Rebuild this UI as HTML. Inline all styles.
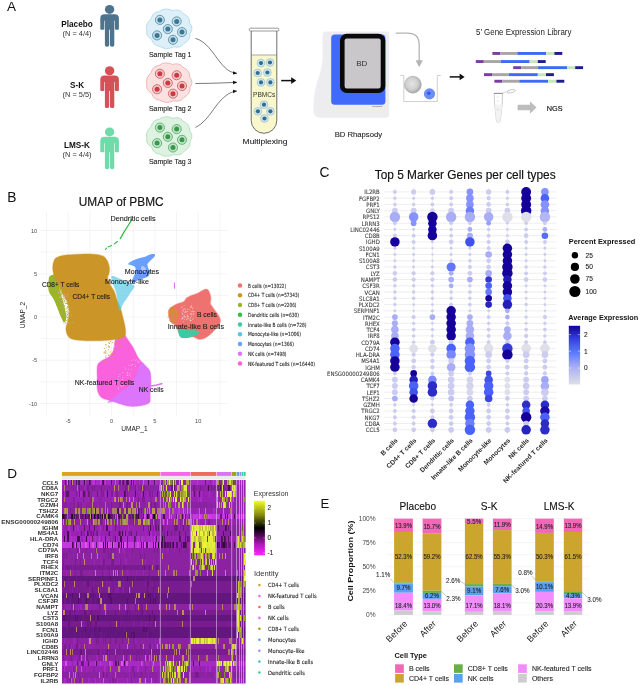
<!DOCTYPE html>
<html><head><meta charset="utf-8"><title>Figure</title><style>html,body{margin:0;padding:0;background:#fff;width:640px;height:685px;overflow:hidden}svg{display:block}</style></head><body>
<svg width="640" height="685" viewBox="0 0 640 685">
<text x="7" y="10.6" font-family="Liberation Sans, Arial, sans-serif" font-size="13.5" fill="#111">A</text>
<ellipse cx="109.6" cy="9.4" rx="4.7" ry="4.5" fill="#4D748C"/><path d="M100.3,18.5 Q100.3,14.3 104.5,14.3 L114.69999999999999,14.3 Q118.89999999999999,14.3 118.89999999999999,18.5 L118.89999999999999,28.700000000000003 Q118.89999999999999,29.700000000000003 117.89999999999999,29.700000000000003 L115.89999999999999,29.700000000000003 Q114.89999999999999,29.700000000000003 114.89999999999999,28.700000000000003 L114.89999999999999,20.8 L114.3,20.8 L114.3,45.099999999999994 Q114.3,46.699999999999996 112.49999999999999,46.699999999999996 L111.8,46.699999999999996 Q110.0,46.699999999999996 110.0,45.099999999999994 L110.0,29.700000000000003 L109.19999999999999,29.700000000000003 L109.19999999999999,45.099999999999994 Q109.19999999999999,46.699999999999996 107.39999999999999,46.699999999999996 L106.7,46.699999999999996 Q104.89999999999999,46.699999999999996 104.89999999999999,45.099999999999994 L104.89999999999999,20.8 L104.3,20.8 L104.3,28.700000000000003 Q104.3,29.700000000000003 103.3,29.700000000000003 L101.3,29.700000000000003 Q100.3,29.700000000000003 100.3,28.700000000000003 Z" fill="#4D748C"/>
<text x="77" y="26.9" font-family="Liberation Sans, Arial, sans-serif" font-size="8.2" font-weight="bold" fill="#111" text-anchor="middle">Placebo</text>
<text x="77.1" y="36.1" font-family="Liberation Sans, Arial, sans-serif" font-size="7.4" fill="#333" text-anchor="middle">(N = 4/4)</text>
<path d="M190.09,33.36 Q190.47,40.41 183.82,43.62 Q180.78,48.68 173.74,46.83 Q166.23,50.56 159.84,46.38 Q152.98,45.72 151.67,39.31 Q145.41,35.93 146.81,30.26 Q145.08,23.78 151.18,18.93 Q152.31,12.43 159.21,11.48 Q165.19,7.11 172.66,10.60 Q179.70,8.48 183.10,13.48 Q189.87,16.34 189.80,23.33 Q193.94,28.26 190.09,33.36Z" fill="#DDEFF8" stroke="#A8D4E8" stroke-width="0.75"/><circle cx="159.9" cy="19.9" r="4.55" fill="#3F7894" fill-opacity="0.14" stroke="#3F7894" stroke-width="0.7"/><circle cx="159.9" cy="19.9" r="2.5" fill="#3A7796"/><circle cx="176.7" cy="21.4" r="4.55" fill="#3F7894" fill-opacity="0.14" stroke="#3F7894" stroke-width="0.7"/><circle cx="176.7" cy="21.4" r="2.5" fill="#3A7796"/><circle cx="167.8" cy="29.1" r="4.55" fill="#3F7894" fill-opacity="0.14" stroke="#3F7894" stroke-width="0.7"/><circle cx="167.8" cy="29.1" r="2.5" fill="#3A7796"/><circle cx="182.0" cy="32.1" r="4.55" fill="#3F7894" fill-opacity="0.14" stroke="#3F7894" stroke-width="0.7"/><circle cx="182.0" cy="32.1" r="2.5" fill="#3A7796"/><circle cx="157.1" cy="35.4" r="4.55" fill="#3F7894" fill-opacity="0.14" stroke="#3F7894" stroke-width="0.7"/><circle cx="157.1" cy="35.4" r="2.5" fill="#3A7796"/><circle cx="173.0" cy="39.8" r="4.55" fill="#3F7894" fill-opacity="0.14" stroke="#3F7894" stroke-width="0.7"/><circle cx="173.0" cy="39.8" r="2.5" fill="#3A7796"/>
<text x="170.2" y="56.7" font-family="Liberation Sans, Arial, sans-serif" font-size="7.9" fill="#222" stroke="#222" stroke-width="0.12" text-anchor="middle" textLength="42.6" lengthAdjust="spacingAndGlyphs">Sample Tag 1</text>
<ellipse cx="109.6" cy="70.7" rx="4.7" ry="4.5" fill="#D45157"/><path d="M100.3,79.80000000000001 Q100.3,75.60000000000001 104.5,75.60000000000001 L114.69999999999999,75.60000000000001 Q118.89999999999999,75.60000000000001 118.89999999999999,79.80000000000001 L118.89999999999999,90.0 Q118.89999999999999,91.0 117.89999999999999,91.0 L115.89999999999999,91.0 Q114.89999999999999,91.0 114.89999999999999,90.0 L114.89999999999999,82.10000000000001 L114.3,82.10000000000001 L114.3,106.4 Q114.3,108.0 112.49999999999999,108.0 L111.8,108.0 Q110.0,108.0 110.0,106.4 L110.0,91.0 L109.19999999999999,91.0 L109.19999999999999,106.4 Q109.19999999999999,108.0 107.39999999999999,108.0 L106.7,108.0 Q104.89999999999999,108.0 104.89999999999999,106.4 L104.89999999999999,82.10000000000001 L104.3,82.10000000000001 L104.3,90.0 Q104.3,91.0 103.3,91.0 L101.3,91.0 Q100.3,91.0 100.3,90.0 Z" fill="#D45157"/>
<text x="77" y="87.5" font-family="Liberation Sans, Arial, sans-serif" font-size="8.2" font-weight="bold" fill="#111" text-anchor="middle">S-K</text>
<text x="77.1" y="96.7" font-family="Liberation Sans, Arial, sans-serif" font-size="7.4" fill="#333" text-anchor="middle">(N = 5/5)</text>
<path d="M190.09,87.21 Q190.47,94.26 183.82,97.47 Q180.78,102.53 173.74,100.68 Q166.23,104.41 159.84,100.23 Q152.98,99.57 151.67,93.16 Q145.41,89.78 146.81,84.11 Q145.08,77.63 151.18,72.78 Q152.31,66.28 159.21,65.33 Q165.19,60.96 172.66,64.45 Q179.70,62.33 183.10,67.33 Q189.87,70.19 189.80,77.18 Q193.94,82.11 190.09,87.21Z" fill="#FBE1E0" stroke="#EAA7A6" stroke-width="0.75"/><circle cx="159.9" cy="73.75" r="4.55" fill="#C9414B" fill-opacity="0.14" stroke="#C9414B" stroke-width="0.7"/><circle cx="159.9" cy="73.75" r="2.5" fill="#C93A43"/><circle cx="176.7" cy="75.25" r="4.55" fill="#C9414B" fill-opacity="0.14" stroke="#C9414B" stroke-width="0.7"/><circle cx="176.7" cy="75.25" r="2.5" fill="#C93A43"/><circle cx="167.8" cy="82.95" r="4.55" fill="#C9414B" fill-opacity="0.14" stroke="#C9414B" stroke-width="0.7"/><circle cx="167.8" cy="82.95" r="2.5" fill="#C93A43"/><circle cx="182.0" cy="85.95" r="4.55" fill="#C9414B" fill-opacity="0.14" stroke="#C9414B" stroke-width="0.7"/><circle cx="182.0" cy="85.95" r="2.5" fill="#C93A43"/><circle cx="157.1" cy="89.25" r="4.55" fill="#C9414B" fill-opacity="0.14" stroke="#C9414B" stroke-width="0.7"/><circle cx="157.1" cy="89.25" r="2.5" fill="#C93A43"/><circle cx="173.0" cy="93.65" r="4.55" fill="#C9414B" fill-opacity="0.14" stroke="#C9414B" stroke-width="0.7"/><circle cx="173.0" cy="93.65" r="2.5" fill="#C93A43"/>
<text x="170.2" y="110.6" font-family="Liberation Sans, Arial, sans-serif" font-size="7.9" fill="#222" stroke="#222" stroke-width="0.12" text-anchor="middle" textLength="42.6" lengthAdjust="spacingAndGlyphs">Sample Tag 2</text>
<ellipse cx="109.6" cy="131.9" rx="4.7" ry="4.5" fill="#6EDBA8"/><path d="M100.3,141.0 Q100.3,136.8 104.5,136.8 L114.69999999999999,136.8 Q118.89999999999999,136.8 118.89999999999999,141.0 L118.89999999999999,151.20000000000002 Q118.89999999999999,152.20000000000002 117.89999999999999,152.20000000000002 L115.89999999999999,152.20000000000002 Q114.89999999999999,152.20000000000002 114.89999999999999,151.20000000000002 L114.89999999999999,143.3 L114.3,143.3 L114.3,167.6 Q114.3,169.2 112.49999999999999,169.2 L111.8,169.2 Q110.0,169.2 110.0,167.6 L110.0,152.20000000000002 L109.19999999999999,152.20000000000002 L109.19999999999999,167.6 Q109.19999999999999,169.2 107.39999999999999,169.2 L106.7,169.2 Q104.89999999999999,169.2 104.89999999999999,167.6 L104.89999999999999,143.3 L104.3,143.3 L104.3,151.20000000000002 Q104.3,152.20000000000002 103.3,152.20000000000002 L101.3,152.20000000000002 Q100.3,152.20000000000002 100.3,151.20000000000002 Z" fill="#6EDBA8"/>
<text x="77" y="147.8" font-family="Liberation Sans, Arial, sans-serif" font-size="8.2" font-weight="bold" fill="#111" text-anchor="middle">LMS-K</text>
<text x="77.1" y="157.0" font-family="Liberation Sans, Arial, sans-serif" font-size="7.4" fill="#333" text-anchor="middle">(N = 4/4)</text>
<path d="M190.09,141.06 Q190.47,148.11 183.82,151.32 Q180.78,156.38 173.74,154.53 Q166.23,158.26 159.84,154.08 Q152.98,153.42 151.67,147.01 Q145.41,143.63 146.81,137.96 Q145.08,131.48 151.18,126.63 Q152.31,120.13 159.21,119.18 Q165.19,114.81 172.66,118.30 Q179.70,116.18 183.10,121.18 Q189.87,124.04 189.80,131.03 Q193.94,135.96 190.09,141.06Z" fill="#DDF2E0" stroke="#A6D9AE" stroke-width="0.75"/><circle cx="159.9" cy="127.6" r="4.55" fill="#3B9A4C" fill-opacity="0.14" stroke="#3B9A4C" stroke-width="0.7"/><circle cx="159.9" cy="127.6" r="2.5" fill="#36984A"/><circle cx="176.7" cy="129.1" r="4.55" fill="#3B9A4C" fill-opacity="0.14" stroke="#3B9A4C" stroke-width="0.7"/><circle cx="176.7" cy="129.1" r="2.5" fill="#36984A"/><circle cx="167.8" cy="136.8" r="4.55" fill="#3B9A4C" fill-opacity="0.14" stroke="#3B9A4C" stroke-width="0.7"/><circle cx="167.8" cy="136.8" r="2.5" fill="#36984A"/><circle cx="182.0" cy="139.8" r="4.55" fill="#3B9A4C" fill-opacity="0.14" stroke="#3B9A4C" stroke-width="0.7"/><circle cx="182.0" cy="139.8" r="2.5" fill="#36984A"/><circle cx="157.1" cy="143.1" r="4.55" fill="#3B9A4C" fill-opacity="0.14" stroke="#3B9A4C" stroke-width="0.7"/><circle cx="157.1" cy="143.1" r="2.5" fill="#36984A"/><circle cx="173.0" cy="147.5" r="4.55" fill="#3B9A4C" fill-opacity="0.14" stroke="#3B9A4C" stroke-width="0.7"/><circle cx="173.0" cy="147.5" r="2.5" fill="#36984A"/>
<text x="170.2" y="164.4" font-family="Liberation Sans, Arial, sans-serif" font-size="7.9" fill="#222" stroke="#222" stroke-width="0.12" text-anchor="middle" textLength="42.6" lengthAdjust="spacingAndGlyphs">Sample Tag 3</text>
<defs><marker id="ah" viewBox="0 0 10 10" refX="9" refY="5" markerWidth="7" markerHeight="7" orient="auto"><path d="M0,1 L10,5 L0,9 z" fill="#111"/></marker></defs>
<path d="M195.4,38.3 C207,42 212,52 220,62 C226,69.5 230,72.5 236.8,73.3" fill="none" stroke="#222" stroke-width="0.6" marker-end="url(#ah)"/>
<path d="M195.4,83.5 C210,83.4 222,83 236.8,82.3" fill="none" stroke="#222" stroke-width="0.6" marker-end="url(#ah)"/>
<path d="M195.4,127.4 C203,124 209,116 216,106 C223,97 229,92 236.8,91" fill="none" stroke="#222" stroke-width="0.6" marker-end="url(#ah)"/>
<path d="M251.2,55 L276.8,55 L276.8,120.5 A12.8,12.8 0 0 1 251.2,120.5 Z" fill="#F8F8CC"/>
<line x1="251.6" y1="55" x2="276.4" y2="55" stroke="#888" stroke-width="0.7"/>
<path d="M251.2,31 L251.2,120.5 A12.8,12.8 0 0 0 276.8,120.5 L276.8,31" fill="none" stroke="#4A4A4A" stroke-width="0.8"/>
<rect x="249.3" y="28.2" width="29.6" height="2.8" rx="1.2" fill="#fff" stroke="#555" stroke-width="0.6"/>
<circle cx="261" cy="63.1" r="3.9" fill="#D5E8F2" stroke="#6FA3C0" stroke-width="0.45"/><circle cx="261" cy="63.1" r="2.1" fill="#2E6E8E"/>
<circle cx="270" cy="62.5" r="3.9" fill="#D5E8F2" stroke="#6FA3C0" stroke-width="0.45"/><circle cx="270" cy="62.5" r="2.1" fill="#2E6E8E"/>
<circle cx="257.7" cy="73" r="3.9" fill="#D5E8F2" stroke="#6FA3C0" stroke-width="0.45"/><circle cx="257.7" cy="73" r="2.1" fill="#2E6E8E"/>
<circle cx="267.4" cy="72.5" r="3.9" fill="#D5E8F2" stroke="#6FA3C0" stroke-width="0.45"/><circle cx="267.4" cy="72.5" r="2.1" fill="#2E6E8E"/>
<circle cx="261" cy="82.4" r="3.9" fill="#D5E8F2" stroke="#6FA3C0" stroke-width="0.45"/><circle cx="261" cy="82.4" r="2.1" fill="#2E6E8E"/>
<circle cx="270.4" cy="82.4" r="3.9" fill="#D5E8F2" stroke="#6FA3C0" stroke-width="0.45"/><circle cx="270.4" cy="82.4" r="2.1" fill="#2E6E8E"/>
<circle cx="264" cy="104.7" r="3.9" fill="#D5E8F2" stroke="#6FA3C0" stroke-width="0.45"/><circle cx="264" cy="104.7" r="2.1" fill="#2E6E8E"/>
<circle cx="257.9" cy="111.3" r="3.9" fill="#D5E8F2" stroke="#6FA3C0" stroke-width="0.45"/><circle cx="257.9" cy="111.3" r="2.1" fill="#2E6E8E"/>
<circle cx="270.4" cy="111.3" r="3.9" fill="#D5E8F2" stroke="#6FA3C0" stroke-width="0.45"/><circle cx="270.4" cy="111.3" r="2.1" fill="#2E6E8E"/>
<circle cx="264.5" cy="118.5" r="3.9" fill="#D5E8F2" stroke="#6FA3C0" stroke-width="0.45"/><circle cx="264.5" cy="118.5" r="2.1" fill="#2E6E8E"/>
<text x="264.2" y="97" font-family="Liberation Sans, Arial, sans-serif" font-size="7.1" fill="#333" text-anchor="middle" textLength="22.3" lengthAdjust="spacingAndGlyphs">PBMCs</text>
<text x="265" y="143.5" font-family="Liberation Sans, Arial, sans-serif" font-size="8.1" fill="#222" stroke="#222" stroke-width="0.1" text-anchor="middle" textLength="44.9" lengthAdjust="spacingAndGlyphs">Multiplexing</text>
<line x1="281.2" y1="80.6" x2="292" y2="80.6" stroke="#111" stroke-width="1.5"/><path d="M291.2,77.3 L296.3,80.6 L291.2,83.9 Z" fill="#111"/>
<path d="M326,31.4 L386,31.4 Q389.2,31.4 389.2,34.6 L389.2,114.5 Q389.2,117.8 386,117.8 L320,117.8 Q313.2,117.8 313.4,110 L313.8,99 Q314.5,90 318.5,78 Q322.4,66 322.6,58 L322.6,35 Q322.6,31.4 326,31.4 Z" fill="#EDEDEF"/>
<rect x="331.2" y="34.5" width="54.2" height="70.2" rx="3.5" fill="#406AFC"/>
<rect x="342.3" y="36.1" width="40.7" height="54.6" rx="4.5" fill="#C9C7C9" stroke="#0A0A0A" stroke-width="4.6"/>
<text x="361.8" y="65.8" font-family="Liberation Sans, Arial, sans-serif" font-size="8" fill="#333" text-anchor="middle">BD</text>
<text x="377.5" y="107.2" font-family="Liberation Sans, Arial, sans-serif" font-size="1.6" fill="#444" text-anchor="middle">BD Rhapsody</text>
<text x="358.4" y="136.8" font-family="Liberation Sans, Arial, sans-serif" font-size="7.8" fill="#222" stroke="#222" stroke-width="0.1" text-anchor="middle" textLength="47.3" lengthAdjust="spacingAndGlyphs">BD Rhapsody</text>
<path d="M395.8,33.2 L407.5,33.2 Q419.2,33.2 419.2,45 L419.2,61" fill="none" stroke="#B4B4B4" stroke-width="1.3"/>
<path d="M415.6,60.2 L422.8,60.2 L419.2,67.2 Z" fill="#B4B4B4"/>
<path d="M400.3,75.5 L403.8,75.5 L403.8,101.5 L437.3,101.5 L437.3,75.5 L440.8,75.5" fill="none" stroke="#C4C4C4" stroke-width="0.8"/>
<defs><radialGradient id="bead" cx="0.45" cy="0.45" r="0.55"><stop offset="0" stop-color="#E4E4E4"/><stop offset="0.6" stop-color="#D0D0D0"/><stop offset="1" stop-color="#A4A4A4"/></radialGradient></defs>
<circle cx="412.8" cy="84.6" r="8.8" fill="url(#bead)"/>
<circle cx="429.5" cy="93.9" r="5.6" fill="#6E8EF6"/><circle cx="428.8" cy="93.2" r="1.7" fill="#2E55EE"/>
<line x1="449.7" y1="76.9" x2="460.5" y2="76.9" stroke="#111" stroke-width="1.5"/><path d="M459.6,73.6 L464.6,76.9 L459.6,80.2 Z" fill="#111"/>
<text x="476" y="35.4" font-family="Liberation Sans, Arial, sans-serif" font-size="8.3" fill="#222" textLength="95.4" lengthAdjust="spacingAndGlyphs">5’ Gene Expression Library</text>
<rect x="492.4" y="52.0" width="8.0" height="2.9" fill="#7B3DA3"/>
<rect x="500.4" y="52.0" width="16.9" height="2.9" fill="#A9A5A5"/>
<rect x="517.3" y="52.0" width="28.9" height="2.9" fill="#3E6BF2"/>
<rect x="546.2" y="52.0" width="8.2" height="2.9" fill="#C7E6BE"/>
<rect x="554.4" y="52.0" width="7.9" height="2.9" fill="#1F1D8E"/>
<rect x="475.8" y="60.1" width="8.0" height="2.9" fill="#7B3DA3"/>
<rect x="483.8" y="60.1" width="16.9" height="2.9" fill="#A9A5A5"/>
<rect x="500.7" y="60.1" width="28.9" height="2.9" fill="#3E6BF2"/>
<rect x="529.6" y="60.1" width="8.2" height="2.9" fill="#C7E6BE"/>
<rect x="537.8" y="60.1" width="7.9" height="2.9" fill="#1F1D8E"/>
<rect x="513.2" y="66.2" width="8.0" height="2.9" fill="#7B3DA3"/>
<rect x="521.2" y="66.2" width="16.9" height="2.9" fill="#A9A5A5"/>
<rect x="538.1" y="66.2" width="28.9" height="2.9" fill="#3E6BF2"/>
<rect x="567.0" y="66.2" width="8.2" height="2.9" fill="#C7E6BE"/>
<rect x="575.2" y="66.2" width="7.9" height="2.9" fill="#1F1D8E"/>
<rect x="484.0" y="73.2" width="8.0" height="2.9" fill="#7B3DA3"/>
<rect x="492.0" y="73.2" width="16.9" height="2.9" fill="#A9A5A5"/>
<rect x="508.9" y="73.2" width="28.9" height="2.9" fill="#3E6BF2"/>
<rect x="537.8" y="73.2" width="8.2" height="2.9" fill="#C7E6BE"/>
<rect x="546.0" y="73.2" width="7.9" height="2.9" fill="#1F1D8E"/>
<rect x="494.4" y="79.8" width="8.0" height="2.9" fill="#7B3DA3"/>
<rect x="502.4" y="79.8" width="16.9" height="2.9" fill="#A9A5A5"/>
<rect x="519.3" y="79.8" width="28.9" height="2.9" fill="#3E6BF2"/>
<rect x="548.2" y="79.8" width="8.2" height="2.9" fill="#C7E6BE"/>
<rect x="556.4" y="79.8" width="7.9" height="2.9" fill="#1F1D8E"/>
<path d="M494.2,93.4 L502.6,93.4 L502.2,104 L500.2,121.5 Q498.4,123.8 496.6,121.5 L494.6,104 Z" fill="#fff" stroke="#9A9A9A" stroke-width="0.5"/>
<path d="M494.6,104.5 L502.2,104.5 L500.2,121.5 Q498.4,123.8 496.6,121.5 Z" fill="#F2F2F2"/>
<line x1="494" y1="93.4" x2="502.8" y2="93.4" stroke="#888" stroke-width="0.9"/>
<line x1="496.5" y1="97" x2="499" y2="97" stroke="#AAA" stroke-width="0.3"/><line x1="496.5" y1="101" x2="499" y2="101" stroke="#AAA" stroke-width="0.3"/><line x1="496.5" y1="109.5" x2="499" y2="109.5" stroke="#AAA" stroke-width="0.3"/>
<path d="M502.6,93.4 Q505,92 507,91.6" fill="none" stroke="#999" stroke-width="0.4"/>
<ellipse cx="511.2" cy="91.2" rx="4.2" ry="1.5" transform="rotate(-12 511.2 91.2)" fill="#fff" stroke="#999" stroke-width="0.5"/>
<path d="M517.6,104.7 L530,104.7 L530,101.2 L536.5,107.5 L530,113.8 L530,110.3 L517.6,110.3 Z" fill="#BDBDBD"/>
<text x="546.7" y="110.6" font-family="Liberation Sans, Arial, sans-serif" font-size="7.3" fill="#111" stroke="#111" stroke-width="0.15">NGS</text>
<text x="7.3" y="202.1" font-family="Liberation Sans, Arial, sans-serif" font-size="13.8" fill="#111">B</text>
<text x="78.8" y="205.8" font-family="Liberation Sans, Arial, sans-serif" font-size="12.5" fill="#111" stroke="#111" stroke-width="0.15" textLength="84.8" lengthAdjust="spacingAndGlyphs">UMAP of PBMC</text>
<path d="M46.5,211.3V415.7M68.2,211.3V415.7M89.8,211.3V415.7M111.5,211.3V415.7M133.2,211.3V415.7M154.8,211.3V415.7M176.5,211.3V415.7M198.2,211.3V415.7M219.9,211.3V415.7M39.7,230.5H227.8M39.7,252.1H227.8M39.7,273.8H227.8M39.7,295.4H227.8M39.7,317.0H227.8M39.7,338.6H227.8M39.7,360.2H227.8M39.7,381.9H227.8M39.7,403.5H227.8" stroke="#EBEBEB" stroke-width="0.55" fill="none"/>
<text x="37.2" y="232.5" font-family="Liberation Sans, Arial, sans-serif" font-size="5.6" fill="#4D4D4D" text-anchor="end">10</text>
<text x="37.2" y="275.8" font-family="Liberation Sans, Arial, sans-serif" font-size="5.6" fill="#4D4D4D" text-anchor="end">5</text>
<text x="37.2" y="319.0" font-family="Liberation Sans, Arial, sans-serif" font-size="5.6" fill="#4D4D4D" text-anchor="end">0</text>
<text x="37.2" y="362.2" font-family="Liberation Sans, Arial, sans-serif" font-size="5.6" fill="#4D4D4D" text-anchor="end">-5</text>
<text x="37.2" y="405.5" font-family="Liberation Sans, Arial, sans-serif" font-size="5.6" fill="#4D4D4D" text-anchor="end">-10</text>
<text x="68.2" y="422.9" font-family="Liberation Sans, Arial, sans-serif" font-size="5.6" fill="#4D4D4D" text-anchor="middle">-5</text>
<text x="111.5" y="422.9" font-family="Liberation Sans, Arial, sans-serif" font-size="5.6" fill="#4D4D4D" text-anchor="middle">0</text>
<text x="154.8" y="422.9" font-family="Liberation Sans, Arial, sans-serif" font-size="5.6" fill="#4D4D4D" text-anchor="middle">5</text>
<text x="198.2" y="422.9" font-family="Liberation Sans, Arial, sans-serif" font-size="5.6" fill="#4D4D4D" text-anchor="middle">10</text>
<text x="134.4" y="430.7" font-family="Liberation Sans, Arial, sans-serif" font-size="6.6" fill="#222" text-anchor="middle">UMAP_1</text>
<text x="0" y="0" font-family="Liberation Sans, Arial, sans-serif" font-size="6.6" fill="#222" text-anchor="middle" transform="translate(24.7,315) rotate(-90)">UMAP_2</text>
<path d="M122.5,332.0 C124.1,332.5 125.4,336.1 127.2,338.8 C129.0,341.4 131.6,344.9 133.4,348.0 C135.2,351.1 136.3,354.6 138.1,357.5 C139.9,360.4 142.4,362.9 144.4,365.3 C146.4,367.7 148.8,368.7 149.8,371.6 C150.8,374.5 150.6,378.6 150.6,382.5 C150.6,386.4 150.1,391.6 149.8,395.0 C149.5,398.4 151.2,401.0 149.0,402.8 C146.8,404.6 140.5,405.6 136.6,406.0 C132.7,406.4 129.5,406.0 125.6,405.2 C121.7,404.4 117.0,402.4 113.1,401.2 C109.2,400.1 104.8,399.8 102.2,398.0 C99.6,396.2 98.3,393.7 97.5,390.3 C96.7,386.9 97.2,382.0 97.2,377.8 C97.2,373.6 96.7,368.2 97.5,365.3 C98.3,362.4 100.5,361.9 102.2,360.6 C104.0,359.3 106.4,358.6 108.0,357.5 C109.6,356.4 110.6,355.6 111.6,354.0 C112.6,352.4 113.7,350.0 114.2,348.0 C114.7,346.0 114.1,343.9 114.7,341.9 C115.3,339.9 116.5,337.6 117.8,336.0 C119.1,334.4 120.9,331.5 122.5,332.0Z" fill="#F962DC" stroke="#F962DC" stroke-opacity="0.35" stroke-width="1.4"/>
<path d="M141.5,362.5 C142.7,362.0 144.1,364.5 145.5,366.0 C146.9,367.5 149.0,368.9 149.8,371.6 C150.7,374.4 150.6,378.6 150.6,382.5 C150.6,386.4 150.1,391.6 149.8,395.0 C149.5,398.4 151.2,401.0 149.0,402.8 C146.8,404.6 140.5,405.6 136.6,406.0 C132.7,406.4 129.5,405.9 125.6,405.2 C121.7,404.4 116.0,401.9 113.1,401.5 C110.2,401.1 108.0,403.1 108.0,402.5 C108.0,401.9 111.0,399.7 113.0,398.0 C115.0,396.3 117.5,394.3 120.0,392.5 C122.5,390.7 125.6,389.2 128.0,387.0 C130.4,384.8 132.8,382.0 134.5,379.0 C136.2,376.0 137.3,371.8 138.5,369.0 C139.7,366.2 140.3,363.0 141.5,362.5Z" fill="#DC74FC" stroke="#DC74FC" stroke-opacity="0.35" stroke-width="1.4"/>
<path d="M150,386 L156,385.2 L162.5,383.4" stroke="#DC74FC" stroke-width="1.6" fill="none"/>
<path d="M50.0,276.0 C51.1,275.1 53.7,274.1 55.0,274.8 C56.3,275.6 57.0,278.1 57.8,280.5 C58.5,282.9 58.7,286.3 59.5,289.5 C60.3,292.7 61.6,296.2 62.5,299.5 C63.4,302.8 64.4,305.9 65.0,309.0 C65.6,312.1 66.4,315.8 66.2,318.0 C66.0,320.2 65.0,322.8 64.0,322.5 C63.0,322.2 61.7,318.6 60.5,316.0 C59.3,313.4 58.2,309.8 57.0,307.0 C55.8,304.2 54.8,301.3 53.5,299.0 C52.2,296.7 50.4,294.9 49.5,293.0 C48.6,291.1 48.4,289.6 48.2,287.5 C48.1,285.4 48.3,282.4 48.6,280.5 C48.9,278.6 48.9,276.9 50.0,276.0Z" fill="#9AB52A" />
<path d="M53.3,263.2 C53.8,261.6 54.0,259.6 55.6,258.3 C57.2,257.0 59.0,256.1 63.0,255.4 C67.0,254.7 74.6,254.4 79.7,254.2 C84.8,254.0 89.6,253.9 93.5,254.2 C97.4,254.5 101.0,255.0 103.3,256.2 C105.6,257.4 106.4,259.1 107.4,261.1 C108.4,263.1 109.3,265.8 109.5,268.0 C109.7,270.2 109.1,272.7 108.8,274.3 C108.5,275.9 107.4,276.0 107.6,277.7 C107.8,279.4 109.1,282.4 110.2,284.7 C111.3,287.0 113.2,289.1 114.3,291.6 C115.4,294.1 116.0,297.1 117.1,299.9 C118.1,302.7 119.7,305.5 120.6,308.3 C121.5,311.1 122.0,313.8 122.7,316.6 C123.4,319.4 124.2,322.4 124.7,324.9 C125.2,327.4 125.6,329.9 125.6,331.8 C125.6,333.7 125.7,334.8 124.7,336.0 C123.8,337.2 122.8,338.1 119.9,338.8 C117.0,339.5 111.8,339.9 107.4,340.2 C103.0,340.5 98.1,340.8 93.5,340.8 C88.9,340.8 83.4,340.5 79.7,340.2 C76.0,339.9 73.5,339.7 71.4,338.8 C69.3,337.9 68.1,336.5 67.2,334.6 C66.3,332.8 65.8,330.2 66.0,327.7 C66.2,325.1 67.7,322.1 68.2,319.3 C68.7,316.5 69.5,314.1 69.2,311.0 C68.9,307.9 67.9,303.8 66.5,300.5 C65.1,297.2 62.5,294.1 61.0,291.0 C59.5,287.9 58.7,284.7 57.5,282.0 C56.3,279.3 54.8,277.3 54.0,275.0 C53.2,272.7 52.8,270.0 52.7,268.0 C52.6,266.0 52.8,264.8 53.3,263.2Z" fill="#CB9627" stroke="#CB9627" stroke-opacity="0.35" stroke-width="1.4"/>
<path d="M111.5,276.0 C112.3,275.0 115.6,277.1 118.0,278.0 C120.4,278.9 123.2,280.2 126.0,281.5 C128.8,282.8 133.7,284.2 134.5,286.0 C135.3,287.8 132.3,289.8 131.0,292.0 C129.7,294.2 127.9,296.8 126.5,299.0 C125.1,301.2 123.5,303.1 122.5,305.0 C121.5,306.9 121.0,309.8 120.3,310.5 C119.6,311.2 119.0,310.6 118.5,309.0 C118.0,307.4 117.9,303.8 117.5,301.0 C117.1,298.2 116.8,294.8 116.0,292.0 C115.2,289.2 113.8,286.7 113.0,284.0 C112.2,281.3 110.7,277.0 111.5,276.0Z" fill="#55C6E6" fill-opacity="0.68"/>
<path d="M128.5,263.5 C128.8,262.8 131.2,261.4 133.0,260.5 C134.8,259.6 137.0,258.9 139.0,258.3 C141.0,257.7 143.2,257.4 145.0,256.8 C146.8,256.2 148.4,254.9 150.0,254.5 C151.6,254.1 153.9,253.9 154.7,254.2 C155.4,254.5 155.2,255.4 154.5,256.5 C153.8,257.6 151.7,259.2 150.5,260.5 C149.3,261.8 147.9,262.8 147.5,264.0 C147.1,265.2 147.8,266.7 148.2,268.0 C148.6,269.3 150.2,270.6 150.2,272.0 C150.2,273.4 149.3,275.4 148.0,276.5 C146.7,277.6 144.2,278.1 142.5,278.8 C140.8,279.5 139.0,279.7 137.5,280.5 C136.0,281.3 134.5,283.3 133.5,283.5 C132.5,283.7 131.5,282.6 131.5,281.5 C131.5,280.4 132.8,278.6 133.5,277.0 C134.2,275.4 135.2,273.7 135.5,272.0 C135.8,270.3 135.8,268.2 135.0,267.0 C134.2,265.8 132.1,265.6 131.0,265.0 C129.9,264.4 128.2,264.2 128.5,263.5Z" fill="#6A9EFF" />
<path d="M128.4,264.3 L132.5,263.2" stroke="#55C6E6" stroke-width="1"/>
<ellipse cx="143.5" cy="269" rx="2.2" ry="3.2" fill="#fff" fill-opacity="0.45" transform="rotate(-30 143.5 269)"/>
<path d="M131.6,219.8 L128.5,225 L124,232 L120.3,238.6" stroke="#33BE45" stroke-width="1.35" fill="none" stroke-linecap="round"/>
<path d="M117.5,241.5 L114.5,243.8 M111.5,245.5 L108.2,247 M106.5,248.2 L105.4,249.3" stroke="#33BE45" stroke-width="1.1" fill="none" stroke-linecap="round"/>
<path d="M206.2,289.1 C207.3,289.2 208.2,289.9 209.0,291.4 C209.8,292.9 210.7,296.0 210.9,298.0 C211.1,300.0 210.1,302.0 210.4,303.6 C210.7,305.2 211.6,305.7 212.8,307.4 C214.0,309.1 216.2,311.9 217.5,313.9 C218.8,315.9 220.0,317.9 220.3,319.6 C220.6,321.3 220.2,322.6 219.4,324.2 C218.6,325.8 217.2,327.2 215.6,328.9 C214.0,330.6 211.9,332.9 210.0,334.5 C208.1,336.1 206.3,337.5 204.4,338.3 C202.5,339.1 200.6,339.4 198.7,339.2 C196.8,338.9 195.1,337.1 193.1,336.8 C191.1,336.5 188.6,337.6 186.6,337.6 C184.6,337.6 182.3,337.7 180.9,336.6 C179.5,335.5 179.0,332.7 178.1,330.8 C177.2,328.9 176.6,326.8 175.3,325.2 C174.1,323.6 171.7,323.1 170.6,321.4 C169.5,319.7 169.0,316.8 168.7,314.9 C168.4,313.0 168.1,311.6 168.7,310.2 C169.3,308.8 170.9,307.5 172.5,306.4 C174.1,305.3 176.2,304.4 178.1,303.6 C180.0,302.8 182.3,302.6 183.7,301.7 C185.1,300.8 185.2,299.1 186.6,298.0 C188.0,296.9 190.3,296.0 192.2,295.2 C194.1,294.4 196.1,294.1 197.8,293.3 C199.5,292.5 201.1,291.2 202.5,290.5 C203.9,289.8 205.1,289.0 206.2,289.1Z" fill="#EE7370" stroke="#EE7370" stroke-opacity="0.35" stroke-width="1.4"/>
<path d="M179.1,328.9 C180.7,328.3 185.3,329.6 188.4,329.9 C191.5,330.2 196.1,330.2 197.8,330.8 C199.6,331.4 199.7,332.6 198.9,333.6 C198.1,334.6 195.2,335.9 193.1,336.6 C191.0,337.3 188.6,337.8 186.6,337.9 C184.6,338.0 182.2,338.2 180.9,337.5 C179.6,336.8 178.9,335.0 178.6,333.6 C178.3,332.2 177.5,329.5 179.1,328.9Z" fill="#3FC9A2" />
<path d="M69.8,310.0h0.8v0.8h-0.8zM60.5,307.0h0.8v0.8h-0.8zM61.9,290.4h0.8v0.8h-0.8zM61.9,308.7h0.8v0.8h-0.8zM64.6,318.9h0.8v0.8h-0.8zM72.5,323.3h0.8v0.8h-0.8zM72.6,322.7h0.8v0.8h-0.8zM60.5,298.4h0.8v0.8h-0.8zM59.9,284.1h0.8v0.8h-0.8zM61.9,286.3h0.8v0.8h-0.8zM70.1,314.0h0.8v0.8h-0.8zM56.8,284.4h0.8v0.8h-0.8zM72.8,321.2h0.8v0.8h-0.8zM63.2,305.8h0.8v0.8h-0.8zM58.1,291.1h0.8v0.8h-0.8zM71.1,311.6h0.8v0.8h-0.8zM66.8,317.1h0.8v0.8h-0.8zM61.6,286.2h0.8v0.8h-0.8zM67.7,303.7h0.8v0.8h-0.8zM62.9,315.5h0.8v0.8h-0.8zM62.1,290.0h0.8v0.8h-0.8zM66.3,313.2h0.8v0.8h-0.8zM60.6,300.2h0.8v0.8h-0.8zM63.1,304.0h0.8v0.8h-0.8zM65.3,298.5h0.8v0.8h-0.8zM66.9,307.2h0.8v0.8h-0.8zM61.7,312.8h0.8v0.8h-0.8zM65.5,301.6h0.8v0.8h-0.8zM67.4,311.4h0.8v0.8h-0.8zM61.8,302.9h0.8v0.8h-0.8zM59.1,289.3h0.8v0.8h-0.8zM65.9,293.5h0.8v0.8h-0.8zM61.8,300.2h0.8v0.8h-0.8zM61.7,288.6h0.8v0.8h-0.8zM59.9,285.4h0.8v0.8h-0.8zM71.8,322.3h0.8v0.8h-0.8zM68.6,316.5h0.8v0.8h-0.8zM66.9,298.0h0.8v0.8h-0.8zM63.0,299.0h0.8v0.8h-0.8zM67.1,295.7h0.8v0.8h-0.8zM60.6,288.9h0.8v0.8h-0.8zM59.3,284.5h0.8v0.8h-0.8zM71.2,321.4h0.8v0.8h-0.8zM61.4,288.7h0.8v0.8h-0.8zM63.3,305.3h0.8v0.8h-0.8zM64.5,305.2h0.8v0.8h-0.8zM67.5,313.8h0.8v0.8h-0.8zM68.3,319.5h0.8v0.8h-0.8zM66.8,320.5h0.8v0.8h-0.8zM64.3,318.1h0.8v0.8h-0.8zM65.5,311.8h0.8v0.8h-0.8zM71.1,315.2h0.8v0.8h-0.8zM62.7,316.5h0.8v0.8h-0.8zM70.8,323.9h0.8v0.8h-0.8zM70.6,322.1h0.8v0.8h-0.8zM66.6,295.7h0.8v0.8h-0.8zM64.7,308.4h0.8v0.8h-0.8zM61.2,308.9h0.8v0.8h-0.8zM59.7,299.2h0.8v0.8h-0.8zM59.7,289.4h0.8v0.8h-0.8zM63.1,294.5h0.8v0.8h-0.8zM66.8,314.0h0.8v0.8h-0.8zM60.6,287.4h0.8v0.8h-0.8zM60.5,289.0h0.8v0.8h-0.8zM67.5,319.1h0.8v0.8h-0.8zM63.3,311.2h0.8v0.8h-0.8zM60.8,289.6h0.8v0.8h-0.8zM62.3,297.9h0.8v0.8h-0.8zM60.1,299.8h0.8v0.8h-0.8zM66.9,303.2h0.8v0.8h-0.8zM63.7,301.1h0.8v0.8h-0.8zM58.4,290.2h0.8v0.8h-0.8zM67.1,299.4h0.8v0.8h-0.8zM60.6,294.2h0.8v0.8h-0.8zM61.4,285.3h0.8v0.8h-0.8zM68.5,302.9h0.8v0.8h-0.8zM63.1,313.2h0.8v0.8h-0.8zM57.8,285.0h0.8v0.8h-0.8zM68.1,300.0h0.8v0.8h-0.8zM62.8,296.5h0.8v0.8h-0.8zM68.7,313.3h0.8v0.8h-0.8zM68.7,323.6h0.8v0.8h-0.8zM68.6,303.6h0.8v0.8h-0.8zM58.6,293.7h0.8v0.8h-0.8zM58.2,286.4h0.8v0.8h-0.8zM59.0,296.2h0.8v0.8h-0.8zM64.1,300.1h0.8v0.8h-0.8zM65.2,303.5h0.8v0.8h-0.8zM59.0,293.0h0.8v0.8h-0.8zM59.8,296.5h0.8v0.8h-0.8zM58.9,293.8h0.8v0.8h-0.8zM62.8,307.1h0.8v0.8h-0.8zM61.7,312.0h0.8v0.8h-0.8zM61.7,295.4h0.8v0.8h-0.8zM67.5,314.4h0.8v0.8h-0.8zM68.5,313.1h0.8v0.8h-0.8zM66.0,316.5h0.8v0.8h-0.8zM57.8,286.6h0.8v0.8h-0.8zM63.9,311.0h0.8v0.8h-0.8zM67.3,314.6h0.8v0.8h-0.8zM57.5,286.0h0.8v0.8h-0.8zM61.8,293.2h0.8v0.8h-0.8zM69.6,317.1h0.8v0.8h-0.8zM63.7,302.4h0.8v0.8h-0.8zM69.4,322.8h0.8v0.8h-0.8zM66.3,316.6h0.8v0.8h-0.8zM68.0,303.3h0.8v0.8h-0.8zM60.3,292.6h0.8v0.8h-0.8zM61.2,293.7h0.8v0.8h-0.8zM64.6,308.7h0.8v0.8h-0.8zM67.2,317.3h0.8v0.8h-0.8zM68.5,308.9h0.8v0.8h-0.8zM59.9,291.4h0.8v0.8h-0.8zM58.3,285.1h0.8v0.8h-0.8zM66.3,303.0h0.8v0.8h-0.8zM66.3,311.2h0.8v0.8h-0.8zM57.5,287.1h0.8v0.8h-0.8zM66.8,296.3h0.8v0.8h-0.8zM63.9,305.8h0.8v0.8h-0.8zM67.1,306.1h0.8v0.8h-0.8zM64.8,319.5h0.8v0.8h-0.8zM65.8,320.2h0.8v0.8h-0.8zM70.0,308.2h0.8v0.8h-0.8zM62.4,308.1h0.8v0.8h-0.8zM72.1,317.4h0.8v0.8h-0.8zM60.7,303.1h0.8v0.8h-0.8zM58.1,290.3h0.8v0.8h-0.8z" fill="#9AB52A"/>
<path d="M62.0,302.8h0.8v0.8h-0.8zM65.9,296.4h0.8v0.8h-0.8zM65.6,315.5h0.8v0.8h-0.8zM61.9,285.9h0.8v0.8h-0.8zM61.4,300.2h0.8v0.8h-0.8zM67.9,323.0h0.8v0.8h-0.8zM60.6,307.2h0.8v0.8h-0.8zM64.0,294.0h0.8v0.8h-0.8zM68.5,322.3h0.8v0.8h-0.8zM58.0,291.7h0.8v0.8h-0.8zM64.6,299.2h0.8v0.8h-0.8zM63.4,305.8h0.8v0.8h-0.8zM60.7,289.7h0.8v0.8h-0.8zM72.8,322.4h0.8v0.8h-0.8zM66.8,294.4h0.8v0.8h-0.8zM62.5,303.7h0.8v0.8h-0.8zM63.9,295.7h0.8v0.8h-0.8zM66.1,315.1h0.8v0.8h-0.8zM67.6,312.3h0.8v0.8h-0.8zM64.9,303.1h0.8v0.8h-0.8zM60.1,297.2h0.8v0.8h-0.8zM61.0,290.0h0.8v0.8h-0.8zM67.3,301.3h0.8v0.8h-0.8zM60.5,295.5h0.8v0.8h-0.8zM59.7,300.4h0.8v0.8h-0.8zM64.9,322.9h0.8v0.8h-0.8zM59.6,296.6h0.8v0.8h-0.8zM58.1,292.6h0.8v0.8h-0.8zM58.9,297.2h0.8v0.8h-0.8zM71.2,314.7h0.8v0.8h-0.8zM63.4,323.1h0.8v0.8h-0.8zM59.1,284.4h0.8v0.8h-0.8zM67.9,311.7h0.8v0.8h-0.8zM65.6,315.9h0.8v0.8h-0.8zM62.7,308.4h0.8v0.8h-0.8zM58.6,293.0h0.8v0.8h-0.8zM63.2,300.7h0.8v0.8h-0.8zM57.3,285.2h0.8v0.8h-0.8zM62.1,313.2h0.8v0.8h-0.8z" fill="#F0A0E0"/>
<path d="M68.0,308.9h0.8v0.8h-0.8zM66.4,295.2h0.8v0.8h-0.8zM68.8,322.5h0.8v0.8h-0.8zM66.0,292.2h0.8v0.8h-0.8zM58.5,286.6h0.8v0.8h-0.8zM62.9,296.6h0.8v0.8h-0.8zM65.1,322.2h0.8v0.8h-0.8zM63.6,298.2h0.8v0.8h-0.8zM61.2,288.3h0.8v0.8h-0.8zM58.9,287.6h0.8v0.8h-0.8zM71.0,313.3h0.8v0.8h-0.8zM73.5,323.5h0.8v0.8h-0.8zM66.0,298.5h0.8v0.8h-0.8zM67.8,311.8h0.8v0.8h-0.8zM67.0,303.4h0.8v0.8h-0.8zM66.8,295.8h0.8v0.8h-0.8zM68.7,316.7h0.8v0.8h-0.8zM64.6,297.9h0.8v0.8h-0.8zM66.2,303.1h0.8v0.8h-0.8zM63.2,313.2h0.8v0.8h-0.8zM68.3,308.9h0.8v0.8h-0.8zM73.3,322.3h0.8v0.8h-0.8zM60.2,288.3h0.8v0.8h-0.8zM66.8,309.8h0.8v0.8h-0.8zM70.2,316.8h0.8v0.8h-0.8zM64.5,317.7h0.8v0.8h-0.8zM59.5,299.0h0.8v0.8h-0.8zM68.5,320.4h0.8v0.8h-0.8zM61.3,293.4h0.8v0.8h-0.8zM61.6,291.2h0.8v0.8h-0.8zM62.2,315.9h0.8v0.8h-0.8zM61.0,293.4h0.8v0.8h-0.8zM66.1,307.7h0.8v0.8h-0.8zM68.0,302.8h0.8v0.8h-0.8zM70.2,321.5h0.8v0.8h-0.8zM63.9,310.7h0.8v0.8h-0.8zM56.8,284.3h0.8v0.8h-0.8zM62.2,300.8h0.8v0.8h-0.8zM68.8,306.2h0.8v0.8h-0.8zM72.2,318.4h0.8v0.8h-0.8zM61.7,305.2h0.8v0.8h-0.8zM68.2,301.8h0.8v0.8h-0.8zM63.7,306.5h0.8v0.8h-0.8zM58.2,290.8h0.8v0.8h-0.8zM64.7,320.0h0.8v0.8h-0.8zM67.8,307.2h0.8v0.8h-0.8zM62.1,312.6h0.8v0.8h-0.8zM69.5,311.5h0.8v0.8h-0.8zM60.8,299.6h0.8v0.8h-0.8zM72.2,320.0h0.8v0.8h-0.8zM60.1,299.5h0.8v0.8h-0.8zM61.1,290.7h0.8v0.8h-0.8zM71.2,317.2h0.8v0.8h-0.8zM66.8,307.8h0.8v0.8h-0.8zM61.7,308.6h0.8v0.8h-0.8z" fill="#CB9627"/>
<path d="M115.7,350.6h0.9v0.9h-0.9zM108.2,349.3h0.9v0.9h-0.9zM105.6,343.9h0.9v0.9h-0.9zM105.5,357.1h0.9v0.9h-0.9zM122.4,337.1h0.9v0.9h-0.9zM117.8,337.5h0.9v0.9h-0.9zM108.3,342.3h0.9v0.9h-0.9zM103.8,348.1h0.9v0.9h-0.9zM115.8,343.2h0.9v0.9h-0.9zM111.8,342.0h0.9v0.9h-0.9zM105.0,352.4h0.9v0.9h-0.9zM105.4,344.6h0.9v0.9h-0.9zM125.3,340.6h0.9v0.9h-0.9zM118.7,347.6h0.9v0.9h-0.9zM108.3,355.0h0.9v0.9h-0.9zM106.7,352.7h0.9v0.9h-0.9zM106.3,346.9h0.9v0.9h-0.9zM109.0,343.0h0.9v0.9h-0.9zM108.9,346.3h0.9v0.9h-0.9zM105.8,361.7h0.9v0.9h-0.9zM109.0,342.7h0.9v0.9h-0.9zM105.5,351.2h0.9v0.9h-0.9zM109.8,351.6h0.9v0.9h-0.9zM113.4,347.8h0.9v0.9h-0.9zM110.0,340.9h0.9v0.9h-0.9zM108.5,360.7h0.9v0.9h-0.9zM114.8,338.7h0.9v0.9h-0.9zM104.1,361.0h0.9v0.9h-0.9zM109.7,354.3h0.9v0.9h-0.9zM110.2,357.4h0.9v0.9h-0.9zM119.7,343.6h0.9v0.9h-0.9zM107.9,354.7h0.9v0.9h-0.9zM120.2,343.3h0.9v0.9h-0.9zM115.5,337.6h0.9v0.9h-0.9zM107.9,345.6h0.9v0.9h-0.9zM119.0,339.4h0.9v0.9h-0.9zM103.5,359.7h0.9v0.9h-0.9zM103.6,352.5h0.9v0.9h-0.9zM105.1,350.2h0.9v0.9h-0.9zM112.9,353.8h0.9v0.9h-0.9zM120.5,345.9h0.9v0.9h-0.9zM105.2,352.6h0.9v0.9h-0.9zM105.3,355.5h0.9v0.9h-0.9zM103.8,351.6h0.9v0.9h-0.9zM116.5,342.0h0.9v0.9h-0.9zM111.4,353.6h0.9v0.9h-0.9zM112.2,353.3h0.9v0.9h-0.9zM108.6,347.2h0.9v0.9h-0.9z" fill="#CB9627"/>
<path d="M128.3,368.8h0.8v0.8h-0.8zM124.6,367.4h0.8v0.8h-0.8zM129.5,374.8h0.8v0.8h-0.8zM120.8,386.5h0.8v0.8h-0.8zM136.4,359.4h0.8v0.8h-0.8zM120.7,384.9h0.8v0.8h-0.8zM135.2,366.1h0.8v0.8h-0.8zM129.6,373.2h0.8v0.8h-0.8zM131.2,364.8h0.8v0.8h-0.8zM132.0,364.1h0.8v0.8h-0.8zM123.0,384.9h0.8v0.8h-0.8zM137.4,361.0h0.8v0.8h-0.8zM122.6,377.3h0.8v0.8h-0.8zM130.2,365.0h0.8v0.8h-0.8zM118.0,388.6h0.8v0.8h-0.8zM134.7,360.2h0.8v0.8h-0.8zM134.4,363.9h0.8v0.8h-0.8zM121.4,384.8h0.8v0.8h-0.8zM138.6,360.9h0.8v0.8h-0.8zM118.2,375.9h0.8v0.8h-0.8zM120.1,382.8h0.8v0.8h-0.8zM129.9,375.8h0.8v0.8h-0.8zM117.8,386.9h0.8v0.8h-0.8zM128.0,364.8h0.8v0.8h-0.8zM127.0,375.1h0.8v0.8h-0.8zM127.8,374.7h0.8v0.8h-0.8zM131.3,360.2h0.8v0.8h-0.8zM127.1,372.1h0.8v0.8h-0.8zM119.5,374.1h0.8v0.8h-0.8zM125.3,368.8h0.8v0.8h-0.8zM117.4,379.0h0.8v0.8h-0.8zM137.9,362.4h0.8v0.8h-0.8zM133.8,358.8h0.8v0.8h-0.8zM131.2,369.0h0.8v0.8h-0.8zM121.9,379.1h0.8v0.8h-0.8zM114.9,382.9h0.8v0.8h-0.8zM126.8,372.9h0.8v0.8h-0.8zM122.5,372.1h0.8v0.8h-0.8zM117.7,379.5h0.8v0.8h-0.8z" fill="#fff" fill-opacity="0.55"/>
<path d="M170.0,315.3h1v1h-1zM171.4,316.4h1v1h-1zM174.1,306.7h1v1h-1zM170.2,309.7h1v1h-1zM176.3,314.1h1v1h-1zM174.2,308.2h1v1h-1zM174.2,321.1h1v1h-1zM173.0,318.8h1v1h-1zM175.5,316.1h1v1h-1zM176.6,314.0h1v1h-1zM175.0,321.3h1v1h-1zM171.6,319.9h1v1h-1zM172.2,322.3h1v1h-1zM168.9,309.4h1v1h-1zM174.1,310.9h1v1h-1zM172.8,312.4h1v1h-1zM171.2,316.0h1v1h-1zM173.6,321.8h1v1h-1zM174.5,308.4h1v1h-1zM177.0,315.7h1v1h-1zM175.0,309.3h1v1h-1zM176.2,315.8h1v1h-1zM171.8,308.2h1v1h-1zM170.6,319.3h1v1h-1zM175.0,311.5h1v1h-1zM170.8,306.9h1v1h-1zM169.6,312.8h1v1h-1zM173.9,308.3h1v1h-1zM176.9,312.3h1v1h-1zM172.3,314.9h1v1h-1zM174.3,316.2h1v1h-1zM173.4,316.7h1v1h-1zM177.4,314.6h1v1h-1zM172.0,318.5h1v1h-1zM170.0,310.9h1v1h-1zM171.9,315.9h1v1h-1zM167.7,316.6h1v1h-1zM174.1,306.6h1v1h-1zM174.1,313.9h1v1h-1zM174.6,311.8h1v1h-1zM174.9,318.8h1v1h-1zM170.1,313.7h1v1h-1zM173.7,311.3h1v1h-1zM171.3,311.1h1v1h-1zM171.4,316.2h1v1h-1zM170.7,312.3h1v1h-1zM173.5,318.7h1v1h-1zM170.8,309.5h1v1h-1zM175.9,309.8h1v1h-1zM169.5,313.3h1v1h-1zM174.8,307.3h1v1h-1zM170.9,311.5h1v1h-1zM176.3,313.4h1v1h-1zM171.0,317.2h1v1h-1zM176.8,313.6h1v1h-1zM169.9,307.7h1v1h-1zM173.1,308.9h1v1h-1zM176.0,320.6h1v1h-1zM169.4,310.5h1v1h-1zM176.0,317.1h1v1h-1zM176.0,311.7h1v1h-1zM168.9,310.8h1v1h-1zM175.8,310.4h1v1h-1zM171.1,313.0h1v1h-1zM171.9,312.9h1v1h-1zM172.1,322.6h1v1h-1zM175.3,320.6h1v1h-1zM174.5,314.8h1v1h-1zM170.5,311.6h1v1h-1zM173.7,310.7h1v1h-1zM177.0,318.0h1v1h-1zM176.9,315.9h1v1h-1zM169.3,310.9h1v1h-1zM174.5,314.9h1v1h-1zM171.8,322.4h1v1h-1zM173.9,311.6h1v1h-1zM170.2,321.0h1v1h-1zM172.5,319.6h1v1h-1zM171.2,309.1h1v1h-1zM173.1,320.2h1v1h-1zM169.3,319.8h1v1h-1zM174.1,321.0h1v1h-1zM170.3,315.0h1v1h-1zM171.9,314.0h1v1h-1zM168.4,314.5h1v1h-1zM170.8,311.2h1v1h-1zM171.2,317.1h1v1h-1zM173.7,312.0h1v1h-1zM169.5,311.4h1v1h-1zM168.8,315.5h1v1h-1zM175.0,312.3h1v1h-1zM171.4,316.4h1v1h-1zM175.7,312.3h1v1h-1zM175.9,316.7h1v1h-1zM172.0,312.2h1v1h-1zM172.7,318.2h1v1h-1zM171.9,318.0h1v1h-1zM172.3,309.9h1v1h-1z" fill="#CB9627"/>
<path d="M188.0,316.1h0.7v0.7h-0.7zM181.9,311.8h0.7v0.7h-0.7zM186.5,319.1h0.7v0.7h-0.7zM193.2,311.0h0.7v0.7h-0.7zM192.7,317.7h0.7v0.7h-0.7zM184.4,312.4h0.7v0.7h-0.7zM182.6,318.0h0.7v0.7h-0.7zM189.6,319.2h0.7v0.7h-0.7zM191.3,315.7h0.7v0.7h-0.7zM190.5,314.0h0.7v0.7h-0.7zM182.3,314.4h0.7v0.7h-0.7zM181.1,307.3h0.7v0.7h-0.7zM191.1,305.7h0.7v0.7h-0.7zM182.2,306.6h0.7v0.7h-0.7zM192.4,307.9h0.7v0.7h-0.7zM181.3,318.5h0.7v0.7h-0.7zM182.6,318.5h0.7v0.7h-0.7zM189.8,318.4h0.7v0.7h-0.7zM193.4,314.3h0.7v0.7h-0.7zM191.4,305.6h0.7v0.7h-0.7zM191.0,313.2h0.7v0.7h-0.7zM190.3,306.7h0.7v0.7h-0.7zM190.7,320.0h0.7v0.7h-0.7zM181.8,310.2h0.7v0.7h-0.7zM188.3,318.2h0.7v0.7h-0.7zM184.1,307.9h0.7v0.7h-0.7zM184.2,314.9h0.7v0.7h-0.7zM190.8,311.3h0.7v0.7h-0.7zM185.8,311.3h0.7v0.7h-0.7zM185.6,311.7h0.7v0.7h-0.7zM182.1,313.0h0.7v0.7h-0.7zM193.6,311.6h0.7v0.7h-0.7zM190.7,307.6h0.7v0.7h-0.7zM190.0,317.1h0.7v0.7h-0.7zM189.8,313.3h0.7v0.7h-0.7zM187.3,315.3h0.7v0.7h-0.7zM192.7,307.4h0.7v0.7h-0.7zM182.2,317.0h0.7v0.7h-0.7zM192.9,313.3h0.7v0.7h-0.7zM186.8,316.5h0.7v0.7h-0.7zM183.4,309.3h0.7v0.7h-0.7zM183.6,314.4h0.7v0.7h-0.7zM185.1,308.7h0.7v0.7h-0.7zM190.0,320.3h0.7v0.7h-0.7zM184.8,316.3h0.7v0.7h-0.7zM186.4,318.7h0.7v0.7h-0.7zM188.6,309.3h0.7v0.7h-0.7zM183.8,305.4h0.7v0.7h-0.7zM187.2,311.1h0.7v0.7h-0.7zM183.2,310.8h0.7v0.7h-0.7zM185.2,317.4h0.7v0.7h-0.7zM182.9,320.9h0.7v0.7h-0.7zM187.2,314.6h0.7v0.7h-0.7zM187.1,318.4h0.7v0.7h-0.7zM191.7,313.9h0.7v0.7h-0.7zM187.3,316.5h0.7v0.7h-0.7zM192.1,311.4h0.7v0.7h-0.7zM190.5,320.4h0.7v0.7h-0.7zM187.1,308.7h0.7v0.7h-0.7zM184.1,316.5h0.7v0.7h-0.7zM189.8,320.3h0.7v0.7h-0.7zM192.1,308.9h0.7v0.7h-0.7zM183.5,309.1h0.7v0.7h-0.7zM183.4,316.3h0.7v0.7h-0.7zM192.2,319.4h0.7v0.7h-0.7zM184.3,318.8h0.7v0.7h-0.7zM185.1,311.8h0.7v0.7h-0.7zM190.5,306.4h0.7v0.7h-0.7zM182.2,318.3h0.7v0.7h-0.7zM184.8,310.7h0.7v0.7h-0.7z" fill="#fff" fill-opacity="0.8"/>
<path d="M174.4,282.6 L174.6,288.8" stroke="#DC74FC" stroke-width="1.1"/>
<text x="110.5" y="220.8" font-family="Liberation Sans, Arial, sans-serif" font-size="6.7" fill="#1A1A1A" stroke="#1A1A1A" stroke-width="0.1" textLength="45" lengthAdjust="spacingAndGlyphs">Dendritic cells</text>
<text x="124.8" y="273.9" font-family="Liberation Sans, Arial, sans-serif" font-size="6.7" fill="#1A1A1A" stroke="#1A1A1A" stroke-width="0.1" textLength="34.3" lengthAdjust="spacingAndGlyphs">Monocytes</text>
<text x="104.9" y="284.2" font-family="Liberation Sans, Arial, sans-serif" font-size="6.7" fill="#1A1A1A" stroke="#1A1A1A" stroke-width="0.1" textLength="44" lengthAdjust="spacingAndGlyphs">Monocyte-like</text>
<text x="41.9" y="287" font-family="Liberation Sans, Arial, sans-serif" font-size="6.7" fill="#1A1A1A" stroke="#1A1A1A" stroke-width="0.1" textLength="37.5" lengthAdjust="spacingAndGlyphs">CD8+ T cells</text>
<text x="72.5" y="299.2" font-family="Liberation Sans, Arial, sans-serif" font-size="6.7" fill="#1A1A1A" stroke="#1A1A1A" stroke-width="0.1" textLength="37.5" lengthAdjust="spacingAndGlyphs">CD4+ T cells</text>
<text x="196.9" y="316.7" font-family="Liberation Sans, Arial, sans-serif" font-size="6.7" fill="#1A1A1A" stroke="#1A1A1A" stroke-width="0.1" textLength="20" lengthAdjust="spacingAndGlyphs">B cells</text>
<text x="167.8" y="328.8" font-family="Liberation Sans, Arial, sans-serif" font-size="6.7" fill="#1A1A1A" stroke="#1A1A1A" stroke-width="0.1" textLength="56.2" lengthAdjust="spacingAndGlyphs">Innate-like B cells</text>
<text x="74.8" y="384.8" font-family="Liberation Sans, Arial, sans-serif" font-size="6.7" fill="#1A1A1A" stroke="#1A1A1A" stroke-width="0.1" textLength="59.4" lengthAdjust="spacingAndGlyphs">NK-featured T cells</text>
<text x="138.8" y="392.1" font-family="Liberation Sans, Arial, sans-serif" font-size="6.7" fill="#1A1A1A" stroke="#1A1A1A" stroke-width="0.1" textLength="24.8" lengthAdjust="spacingAndGlyphs">NK cells</text>
<circle cx="240" cy="285.50" r="2.2" fill="#EE7370"/>
<text x="248" y="287.50" font-family="DejaVu Sans Condensed, Liberation Sans, sans-serif" font-size="5.6" fill="#2A2A2A" stroke="#2A2A2A" stroke-width="0.12" textLength="38.2" lengthAdjust="spacingAndGlyphs">B cells (n=13022)</text>
<circle cx="240" cy="295.25" r="2.2" fill="#CB9627"/>
<text x="248" y="297.25" font-family="DejaVu Sans Condensed, Liberation Sans, sans-serif" font-size="5.6" fill="#2A2A2A" stroke="#2A2A2A" stroke-width="0.12" textLength="51.2" lengthAdjust="spacingAndGlyphs">CD4+ T cells (n=57343)</text>
<circle cx="240" cy="305.00" r="2.2" fill="#9AB52A"/>
<text x="248" y="307.00" font-family="DejaVu Sans Condensed, Liberation Sans, sans-serif" font-size="5.6" fill="#2A2A2A" stroke="#2A2A2A" stroke-width="0.12" textLength="48.5" lengthAdjust="spacingAndGlyphs">CD8+ T cells (n=2206)</text>
<circle cx="240" cy="314.75" r="2.2" fill="#33BE45"/>
<text x="248" y="316.75" font-family="DejaVu Sans Condensed, Liberation Sans, sans-serif" font-size="5.6" fill="#2A2A2A" stroke="#2A2A2A" stroke-width="0.12" textLength="51" lengthAdjust="spacingAndGlyphs">Dendritic cells (n=630)</text>
<circle cx="240" cy="324.50" r="2.2" fill="#3FC9A2"/>
<text x="248" y="326.50" font-family="DejaVu Sans Condensed, Liberation Sans, sans-serif" font-size="5.6" fill="#2A2A2A" stroke="#2A2A2A" stroke-width="0.12" textLength="58.5" lengthAdjust="spacingAndGlyphs">Innate-like B cells (n=728)</text>
<circle cx="240" cy="334.25" r="2.2" fill="#55C6E6"/>
<text x="248" y="336.25" font-family="DejaVu Sans Condensed, Liberation Sans, sans-serif" font-size="5.6" fill="#2A2A2A" stroke="#2A2A2A" stroke-width="0.12" textLength="53" lengthAdjust="spacingAndGlyphs">Monocyte-like (n=1006)</text>
<circle cx="240" cy="344.00" r="2.2" fill="#6A9EFF"/>
<text x="248" y="346.00" font-family="DejaVu Sans Condensed, Liberation Sans, sans-serif" font-size="5.6" fill="#2A2A2A" stroke="#2A2A2A" stroke-width="0.12" textLength="46" lengthAdjust="spacingAndGlyphs">Monocytes (n=1366)</text>
<circle cx="240" cy="353.75" r="2.2" fill="#DC74FC"/>
<text x="248" y="355.75" font-family="DejaVu Sans Condensed, Liberation Sans, sans-serif" font-size="5.6" fill="#2A2A2A" stroke="#2A2A2A" stroke-width="0.12" textLength="38.5" lengthAdjust="spacingAndGlyphs">NK cells (n=7498)</text>
<circle cx="240" cy="363.50" r="2.2" fill="#F962DC"/>
<text x="248" y="365.50" font-family="DejaVu Sans Condensed, Liberation Sans, sans-serif" font-size="5.6" fill="#2A2A2A" stroke="#2A2A2A" stroke-width="0.12" textLength="67" lengthAdjust="spacingAndGlyphs">NK-featured T cells (n=16440)</text>
<text x="319.6" y="177.4" font-family="Liberation Sans, Arial, sans-serif" font-size="13.8" fill="#111">C</text>
<text x="374.7" y="178.8" font-family="Liberation Sans, Arial, sans-serif" font-size="11.9" fill="#111" stroke="#111" stroke-width="0.15" textLength="181" lengthAdjust="spacingAndGlyphs">Top 5 Marker Genes per cell types</text>
<path d="M384,191.90H556.5M384,198.16H556.5M384,204.42H556.5M384,210.68H556.5M384,216.94H556.5M384,223.20H556.5M384,229.46H556.5M384,235.72H556.5M384,241.98H556.5M384,248.24H556.5M384,254.50H556.5M384,260.76H556.5M384,267.02H556.5M384,273.28H556.5M384,279.54H556.5M384,285.80H556.5M384,292.06H556.5M384,298.32H556.5M384,304.58H556.5M384,310.84H556.5M384,317.10H556.5M384,323.36H556.5M384,329.62H556.5M384,335.88H556.5M384,342.14H556.5M384,348.40H556.5M384,354.66H556.5M384,360.92H556.5M384,367.18H556.5M384,373.44H556.5M384,379.70H556.5M384,385.96H556.5M384,392.22H556.5M384,398.48H556.5M384,404.74H556.5M384,411.00H556.5M384,417.26H556.5M384,423.52H556.5M384,429.78H556.5M394.90,187.5V434.5M413.65,187.5V434.5M432.40,187.5V434.5M451.15,187.5V434.5M469.90,187.5V434.5M488.65,187.5V434.5M507.40,187.5V434.5M526.15,187.5V434.5M544.90,187.5V434.5" stroke="#E6E6E6" stroke-width="0.7" fill="none"/>
<text x="379.8" y="194.35" font-family="DejaVu Sans Condensed, Liberation Sans, sans-serif" font-size="6.0" fill="#3C3C3C" stroke="#3C3C3C" stroke-width="0.08" text-anchor="end">IL2RB</text>
<text x="379.8" y="200.61" font-family="DejaVu Sans Condensed, Liberation Sans, sans-serif" font-size="6.0" fill="#3C3C3C" stroke="#3C3C3C" stroke-width="0.08" text-anchor="end">FGFBP2</text>
<text x="379.8" y="206.87" font-family="DejaVu Sans Condensed, Liberation Sans, sans-serif" font-size="6.0" fill="#3C3C3C" stroke="#3C3C3C" stroke-width="0.08" text-anchor="end">PRF1</text>
<text x="379.8" y="213.13" font-family="DejaVu Sans Condensed, Liberation Sans, sans-serif" font-size="6.0" fill="#3C3C3C" stroke="#3C3C3C" stroke-width="0.08" text-anchor="end">GNLY</text>
<text x="379.8" y="219.39" font-family="DejaVu Sans Condensed, Liberation Sans, sans-serif" font-size="6.0" fill="#3C3C3C" stroke="#3C3C3C" stroke-width="0.08" text-anchor="end">RPS12</text>
<text x="379.8" y="225.65" font-family="DejaVu Sans Condensed, Liberation Sans, sans-serif" font-size="6.0" fill="#3C3C3C" stroke="#3C3C3C" stroke-width="0.08" text-anchor="end">LRRN3</text>
<text x="379.8" y="231.91" font-family="DejaVu Sans Condensed, Liberation Sans, sans-serif" font-size="6.0" fill="#3C3C3C" stroke="#3C3C3C" stroke-width="0.08" text-anchor="end">LINC02446</text>
<text x="379.8" y="238.17" font-family="DejaVu Sans Condensed, Liberation Sans, sans-serif" font-size="6.0" fill="#3C3C3C" stroke="#3C3C3C" stroke-width="0.08" text-anchor="end">CD8B</text>
<text x="379.8" y="244.43" font-family="DejaVu Sans Condensed, Liberation Sans, sans-serif" font-size="6.0" fill="#3C3C3C" stroke="#3C3C3C" stroke-width="0.08" text-anchor="end">IGHD</text>
<text x="379.8" y="250.69" font-family="DejaVu Sans Condensed, Liberation Sans, sans-serif" font-size="6.0" fill="#3C3C3C" stroke="#3C3C3C" stroke-width="0.08" text-anchor="end">S100A9</text>
<text x="379.8" y="256.95" font-family="DejaVu Sans Condensed, Liberation Sans, sans-serif" font-size="6.0" fill="#3C3C3C" stroke="#3C3C3C" stroke-width="0.08" text-anchor="end">FCN1</text>
<text x="379.8" y="263.21" font-family="DejaVu Sans Condensed, Liberation Sans, sans-serif" font-size="6.0" fill="#3C3C3C" stroke="#3C3C3C" stroke-width="0.08" text-anchor="end">S100A8</text>
<text x="379.8" y="269.47" font-family="DejaVu Sans Condensed, Liberation Sans, sans-serif" font-size="6.0" fill="#3C3C3C" stroke="#3C3C3C" stroke-width="0.08" text-anchor="end">CST3</text>
<text x="379.8" y="275.73" font-family="DejaVu Sans Condensed, Liberation Sans, sans-serif" font-size="6.0" fill="#3C3C3C" stroke="#3C3C3C" stroke-width="0.08" text-anchor="end">LYZ</text>
<text x="379.8" y="281.99" font-family="DejaVu Sans Condensed, Liberation Sans, sans-serif" font-size="6.0" fill="#3C3C3C" stroke="#3C3C3C" stroke-width="0.08" text-anchor="end">NAMPT</text>
<text x="379.8" y="288.25" font-family="DejaVu Sans Condensed, Liberation Sans, sans-serif" font-size="6.0" fill="#3C3C3C" stroke="#3C3C3C" stroke-width="0.08" text-anchor="end">CSF3R</text>
<text x="379.8" y="294.51" font-family="DejaVu Sans Condensed, Liberation Sans, sans-serif" font-size="6.0" fill="#3C3C3C" stroke="#3C3C3C" stroke-width="0.08" text-anchor="end">VCAN</text>
<text x="379.8" y="300.77" font-family="DejaVu Sans Condensed, Liberation Sans, sans-serif" font-size="6.0" fill="#3C3C3C" stroke="#3C3C3C" stroke-width="0.08" text-anchor="end">SLC8A1</text>
<text x="379.8" y="307.03" font-family="DejaVu Sans Condensed, Liberation Sans, sans-serif" font-size="6.0" fill="#3C3C3C" stroke="#3C3C3C" stroke-width="0.08" text-anchor="end">PLXDC2</text>
<text x="379.8" y="313.29" font-family="DejaVu Sans Condensed, Liberation Sans, sans-serif" font-size="6.0" fill="#3C3C3C" stroke="#3C3C3C" stroke-width="0.08" text-anchor="end">SERPINF1</text>
<text x="379.8" y="319.55" font-family="DejaVu Sans Condensed, Liberation Sans, sans-serif" font-size="6.0" fill="#3C3C3C" stroke="#3C3C3C" stroke-width="0.08" text-anchor="end">ITM2C</text>
<text x="379.8" y="325.81" font-family="DejaVu Sans Condensed, Liberation Sans, sans-serif" font-size="6.0" fill="#3C3C3C" stroke="#3C3C3C" stroke-width="0.08" text-anchor="end">RHEX</text>
<text x="379.8" y="332.07" font-family="DejaVu Sans Condensed, Liberation Sans, sans-serif" font-size="6.0" fill="#3C3C3C" stroke="#3C3C3C" stroke-width="0.08" text-anchor="end">TCF4</text>
<text x="379.8" y="338.33" font-family="DejaVu Sans Condensed, Liberation Sans, sans-serif" font-size="6.0" fill="#3C3C3C" stroke="#3C3C3C" stroke-width="0.08" text-anchor="end">IRF8</text>
<text x="379.8" y="344.59" font-family="DejaVu Sans Condensed, Liberation Sans, sans-serif" font-size="6.0" fill="#3C3C3C" stroke="#3C3C3C" stroke-width="0.08" text-anchor="end">CD79A</text>
<text x="379.8" y="350.85" font-family="DejaVu Sans Condensed, Liberation Sans, sans-serif" font-size="6.0" fill="#3C3C3C" stroke="#3C3C3C" stroke-width="0.08" text-anchor="end">CD74</text>
<text x="379.8" y="357.11" font-family="DejaVu Sans Condensed, Liberation Sans, sans-serif" font-size="6.0" fill="#3C3C3C" stroke="#3C3C3C" stroke-width="0.08" text-anchor="end">HLA-DRA</text>
<text x="379.8" y="363.37" font-family="DejaVu Sans Condensed, Liberation Sans, sans-serif" font-size="6.0" fill="#3C3C3C" stroke="#3C3C3C" stroke-width="0.08" text-anchor="end">MS4A1</text>
<text x="379.8" y="369.63" font-family="DejaVu Sans Condensed, Liberation Sans, sans-serif" font-size="6.0" fill="#3C3C3C" stroke="#3C3C3C" stroke-width="0.08" text-anchor="end">IGHM</text>
<text x="379.8" y="375.89" font-family="DejaVu Sans Condensed, Liberation Sans, sans-serif" font-size="6.0" fill="#3C3C3C" stroke="#3C3C3C" stroke-width="0.08" text-anchor="end">ENSG00000249806</text>
<text x="379.8" y="382.15" font-family="DejaVu Sans Condensed, Liberation Sans, sans-serif" font-size="6.0" fill="#3C3C3C" stroke="#3C3C3C" stroke-width="0.08" text-anchor="end">CAMK4</text>
<text x="379.8" y="388.41" font-family="DejaVu Sans Condensed, Liberation Sans, sans-serif" font-size="6.0" fill="#3C3C3C" stroke="#3C3C3C" stroke-width="0.08" text-anchor="end">TCF7</text>
<text x="379.8" y="394.67" font-family="DejaVu Sans Condensed, Liberation Sans, sans-serif" font-size="6.0" fill="#3C3C3C" stroke="#3C3C3C" stroke-width="0.08" text-anchor="end">LEF1</text>
<text x="379.8" y="400.93" font-family="DejaVu Sans Condensed, Liberation Sans, sans-serif" font-size="6.0" fill="#3C3C3C" stroke="#3C3C3C" stroke-width="0.08" text-anchor="end">TSHZ2</text>
<text x="379.8" y="407.19" font-family="DejaVu Sans Condensed, Liberation Sans, sans-serif" font-size="6.0" fill="#3C3C3C" stroke="#3C3C3C" stroke-width="0.08" text-anchor="end">GZMH</text>
<text x="379.8" y="413.45" font-family="DejaVu Sans Condensed, Liberation Sans, sans-serif" font-size="6.0" fill="#3C3C3C" stroke="#3C3C3C" stroke-width="0.08" text-anchor="end">TRGC2</text>
<text x="379.8" y="419.71" font-family="DejaVu Sans Condensed, Liberation Sans, sans-serif" font-size="6.0" fill="#3C3C3C" stroke="#3C3C3C" stroke-width="0.08" text-anchor="end">NKG7</text>
<text x="379.8" y="425.97" font-family="DejaVu Sans Condensed, Liberation Sans, sans-serif" font-size="6.0" fill="#3C3C3C" stroke="#3C3C3C" stroke-width="0.08" text-anchor="end">CD8A</text>
<text x="379.8" y="432.23" font-family="DejaVu Sans Condensed, Liberation Sans, sans-serif" font-size="6.0" fill="#3C3C3C" stroke="#3C3C3C" stroke-width="0.08" text-anchor="end">CCL5</text>
<circle cx="394.90" cy="191.90" r="1.90" fill="#CBCCEF"/>
<circle cx="413.65" cy="191.90" r="2.56" fill="#CBCCEF"/>
<circle cx="432.40" cy="191.90" r="2.85" fill="#CBCCEF"/>
<circle cx="451.15" cy="191.90" r="1.90" fill="#CBCCEF"/>
<circle cx="469.90" cy="191.90" r="3.32" fill="#8592FF"/>
<circle cx="488.65" cy="191.90" r="2.66" fill="#CBCCEF"/>
<circle cx="507.40" cy="191.90" r="1.90" fill="#CBCCEF"/>
<circle cx="526.15" cy="191.90" r="4.94" fill="#15009C"/>
<circle cx="544.90" cy="191.90" r="3.80" fill="#8592FF"/>
<circle cx="394.90" cy="198.16" r="1.61" fill="#CBCCEF"/>
<circle cx="413.65" cy="198.16" r="1.52" fill="#CBCCEF"/>
<circle cx="432.40" cy="198.16" r="1.71" fill="#CBCCEF"/>
<circle cx="451.15" cy="198.16" r="1.90" fill="#CBCCEF"/>
<circle cx="469.90" cy="198.16" r="3.80" fill="#8592FF"/>
<circle cx="488.65" cy="198.16" r="2.09" fill="#CBCCEF"/>
<circle cx="507.40" cy="198.16" r="1.52" fill="#CBCCEF"/>
<circle cx="526.15" cy="198.16" r="4.94" fill="#15009C"/>
<circle cx="544.90" cy="198.16" r="4.27" fill="#4A62FA"/>
<circle cx="394.90" cy="204.42" r="1.71" fill="#CBCCEF"/>
<circle cx="413.65" cy="204.42" r="1.71" fill="#CBCCEF"/>
<circle cx="432.40" cy="204.42" r="1.90" fill="#CBCCEF"/>
<circle cx="451.15" cy="204.42" r="1.90" fill="#CBCCEF"/>
<circle cx="469.90" cy="204.42" r="3.80" fill="#8592FF"/>
<circle cx="488.65" cy="204.42" r="2.38" fill="#CBCCEF"/>
<circle cx="507.40" cy="204.42" r="1.71" fill="#CBCCEF"/>
<circle cx="526.15" cy="204.42" r="4.94" fill="#15009C"/>
<circle cx="544.90" cy="204.42" r="4.27" fill="#8592FF"/>
<circle cx="394.90" cy="210.68" r="2.85" fill="#CBCCEF"/>
<circle cx="413.65" cy="210.68" r="2.85" fill="#CBCCEF"/>
<circle cx="432.40" cy="210.68" r="2.38" fill="#CFD0EE"/>
<circle cx="451.15" cy="210.68" r="2.85" fill="#CBCCEF"/>
<circle cx="469.90" cy="210.68" r="4.27" fill="#6D7FFD"/>
<circle cx="488.65" cy="210.68" r="2.85" fill="#CBCCEF"/>
<circle cx="507.40" cy="210.68" r="2.85" fill="#CBCCEF"/>
<circle cx="526.15" cy="210.68" r="5.22" fill="#15009C"/>
<circle cx="544.90" cy="210.68" r="4.27" fill="#8592FF"/>
<circle cx="394.90" cy="216.94" r="5.22" fill="#A8ADF5"/>
<circle cx="413.65" cy="216.94" r="4.75" fill="#8592FF"/>
<circle cx="432.40" cy="216.94" r="5.22" fill="#15009C"/>
<circle cx="451.15" cy="216.94" r="5.22" fill="#A8ADF5"/>
<circle cx="469.90" cy="216.94" r="5.22" fill="#A8ADF5"/>
<circle cx="488.65" cy="216.94" r="4.75" fill="#A8ADF5"/>
<circle cx="507.40" cy="216.94" r="5.22" fill="#DEDFE8"/>
<circle cx="526.15" cy="216.94" r="5.22" fill="#DEDFE8"/>
<circle cx="544.90" cy="216.94" r="5.22" fill="#B2B6F3"/>
<circle cx="394.90" cy="223.20" r="1.90" fill="#CBCCEF"/>
<circle cx="413.65" cy="223.20" r="2.85" fill="#8592FF"/>
<circle cx="432.40" cy="223.20" r="4.27" fill="#15009C"/>
<circle cx="451.15" cy="223.20" r="1.90" fill="#CBCCEF"/>
<circle cx="469.90" cy="223.20" r="1.71" fill="#CBCCEF"/>
<circle cx="488.65" cy="223.20" r="2.38" fill="#939DFB"/>
<circle cx="507.40" cy="223.20" r="1.42" fill="#CBCCEF"/>
<circle cx="526.15" cy="223.20" r="1.71" fill="#CBCCEF"/>
<circle cx="544.90" cy="223.20" r="1.90" fill="#CBCCEF"/>
<circle cx="394.90" cy="229.46" r="1.42" fill="#CBCCEF"/>
<circle cx="413.65" cy="229.46" r="1.42" fill="#CBCCEF"/>
<circle cx="432.40" cy="229.46" r="4.27" fill="#15009C"/>
<circle cx="451.15" cy="229.46" r="1.71" fill="#CBCCEF"/>
<circle cx="469.90" cy="229.46" r="2.38" fill="#A8ADF5"/>
<circle cx="488.65" cy="229.46" r="1.71" fill="#CBCCEF"/>
<circle cx="507.40" cy="229.46" r="1.42" fill="#CBCCEF"/>
<circle cx="526.15" cy="229.46" r="1.90" fill="#CBCCEF"/>
<circle cx="544.90" cy="229.46" r="2.38" fill="#A8ADF5"/>
<circle cx="394.90" cy="235.72" r="1.90" fill="#CBCCEF"/>
<circle cx="413.65" cy="235.72" r="1.90" fill="#CBCCEF"/>
<circle cx="432.40" cy="235.72" r="4.75" fill="#15009C"/>
<circle cx="451.15" cy="235.72" r="1.90" fill="#CBCCEF"/>
<circle cx="469.90" cy="235.72" r="3.04" fill="#A8ADF5"/>
<circle cx="488.65" cy="235.72" r="1.90" fill="#CBCCEF"/>
<circle cx="507.40" cy="235.72" r="1.42" fill="#CBCCEF"/>
<circle cx="526.15" cy="235.72" r="2.38" fill="#CBCCEF"/>
<circle cx="544.90" cy="235.72" r="3.32" fill="#566CFB"/>
<circle cx="394.90" cy="241.98" r="4.75" fill="#15009C"/>
<circle cx="413.65" cy="241.98" r="1.90" fill="#CBCCEF"/>
<circle cx="432.40" cy="241.98" r="1.42" fill="#CBCCEF"/>
<circle cx="451.15" cy="241.98" r="2.38" fill="#CBCCEF"/>
<circle cx="469.90" cy="241.98" r="4.75" fill="#4152EA"/>
<circle cx="488.65" cy="241.98" r="2.09" fill="#CBCCEF"/>
<circle cx="507.40" cy="241.98" r="2.38" fill="#CBCCEF"/>
<circle cx="526.15" cy="241.98" r="1.90" fill="#CBCCEF"/>
<circle cx="544.90" cy="241.98" r="1.90" fill="#CBCCEF"/>
<circle cx="394.90" cy="248.24" r="1.42" fill="#CBCCEF"/>
<circle cx="413.65" cy="248.24" r="1.42" fill="#CBCCEF"/>
<circle cx="432.40" cy="248.24" r="1.14" fill="#CBCCEF"/>
<circle cx="451.15" cy="248.24" r="1.42" fill="#CBCCEF"/>
<circle cx="469.90" cy="248.24" r="1.42" fill="#CBCCEF"/>
<circle cx="488.65" cy="248.24" r="1.90" fill="#CBCCEF"/>
<circle cx="507.40" cy="248.24" r="4.75" fill="#15009C"/>
<circle cx="526.15" cy="248.24" r="1.42" fill="#CBCCEF"/>
<circle cx="544.90" cy="248.24" r="1.42" fill="#CBCCEF"/>
<circle cx="394.90" cy="254.50" r="1.42" fill="#CBCCEF"/>
<circle cx="413.65" cy="254.50" r="1.42" fill="#CBCCEF"/>
<circle cx="432.40" cy="254.50" r="1.14" fill="#CBCCEF"/>
<circle cx="451.15" cy="254.50" r="1.42" fill="#CBCCEF"/>
<circle cx="469.90" cy="254.50" r="1.42" fill="#CBCCEF"/>
<circle cx="488.65" cy="254.50" r="3.32" fill="#A8ADF5"/>
<circle cx="507.40" cy="254.50" r="4.75" fill="#15009C"/>
<circle cx="526.15" cy="254.50" r="1.42" fill="#CBCCEF"/>
<circle cx="544.90" cy="254.50" r="1.42" fill="#CBCCEF"/>
<circle cx="394.90" cy="260.76" r="1.42" fill="#CBCCEF"/>
<circle cx="413.65" cy="260.76" r="1.42" fill="#CBCCEF"/>
<circle cx="432.40" cy="260.76" r="1.14" fill="#CBCCEF"/>
<circle cx="451.15" cy="260.76" r="1.42" fill="#CBCCEF"/>
<circle cx="469.90" cy="260.76" r="1.71" fill="#CBCCEF"/>
<circle cx="488.65" cy="260.76" r="2.38" fill="#CBCCEF"/>
<circle cx="507.40" cy="260.76" r="4.75" fill="#15009C"/>
<circle cx="526.15" cy="260.76" r="1.42" fill="#CBCCEF"/>
<circle cx="544.90" cy="260.76" r="1.42" fill="#CBCCEF"/>
<circle cx="394.90" cy="267.02" r="1.71" fill="#CBCCEF"/>
<circle cx="413.65" cy="267.02" r="1.42" fill="#CBCCEF"/>
<circle cx="432.40" cy="267.02" r="1.42" fill="#CBCCEF"/>
<circle cx="451.15" cy="267.02" r="4.56" fill="#6275FC"/>
<circle cx="469.90" cy="267.02" r="2.09" fill="#CBCCEF"/>
<circle cx="488.65" cy="267.02" r="2.38" fill="#CBCCEF"/>
<circle cx="507.40" cy="267.02" r="5.22" fill="#15009C"/>
<circle cx="526.15" cy="267.02" r="1.71" fill="#CBCCEF"/>
<circle cx="544.90" cy="267.02" r="1.71" fill="#CBCCEF"/>
<circle cx="394.90" cy="273.28" r="2.18" fill="#CBCCEF"/>
<circle cx="413.65" cy="273.28" r="2.09" fill="#CBCCEF"/>
<circle cx="432.40" cy="273.28" r="2.09" fill="#CBCCEF"/>
<circle cx="451.15" cy="273.28" r="2.38" fill="#A8ADF5"/>
<circle cx="469.90" cy="273.28" r="2.38" fill="#CBCCEF"/>
<circle cx="488.65" cy="273.28" r="3.32" fill="#A8ADF5"/>
<circle cx="507.40" cy="273.28" r="5.22" fill="#15009C"/>
<circle cx="526.15" cy="273.28" r="1.90" fill="#CBCCEF"/>
<circle cx="544.90" cy="273.28" r="1.90" fill="#CBCCEF"/>
<circle cx="394.90" cy="279.54" r="2.38" fill="#CBCCEF"/>
<circle cx="413.65" cy="279.54" r="2.09" fill="#CBCCEF"/>
<circle cx="432.40" cy="279.54" r="2.09" fill="#CBCCEF"/>
<circle cx="451.15" cy="279.54" r="2.85" fill="#A8ADF5"/>
<circle cx="469.90" cy="279.54" r="2.85" fill="#A8ADF5"/>
<circle cx="488.65" cy="279.54" r="3.32" fill="#3237D0"/>
<circle cx="507.40" cy="279.54" r="4.27" fill="#231AB5"/>
<circle cx="526.15" cy="279.54" r="2.38" fill="#CBCCEF"/>
<circle cx="544.90" cy="279.54" r="2.38" fill="#CBCCEF"/>
<circle cx="394.90" cy="285.80" r="1.71" fill="#CBCCEF"/>
<circle cx="413.65" cy="285.80" r="1.71" fill="#CBCCEF"/>
<circle cx="432.40" cy="285.80" r="1.71" fill="#CBCCEF"/>
<circle cx="451.15" cy="285.80" r="2.38" fill="#A8ADF5"/>
<circle cx="469.90" cy="285.80" r="1.71" fill="#CBCCEF"/>
<circle cx="488.65" cy="285.80" r="3.32" fill="#4A62FA"/>
<circle cx="507.40" cy="285.80" r="4.75" fill="#15009C"/>
<circle cx="526.15" cy="285.80" r="1.42" fill="#CBCCEF"/>
<circle cx="544.90" cy="285.80" r="1.42" fill="#CBCCEF"/>
<circle cx="394.90" cy="292.06" r="1.71" fill="#CBCCEF"/>
<circle cx="413.65" cy="292.06" r="1.71" fill="#CBCCEF"/>
<circle cx="432.40" cy="292.06" r="1.71" fill="#CBCCEF"/>
<circle cx="451.15" cy="292.06" r="1.71" fill="#CBCCEF"/>
<circle cx="469.90" cy="292.06" r="1.90" fill="#CBCCEF"/>
<circle cx="488.65" cy="292.06" r="3.32" fill="#687AFC"/>
<circle cx="507.40" cy="292.06" r="4.75" fill="#15009C"/>
<circle cx="526.15" cy="292.06" r="1.42" fill="#CBCCEF"/>
<circle cx="544.90" cy="292.06" r="1.42" fill="#CBCCEF"/>
<circle cx="394.90" cy="298.32" r="1.71" fill="#CBCCEF"/>
<circle cx="413.65" cy="298.32" r="1.71" fill="#CBCCEF"/>
<circle cx="432.40" cy="298.32" r="1.71" fill="#CBCCEF"/>
<circle cx="451.15" cy="298.32" r="1.71" fill="#CBCCEF"/>
<circle cx="469.90" cy="298.32" r="1.71" fill="#CBCCEF"/>
<circle cx="488.65" cy="298.32" r="3.32" fill="#15009C"/>
<circle cx="507.40" cy="298.32" r="4.27" fill="#4152EA"/>
<circle cx="526.15" cy="298.32" r="1.42" fill="#CBCCEF"/>
<circle cx="544.90" cy="298.32" r="1.42" fill="#CBCCEF"/>
<circle cx="394.90" cy="304.58" r="1.71" fill="#CBCCEF"/>
<circle cx="413.65" cy="304.58" r="1.42" fill="#CBCCEF"/>
<circle cx="432.40" cy="304.58" r="1.42" fill="#CBCCEF"/>
<circle cx="451.15" cy="304.58" r="1.90" fill="#CBCCEF"/>
<circle cx="469.90" cy="304.58" r="1.90" fill="#CBCCEF"/>
<circle cx="488.65" cy="304.58" r="3.32" fill="#2723BE"/>
<circle cx="507.40" cy="304.58" r="4.75" fill="#251FB9"/>
<circle cx="526.15" cy="304.58" r="1.71" fill="#CBCCEF"/>
<circle cx="544.90" cy="304.58" r="1.42" fill="#CBCCEF"/>
<circle cx="394.90" cy="310.84" r="1.42" fill="#CBCCEF"/>
<circle cx="413.65" cy="310.84" r="1.14" fill="#CBCCEF"/>
<circle cx="432.40" cy="310.84" r="1.71" fill="#CBCCEF"/>
<circle cx="451.15" cy="310.84" r="4.75" fill="#15009C"/>
<circle cx="469.90" cy="310.84" r="1.42" fill="#CBCCEF"/>
<circle cx="488.65" cy="310.84" r="1.42" fill="#CBCCEF"/>
<circle cx="507.40" cy="310.84" r="2.38" fill="#A8ADF5"/>
<circle cx="526.15" cy="310.84" r="1.14" fill="#CBCCEF"/>
<circle cx="544.90" cy="310.84" r="1.14" fill="#CBCCEF"/>
<circle cx="394.90" cy="317.10" r="2.85" fill="#A8ADF5"/>
<circle cx="413.65" cy="317.10" r="2.09" fill="#CBCCEF"/>
<circle cx="432.40" cy="317.10" r="2.85" fill="#A8ADF5"/>
<circle cx="451.15" cy="317.10" r="4.75" fill="#15009C"/>
<circle cx="469.90" cy="317.10" r="2.85" fill="#A8ADF5"/>
<circle cx="488.65" cy="317.10" r="1.90" fill="#CBCCEF"/>
<circle cx="507.40" cy="317.10" r="2.38" fill="#A8ADF5"/>
<circle cx="526.15" cy="317.10" r="1.71" fill="#CBCCEF"/>
<circle cx="544.90" cy="317.10" r="2.09" fill="#CBCCEF"/>
<circle cx="394.90" cy="323.36" r="3.04" fill="#A8ADF5"/>
<circle cx="413.65" cy="323.36" r="1.71" fill="#CBCCEF"/>
<circle cx="432.40" cy="323.36" r="1.42" fill="#CBCCEF"/>
<circle cx="451.15" cy="323.36" r="4.75" fill="#15009C"/>
<circle cx="469.90" cy="323.36" r="3.32" fill="#A8ADF5"/>
<circle cx="488.65" cy="323.36" r="1.71" fill="#CBCCEF"/>
<circle cx="507.40" cy="323.36" r="2.09" fill="#CBCCEF"/>
<circle cx="526.15" cy="323.36" r="1.42" fill="#CBCCEF"/>
<circle cx="544.90" cy="323.36" r="1.71" fill="#CBCCEF"/>
<circle cx="394.90" cy="329.62" r="3.80" fill="#A8ADF5"/>
<circle cx="413.65" cy="329.62" r="1.90" fill="#CBCCEF"/>
<circle cx="432.40" cy="329.62" r="1.71" fill="#CBCCEF"/>
<circle cx="451.15" cy="329.62" r="4.75" fill="#15009C"/>
<circle cx="469.90" cy="329.62" r="4.27" fill="#A8ADF5"/>
<circle cx="488.65" cy="329.62" r="1.90" fill="#CBCCEF"/>
<circle cx="507.40" cy="329.62" r="3.32" fill="#A8ADF5"/>
<circle cx="526.15" cy="329.62" r="1.90" fill="#CBCCEF"/>
<circle cx="544.90" cy="329.62" r="1.90" fill="#CBCCEF"/>
<circle cx="394.90" cy="335.88" r="3.80" fill="#A8ADF5"/>
<circle cx="413.65" cy="335.88" r="1.71" fill="#CBCCEF"/>
<circle cx="432.40" cy="335.88" r="1.42" fill="#CBCCEF"/>
<circle cx="451.15" cy="335.88" r="4.75" fill="#15009C"/>
<circle cx="469.90" cy="335.88" r="4.27" fill="#A8ADF5"/>
<circle cx="488.65" cy="335.88" r="1.90" fill="#CBCCEF"/>
<circle cx="507.40" cy="335.88" r="4.27" fill="#A8ADF5"/>
<circle cx="526.15" cy="335.88" r="2.09" fill="#CBCCEF"/>
<circle cx="544.90" cy="335.88" r="1.71" fill="#CBCCEF"/>
<circle cx="394.90" cy="342.14" r="4.75" fill="#15009C"/>
<circle cx="413.65" cy="342.14" r="1.71" fill="#CBCCEF"/>
<circle cx="432.40" cy="342.14" r="2.38" fill="#CBCCEF"/>
<circle cx="451.15" cy="342.14" r="2.38" fill="#CBCCEF"/>
<circle cx="469.90" cy="342.14" r="4.75" fill="#4A62FA"/>
<circle cx="488.65" cy="342.14" r="1.90" fill="#CBCCEF"/>
<circle cx="507.40" cy="342.14" r="2.38" fill="#CBCCEF"/>
<circle cx="526.15" cy="342.14" r="1.90" fill="#CBCCEF"/>
<circle cx="544.90" cy="342.14" r="1.90" fill="#CBCCEF"/>
<circle cx="394.90" cy="348.40" r="4.75" fill="#4A62FA"/>
<circle cx="413.65" cy="348.40" r="4.27" fill="#DEDFE8"/>
<circle cx="432.40" cy="348.40" r="4.27" fill="#DEDFE8"/>
<circle cx="451.15" cy="348.40" r="4.75" fill="#4A62FA"/>
<circle cx="469.90" cy="348.40" r="5.22" fill="#8592FF"/>
<circle cx="488.65" cy="348.40" r="4.75" fill="#DEDFE8"/>
<circle cx="507.40" cy="348.40" r="5.22" fill="#353CD6"/>
<circle cx="526.15" cy="348.40" r="4.75" fill="#DEDFE8"/>
<circle cx="544.90" cy="348.40" r="4.75" fill="#DEDFE8"/>
<circle cx="394.90" cy="354.66" r="4.75" fill="#4A62FA"/>
<circle cx="413.65" cy="354.66" r="2.09" fill="#CBCCEF"/>
<circle cx="432.40" cy="354.66" r="2.09" fill="#CBCCEF"/>
<circle cx="451.15" cy="354.66" r="4.75" fill="#7988FE"/>
<circle cx="469.90" cy="354.66" r="5.22" fill="#8592FF"/>
<circle cx="488.65" cy="354.66" r="3.32" fill="#CBCCEF"/>
<circle cx="507.40" cy="354.66" r="5.22" fill="#15009C"/>
<circle cx="526.15" cy="354.66" r="3.32" fill="#CBCCEF"/>
<circle cx="544.90" cy="354.66" r="3.32" fill="#CBCCEF"/>
<circle cx="394.90" cy="360.92" r="4.75" fill="#15009C"/>
<circle cx="413.65" cy="360.92" r="2.38" fill="#CBCCEF"/>
<circle cx="432.40" cy="360.92" r="2.09" fill="#CBCCEF"/>
<circle cx="451.15" cy="360.92" r="2.85" fill="#CBCCEF"/>
<circle cx="469.90" cy="360.92" r="5.22" fill="#4A62FA"/>
<circle cx="488.65" cy="360.92" r="2.38" fill="#CBCCEF"/>
<circle cx="507.40" cy="360.92" r="1.90" fill="#CBCCEF"/>
<circle cx="526.15" cy="360.92" r="2.38" fill="#CBCCEF"/>
<circle cx="544.90" cy="360.92" r="2.38" fill="#CBCCEF"/>
<circle cx="394.90" cy="367.18" r="4.75" fill="#15009C"/>
<circle cx="413.65" cy="367.18" r="2.09" fill="#CBCCEF"/>
<circle cx="432.40" cy="367.18" r="2.09" fill="#CBCCEF"/>
<circle cx="451.15" cy="367.18" r="4.27" fill="#A8ADF5"/>
<circle cx="469.90" cy="367.18" r="5.22" fill="#4A62FA"/>
<circle cx="488.65" cy="367.18" r="2.38" fill="#CBCCEF"/>
<circle cx="507.40" cy="367.18" r="2.38" fill="#CBCCEF"/>
<circle cx="526.15" cy="367.18" r="2.38" fill="#CBCCEF"/>
<circle cx="544.90" cy="367.18" r="2.38" fill="#CBCCEF"/>
<circle cx="394.90" cy="373.44" r="1.90" fill="#CBCCEF"/>
<circle cx="413.65" cy="373.44" r="3.32" fill="#15009C"/>
<circle cx="432.40" cy="373.44" r="1.90" fill="#CBCCEF"/>
<circle cx="451.15" cy="373.44" r="2.85" fill="#CBCCEF"/>
<circle cx="469.90" cy="373.44" r="1.90" fill="#CBCCEF"/>
<circle cx="488.65" cy="373.44" r="2.85" fill="#3B47E0"/>
<circle cx="507.40" cy="373.44" r="1.90" fill="#CBCCEF"/>
<circle cx="526.15" cy="373.44" r="2.09" fill="#CBCCEF"/>
<circle cx="544.90" cy="373.44" r="2.09" fill="#CBCCEF"/>
<circle cx="394.90" cy="379.70" r="2.85" fill="#CBCCEF"/>
<circle cx="413.65" cy="379.70" r="4.27" fill="#251FB9"/>
<circle cx="432.40" cy="379.70" r="4.27" fill="#7988FE"/>
<circle cx="451.15" cy="379.70" r="3.32" fill="#CBCCEF"/>
<circle cx="469.90" cy="379.70" r="3.32" fill="#D3D4EC"/>
<circle cx="488.65" cy="379.70" r="4.27" fill="#4152EA"/>
<circle cx="507.40" cy="379.70" r="2.85" fill="#DEDFE8"/>
<circle cx="526.15" cy="379.70" r="2.85" fill="#CBCCEF"/>
<circle cx="544.90" cy="379.70" r="3.80" fill="#9EA5F8"/>
<circle cx="394.90" cy="385.96" r="2.85" fill="#CBCCEF"/>
<circle cx="413.65" cy="385.96" r="4.75" fill="#4A62FA"/>
<circle cx="432.40" cy="385.96" r="4.75" fill="#2C2CC6"/>
<circle cx="451.15" cy="385.96" r="3.32" fill="#CBCCEF"/>
<circle cx="469.90" cy="385.96" r="3.61" fill="#D3D4EC"/>
<circle cx="488.65" cy="385.96" r="4.75" fill="#4A62FA"/>
<circle cx="507.40" cy="385.96" r="2.85" fill="#DEDFE8"/>
<circle cx="526.15" cy="385.96" r="3.32" fill="#CBCCEF"/>
<circle cx="544.90" cy="385.96" r="4.27" fill="#A8ADF5"/>
<circle cx="394.90" cy="392.22" r="2.85" fill="#CBCCEF"/>
<circle cx="413.65" cy="392.22" r="4.27" fill="#4152EA"/>
<circle cx="432.40" cy="392.22" r="4.75" fill="#2C2CC6"/>
<circle cx="451.15" cy="392.22" r="3.32" fill="#CBCCEF"/>
<circle cx="469.90" cy="392.22" r="3.32" fill="#D6D7EB"/>
<circle cx="488.65" cy="392.22" r="4.75" fill="#4A62FA"/>
<circle cx="507.40" cy="392.22" r="2.85" fill="#DEDFE8"/>
<circle cx="526.15" cy="392.22" r="2.85" fill="#CBCCEF"/>
<circle cx="544.90" cy="392.22" r="3.80" fill="#CBCCEF"/>
<circle cx="394.90" cy="398.48" r="2.85" fill="#A8ADF5"/>
<circle cx="413.65" cy="398.48" r="4.27" fill="#15009C"/>
<circle cx="432.40" cy="398.48" r="2.09" fill="#CBCCEF"/>
<circle cx="451.15" cy="398.48" r="2.85" fill="#C0C3F1"/>
<circle cx="469.90" cy="398.48" r="2.85" fill="#CBCCEF"/>
<circle cx="488.65" cy="398.48" r="3.80" fill="#3B47E0"/>
<circle cx="507.40" cy="398.48" r="2.38" fill="#CBCCEF"/>
<circle cx="526.15" cy="398.48" r="2.85" fill="#CBCCEF"/>
<circle cx="544.90" cy="398.48" r="2.85" fill="#CBCCEF"/>
<circle cx="394.90" cy="404.74" r="1.71" fill="#CBCCEF"/>
<circle cx="413.65" cy="404.74" r="1.42" fill="#CBCCEF"/>
<circle cx="432.40" cy="404.74" r="1.42" fill="#CBCCEF"/>
<circle cx="451.15" cy="404.74" r="1.90" fill="#CBCCEF"/>
<circle cx="469.90" cy="404.74" r="4.27" fill="#4A62FA"/>
<circle cx="488.65" cy="404.74" r="1.90" fill="#CBCCEF"/>
<circle cx="507.40" cy="404.74" r="1.71" fill="#CBCCEF"/>
<circle cx="526.15" cy="404.74" r="4.27" fill="#2C2CC6"/>
<circle cx="544.90" cy="404.74" r="4.27" fill="#2C2CC6"/>
<circle cx="394.90" cy="411.00" r="1.90" fill="#CBCCEF"/>
<circle cx="413.65" cy="411.00" r="2.09" fill="#CBCCEF"/>
<circle cx="432.40" cy="411.00" r="2.38" fill="#CBCCEF"/>
<circle cx="451.15" cy="411.00" r="2.38" fill="#CBCCEF"/>
<circle cx="469.90" cy="411.00" r="4.75" fill="#4A62FA"/>
<circle cx="488.65" cy="411.00" r="2.38" fill="#CBCCEF"/>
<circle cx="507.40" cy="411.00" r="2.38" fill="#CBCCEF"/>
<circle cx="526.15" cy="411.00" r="3.80" fill="#4152EA"/>
<circle cx="544.90" cy="411.00" r="4.75" fill="#1C0DA9"/>
<circle cx="394.90" cy="417.26" r="1.90" fill="#CBCCEF"/>
<circle cx="413.65" cy="417.26" r="2.09" fill="#CBCCEF"/>
<circle cx="432.40" cy="417.26" r="2.09" fill="#CBCCEF"/>
<circle cx="451.15" cy="417.26" r="2.38" fill="#CBCCEF"/>
<circle cx="469.90" cy="417.26" r="5.22" fill="#4A62FA"/>
<circle cx="488.65" cy="417.26" r="2.38" fill="#CBCCEF"/>
<circle cx="507.40" cy="417.26" r="2.38" fill="#CBCCEF"/>
<circle cx="526.15" cy="417.26" r="5.22" fill="#15009C"/>
<circle cx="544.90" cy="417.26" r="4.75" fill="#4A62FA"/>
<circle cx="394.90" cy="423.52" r="1.90" fill="#CBCCEF"/>
<circle cx="413.65" cy="423.52" r="1.90" fill="#CBCCEF"/>
<circle cx="432.40" cy="423.52" r="4.75" fill="#2C2CC6"/>
<circle cx="451.15" cy="423.52" r="2.38" fill="#CBCCEF"/>
<circle cx="469.90" cy="423.52" r="4.75" fill="#6D7FFD"/>
<circle cx="488.65" cy="423.52" r="2.38" fill="#CBCCEF"/>
<circle cx="507.40" cy="423.52" r="1.90" fill="#CBCCEF"/>
<circle cx="526.15" cy="423.52" r="2.85" fill="#CBCCEF"/>
<circle cx="544.90" cy="423.52" r="4.27" fill="#2C2CC6"/>
<circle cx="394.90" cy="429.78" r="2.38" fill="#CBCCEF"/>
<circle cx="413.65" cy="429.78" r="2.38" fill="#CBCCEF"/>
<circle cx="432.40" cy="429.78" r="2.38" fill="#CBCCEF"/>
<circle cx="451.15" cy="429.78" r="2.85" fill="#CBCCEF"/>
<circle cx="469.90" cy="429.78" r="5.22" fill="#4A62FA"/>
<circle cx="488.65" cy="429.78" r="2.85" fill="#CBCCEF"/>
<circle cx="507.40" cy="429.78" r="2.85" fill="#CBCCEF"/>
<circle cx="526.15" cy="429.78" r="4.75" fill="#2723BE"/>
<circle cx="544.90" cy="429.78" r="4.75" fill="#2C2CC6"/>
<text x="0" y="0" font-family="Liberation Sans, Arial, sans-serif" font-size="6.6" font-weight="bold" fill="#2A2A2A" text-anchor="end" transform="translate(398.20,440.9) rotate(-45)">B cells</text>
<text x="0" y="0" font-family="Liberation Sans, Arial, sans-serif" font-size="6.6" font-weight="bold" fill="#2A2A2A" text-anchor="end" transform="translate(416.95,440.9) rotate(-45)">CD4+ T cells</text>
<text x="0" y="0" font-family="Liberation Sans, Arial, sans-serif" font-size="6.6" font-weight="bold" fill="#2A2A2A" text-anchor="end" transform="translate(435.70,440.9) rotate(-45)">CD8+ T cells</text>
<text x="0" y="0" font-family="Liberation Sans, Arial, sans-serif" font-size="6.6" font-weight="bold" fill="#2A2A2A" text-anchor="end" transform="translate(454.45,440.9) rotate(-45)">Dendritic cells</text>
<text x="0" y="0" font-family="Liberation Sans, Arial, sans-serif" font-size="6.6" font-weight="bold" fill="#2A2A2A" text-anchor="end" transform="translate(473.20,440.9) rotate(-45)">Innate-like B cells</text>
<text x="0" y="0" font-family="Liberation Sans, Arial, sans-serif" font-size="6.6" font-weight="bold" fill="#2A2A2A" text-anchor="end" transform="translate(491.95,440.9) rotate(-45)">Monocyte-like</text>
<text x="0" y="0" font-family="Liberation Sans, Arial, sans-serif" font-size="6.6" font-weight="bold" fill="#2A2A2A" text-anchor="end" transform="translate(510.70,440.9) rotate(-45)">Monocytes</text>
<text x="0" y="0" font-family="Liberation Sans, Arial, sans-serif" font-size="6.6" font-weight="bold" fill="#2A2A2A" text-anchor="end" transform="translate(529.45,440.9) rotate(-45)">NK cells</text>
<text x="0" y="0" font-family="Liberation Sans, Arial, sans-serif" font-size="6.6" font-weight="bold" fill="#2A2A2A" text-anchor="end" transform="translate(548.20,440.9) rotate(-45)">NK-featured T cells</text>
<text x="568.8" y="243.6" font-family="Liberation Sans, Arial, sans-serif" font-size="7" font-weight="bold" fill="#111" textLength="66.5" lengthAdjust="spacingAndGlyphs">Percent Expressed</text>
<circle cx="574.9" cy="255.3" r="3.2" fill="#000"/>
<text x="585.6" y="257.6" font-family="Liberation Sans, Arial, sans-serif" font-size="6.6" fill="#222" stroke="#222" stroke-width="0.1">25</text>
<circle cx="574.9" cy="266.9" r="4.1" fill="#000"/>
<text x="585.6" y="269.2" font-family="Liberation Sans, Arial, sans-serif" font-size="6.6" fill="#222" stroke="#222" stroke-width="0.1">50</text>
<circle cx="574.9" cy="279" r="4.8" fill="#000"/>
<text x="585.6" y="281.3" font-family="Liberation Sans, Arial, sans-serif" font-size="6.6" fill="#222" stroke="#222" stroke-width="0.1">75</text>
<circle cx="574.9" cy="291.5" r="5.6" fill="#000"/>
<text x="585.6" y="293.8" font-family="Liberation Sans, Arial, sans-serif" font-size="6.6" fill="#222" stroke="#222" stroke-width="0.1">100</text>
<text x="568.3" y="320.1" font-family="Liberation Sans, Arial, sans-serif" font-size="7" font-weight="bold" fill="#111" textLength="70" lengthAdjust="spacingAndGlyphs">Average Expression</text>
<defs><linearGradient id="avgc" x1="0" y1="1" x2="0" y2="0"><stop offset="0" stop-color="#E0E0E8"/><stop offset="0.3" stop-color="#A8AEF2"/><stop offset="0.55" stop-color="#5A78FF"/><stop offset="0.78" stop-color="#3540DA"/><stop offset="1" stop-color="#15009C"/></linearGradient></defs>
<rect x="568.8" y="325.8" width="11.3" height="58.7" fill="url(#avgc)"/>
<path d="M568.8,334.6h2.2M577.9,334.6h2.2" stroke="#fff" stroke-width="0.5"/>
<text x="584" y="336.9" font-family="Liberation Sans, Arial, sans-serif" font-size="6.6" fill="#222" stroke="#222" stroke-width="0.1">2</text>
<path d="M568.8,351.2h2.2M577.9,351.2h2.2" stroke="#fff" stroke-width="0.5"/>
<text x="584" y="353.5" font-family="Liberation Sans, Arial, sans-serif" font-size="6.6" fill="#222" stroke="#222" stroke-width="0.1">1</text>
<path d="M568.8,368.1h2.2M577.9,368.1h2.2" stroke="#fff" stroke-width="0.5"/>
<text x="584" y="370.4" font-family="Liberation Sans, Arial, sans-serif" font-size="6.6" fill="#222" stroke="#222" stroke-width="0.1">0</text>
<text x="7.3" y="477.8" font-family="Liberation Sans, Arial, sans-serif" font-size="13.6" fill="#111">D</text>
<rect x="62" y="476" width="183.6" height="3.6" fill="#EBEBEB"/>
<rect x="62.0" y="472" width="98.20" height="3.9" fill="#E0A024"/>
<rect x="160.6" y="472" width="29.60" height="3.9" fill="#F966EA"/>
<rect x="190.6" y="472" width="25.70" height="3.9" fill="#EC6A62"/>
<rect x="216.8" y="472" width="14.70" height="3.9" fill="#DE72F4"/>
<rect x="231.9" y="472" width="4.40" height="3.9" fill="#9CA21E"/>
<rect x="236.7" y="472" width="2.60" height="3.9" fill="#5C9DFA"/>
<rect x="239.7" y="472" width="1.60" height="3.9" fill="#A98CF8"/>
<rect x="241.7" y="472" width="1.60" height="3.9" fill="#3FC8C4"/>
<rect x="243.6" y="472" width="2.00" height="3.9" fill="#3CD184"/>
<defs><filter id="hb" x="-0.01" y="-0.01" width="1.02" height="1.02"><feGaussianBlur stdDeviation="0.35 0.15"/></filter><clipPath id="hc"><rect x="62" y="479.6" width="183.6" height="203.8"/></clipPath></defs>
<g clip-path="url(#hc)"><g shape-rendering="crispEdges" filter="url(#hb)">
<rect x="62.0" y="479.60" width="98.6" height="6.06" fill="#A82CC4"/>
<rect x="160.6" y="479.60" width="30.0" height="6.06" fill="#8A20A2"/>
<rect x="190.6" y="479.60" width="26.2" height="6.06" fill="#A82CC4"/>
<rect x="216.8" y="479.60" width="15.1" height="6.06" fill="#8A20A2"/>
<rect x="231.9" y="479.60" width="4.8" height="6.06" fill="#9824B2"/>
<rect x="236.7" y="479.60" width="3.0" height="6.06" fill="#A82CC4"/>
<rect x="239.7" y="479.60" width="2.0" height="6.06" fill="#A82CC4"/>
<rect x="241.7" y="479.60" width="1.9" height="6.06" fill="#A82CC4"/>
<rect x="243.6" y="479.60" width="2.0" height="6.06" fill="#9824B2"/>
<rect x="62.0" y="485.26" width="98.6" height="6.06" fill="#8A20A2"/>
<rect x="160.6" y="485.26" width="30.0" height="6.06" fill="#9824B2"/>
<rect x="190.6" y="485.26" width="26.2" height="6.06" fill="#8A20A2"/>
<rect x="216.8" y="485.26" width="15.1" height="6.06" fill="#8A20A2"/>
<rect x="231.9" y="485.26" width="4.8" height="6.06" fill="#8A20A2"/>
<rect x="236.7" y="485.26" width="3.0" height="6.06" fill="#9824B2"/>
<rect x="239.7" y="485.26" width="2.0" height="6.06" fill="#9824B2"/>
<rect x="241.7" y="485.26" width="1.9" height="6.06" fill="#9824B2"/>
<rect x="243.6" y="485.26" width="2.0" height="6.06" fill="#9824B2"/>
<rect x="62.0" y="490.92" width="98.6" height="6.06" fill="#9824B2"/>
<rect x="160.6" y="490.92" width="30.0" height="6.06" fill="#9824B2"/>
<rect x="190.6" y="490.92" width="26.2" height="6.06" fill="#9824B2"/>
<rect x="216.8" y="490.92" width="15.1" height="6.06" fill="#9824B2"/>
<rect x="231.9" y="490.92" width="4.8" height="6.06" fill="#9824B2"/>
<rect x="236.7" y="490.92" width="3.0" height="6.06" fill="#9824B2"/>
<rect x="239.7" y="490.92" width="2.0" height="6.06" fill="#9824B2"/>
<rect x="241.7" y="490.92" width="1.9" height="6.06" fill="#9824B2"/>
<rect x="243.6" y="490.92" width="2.0" height="6.06" fill="#9824B2"/>
<rect x="62.0" y="496.58" width="98.6" height="6.06" fill="#9824B2"/>
<rect x="160.6" y="496.58" width="30.0" height="6.06" fill="#9824B2"/>
<rect x="190.6" y="496.58" width="26.2" height="6.06" fill="#9824B2"/>
<rect x="216.8" y="496.58" width="15.1" height="6.06" fill="#9824B2"/>
<rect x="231.9" y="496.58" width="4.8" height="6.06" fill="#9824B2"/>
<rect x="236.7" y="496.58" width="3.0" height="6.06" fill="#9824B2"/>
<rect x="239.7" y="496.58" width="2.0" height="6.06" fill="#9824B2"/>
<rect x="241.7" y="496.58" width="1.9" height="6.06" fill="#9824B2"/>
<rect x="243.6" y="496.58" width="2.0" height="6.06" fill="#9824B2"/>
<rect x="62.0" y="502.24" width="98.6" height="6.06" fill="#8A20A2"/>
<rect x="160.6" y="502.24" width="30.0" height="6.06" fill="#9824B2"/>
<rect x="190.6" y="502.24" width="26.2" height="6.06" fill="#8A20A2"/>
<rect x="216.8" y="502.24" width="15.1" height="6.06" fill="#9824B2"/>
<rect x="231.9" y="502.24" width="4.8" height="6.06" fill="#9824B2"/>
<rect x="236.7" y="502.24" width="3.0" height="6.06" fill="#9824B2"/>
<rect x="239.7" y="502.24" width="2.0" height="6.06" fill="#9824B2"/>
<rect x="241.7" y="502.24" width="1.9" height="6.06" fill="#9824B2"/>
<rect x="243.6" y="502.24" width="2.0" height="6.06" fill="#9824B2"/>
<rect x="62.0" y="507.90" width="98.6" height="6.06" fill="#8A20A2"/>
<rect x="160.6" y="507.90" width="30.0" height="6.06" fill="#A82CC4"/>
<rect x="190.6" y="507.90" width="26.2" height="6.06" fill="#9824B2"/>
<rect x="216.8" y="507.90" width="15.1" height="6.06" fill="#9824B2"/>
<rect x="231.9" y="507.90" width="4.8" height="6.06" fill="#9824B2"/>
<rect x="236.7" y="507.90" width="3.0" height="6.06" fill="#9824B2"/>
<rect x="239.7" y="507.90" width="2.0" height="6.06" fill="#9824B2"/>
<rect x="241.7" y="507.90" width="1.9" height="6.06" fill="#9824B2"/>
<rect x="243.6" y="507.90" width="2.0" height="6.06" fill="#9824B2"/>
<rect x="62.0" y="513.56" width="98.6" height="6.06" fill="#8A20A2"/>
<rect x="160.6" y="513.56" width="30.0" height="6.06" fill="#A82CC4"/>
<rect x="190.6" y="513.56" width="26.2" height="6.06" fill="#C838E0"/>
<rect x="216.8" y="513.56" width="15.1" height="6.06" fill="#C838E0"/>
<rect x="231.9" y="513.56" width="4.8" height="6.06" fill="#A82CC4"/>
<rect x="236.7" y="513.56" width="3.0" height="6.06" fill="#C838E0"/>
<rect x="239.7" y="513.56" width="2.0" height="6.06" fill="#A82CC4"/>
<rect x="241.7" y="513.56" width="1.9" height="6.06" fill="#C838E0"/>
<rect x="243.6" y="513.56" width="2.0" height="6.06" fill="#A82CC4"/>
<rect x="62.0" y="519.22" width="98.6" height="6.06" fill="#8A20A2"/>
<rect x="160.6" y="519.22" width="30.0" height="6.06" fill="#9824B2"/>
<rect x="190.6" y="519.22" width="26.2" height="6.06" fill="#9824B2"/>
<rect x="216.8" y="519.22" width="15.1" height="6.06" fill="#9824B2"/>
<rect x="231.9" y="519.22" width="4.8" height="6.06" fill="#9824B2"/>
<rect x="236.7" y="519.22" width="3.0" height="6.06" fill="#9824B2"/>
<rect x="239.7" y="519.22" width="2.0" height="6.06" fill="#9824B2"/>
<rect x="241.7" y="519.22" width="1.9" height="6.06" fill="#9824B2"/>
<rect x="243.6" y="519.22" width="2.0" height="6.06" fill="#9824B2"/>
<rect x="62.0" y="524.88" width="98.6" height="6.06" fill="#9824B2"/>
<rect x="160.6" y="524.88" width="30.0" height="6.06" fill="#8A20A2"/>
<rect x="190.6" y="524.88" width="26.2" height="6.06" fill="#8A20A2"/>
<rect x="216.8" y="524.88" width="15.1" height="6.06" fill="#8A20A2"/>
<rect x="231.9" y="524.88" width="4.8" height="6.06" fill="#8A20A2"/>
<rect x="236.7" y="524.88" width="3.0" height="6.06" fill="#8A20A2"/>
<rect x="239.7" y="524.88" width="2.0" height="6.06" fill="#8A20A2"/>
<rect x="241.7" y="524.88" width="1.9" height="6.06" fill="#8A20A2"/>
<rect x="243.6" y="524.88" width="2.0" height="6.06" fill="#8A20A2"/>
<rect x="62.0" y="530.54" width="98.6" height="6.06" fill="#9824B2"/>
<rect x="160.6" y="530.54" width="30.0" height="6.06" fill="#8A20A2"/>
<rect x="190.6" y="530.54" width="26.2" height="6.06" fill="#8A20A2"/>
<rect x="216.8" y="530.54" width="15.1" height="6.06" fill="#8A20A2"/>
<rect x="231.9" y="530.54" width="4.8" height="6.06" fill="#8A20A2"/>
<rect x="236.7" y="530.54" width="3.0" height="6.06" fill="#8A20A2"/>
<rect x="239.7" y="530.54" width="2.0" height="6.06" fill="#8A20A2"/>
<rect x="241.7" y="530.54" width="1.9" height="6.06" fill="#8A20A2"/>
<rect x="243.6" y="530.54" width="2.0" height="6.06" fill="#8A20A2"/>
<rect x="62.0" y="536.20" width="98.6" height="6.06" fill="#A82CC4"/>
<rect x="160.6" y="536.20" width="30.0" height="6.06" fill="#9824B2"/>
<rect x="190.6" y="536.20" width="26.2" height="6.06" fill="#8A20A2"/>
<rect x="216.8" y="536.20" width="15.1" height="6.06" fill="#9824B2"/>
<rect x="231.9" y="536.20" width="4.8" height="6.06" fill="#9824B2"/>
<rect x="236.7" y="536.20" width="3.0" height="6.06" fill="#9824B2"/>
<rect x="239.7" y="536.20" width="2.0" height="6.06" fill="#9824B2"/>
<rect x="241.7" y="536.20" width="1.9" height="6.06" fill="#9824B2"/>
<rect x="243.6" y="536.20" width="2.0" height="6.06" fill="#9824B2"/>
<rect x="62.0" y="541.86" width="98.6" height="6.06" fill="#C838E0"/>
<rect x="160.6" y="541.86" width="30.0" height="6.06" fill="#9824B2"/>
<rect x="190.6" y="541.86" width="26.2" height="6.06" fill="#8A20A2"/>
<rect x="216.8" y="541.86" width="15.1" height="6.06" fill="#9824B2"/>
<rect x="231.9" y="541.86" width="4.8" height="6.06" fill="#9824B2"/>
<rect x="236.7" y="541.86" width="3.0" height="6.06" fill="#9824B2"/>
<rect x="239.7" y="541.86" width="2.0" height="6.06" fill="#9824B2"/>
<rect x="241.7" y="541.86" width="1.9" height="6.06" fill="#9824B2"/>
<rect x="243.6" y="541.86" width="2.0" height="6.06" fill="#9824B2"/>
<rect x="62.0" y="547.52" width="98.6" height="6.06" fill="#8A20A2"/>
<rect x="160.6" y="547.52" width="30.0" height="6.06" fill="#8A20A2"/>
<rect x="190.6" y="547.52" width="26.2" height="6.06" fill="#8A20A2"/>
<rect x="216.8" y="547.52" width="15.1" height="6.06" fill="#8A20A2"/>
<rect x="231.9" y="547.52" width="4.8" height="6.06" fill="#8A20A2"/>
<rect x="236.7" y="547.52" width="3.0" height="6.06" fill="#8A20A2"/>
<rect x="239.7" y="547.52" width="2.0" height="6.06" fill="#8A20A2"/>
<rect x="241.7" y="547.52" width="1.9" height="6.06" fill="#8A20A2"/>
<rect x="243.6" y="547.52" width="2.0" height="6.06" fill="#8A20A2"/>
<rect x="62.0" y="553.18" width="98.6" height="6.06" fill="#8A20A2"/>
<rect x="160.6" y="553.18" width="30.0" height="6.06" fill="#8A20A2"/>
<rect x="190.6" y="553.18" width="26.2" height="6.06" fill="#8A20A2"/>
<rect x="216.8" y="553.18" width="15.1" height="6.06" fill="#8A20A2"/>
<rect x="231.9" y="553.18" width="4.8" height="6.06" fill="#8A20A2"/>
<rect x="236.7" y="553.18" width="3.0" height="6.06" fill="#8A20A2"/>
<rect x="239.7" y="553.18" width="2.0" height="6.06" fill="#8A20A2"/>
<rect x="241.7" y="553.18" width="1.9" height="6.06" fill="#8A20A2"/>
<rect x="243.6" y="553.18" width="2.0" height="6.06" fill="#8A20A2"/>
<rect x="62.0" y="558.84" width="98.6" height="6.06" fill="#8A20A2"/>
<rect x="160.6" y="558.84" width="30.0" height="6.06" fill="#8A20A2"/>
<rect x="190.6" y="558.84" width="26.2" height="6.06" fill="#8A20A2"/>
<rect x="216.8" y="558.84" width="15.1" height="6.06" fill="#8A20A2"/>
<rect x="231.9" y="558.84" width="4.8" height="6.06" fill="#8A20A2"/>
<rect x="236.7" y="558.84" width="3.0" height="6.06" fill="#8A20A2"/>
<rect x="239.7" y="558.84" width="2.0" height="6.06" fill="#8A20A2"/>
<rect x="241.7" y="558.84" width="1.9" height="6.06" fill="#8A20A2"/>
<rect x="243.6" y="558.84" width="2.0" height="6.06" fill="#8A20A2"/>
<rect x="62.0" y="564.50" width="98.6" height="6.06" fill="#781A90"/>
<rect x="160.6" y="564.50" width="30.0" height="6.06" fill="#8A20A2"/>
<rect x="190.6" y="564.50" width="26.2" height="6.06" fill="#8A20A2"/>
<rect x="216.8" y="564.50" width="15.1" height="6.06" fill="#8A20A2"/>
<rect x="231.9" y="564.50" width="4.8" height="6.06" fill="#8A20A2"/>
<rect x="236.7" y="564.50" width="3.0" height="6.06" fill="#8A20A2"/>
<rect x="239.7" y="564.50" width="2.0" height="6.06" fill="#8A20A2"/>
<rect x="241.7" y="564.50" width="1.9" height="6.06" fill="#8A20A2"/>
<rect x="243.6" y="564.50" width="2.0" height="6.06" fill="#8A20A2"/>
<rect x="62.0" y="570.16" width="98.6" height="6.06" fill="#8A20A2"/>
<rect x="160.6" y="570.16" width="30.0" height="6.06" fill="#8A20A2"/>
<rect x="190.6" y="570.16" width="26.2" height="6.06" fill="#8A20A2"/>
<rect x="216.8" y="570.16" width="15.1" height="6.06" fill="#8A20A2"/>
<rect x="231.9" y="570.16" width="4.8" height="6.06" fill="#8A20A2"/>
<rect x="236.7" y="570.16" width="3.0" height="6.06" fill="#8A20A2"/>
<rect x="239.7" y="570.16" width="2.0" height="6.06" fill="#8A20A2"/>
<rect x="241.7" y="570.16" width="1.9" height="6.06" fill="#8A20A2"/>
<rect x="243.6" y="570.16" width="2.0" height="6.06" fill="#8A20A2"/>
<rect x="62.0" y="575.82" width="98.6" height="6.06" fill="#64147E"/>
<rect x="160.6" y="575.82" width="30.0" height="6.06" fill="#64147E"/>
<rect x="190.6" y="575.82" width="26.2" height="6.06" fill="#64147E"/>
<rect x="216.8" y="575.82" width="15.1" height="6.06" fill="#64147E"/>
<rect x="231.9" y="575.82" width="4.8" height="6.06" fill="#64147E"/>
<rect x="236.7" y="575.82" width="3.0" height="6.06" fill="#64147E"/>
<rect x="239.7" y="575.82" width="2.0" height="6.06" fill="#64147E"/>
<rect x="241.7" y="575.82" width="1.9" height="6.06" fill="#64147E"/>
<rect x="243.6" y="575.82" width="2.0" height="6.06" fill="#64147E"/>
<rect x="62.0" y="581.48" width="98.6" height="6.06" fill="#781A90"/>
<rect x="160.6" y="581.48" width="30.0" height="6.06" fill="#781A90"/>
<rect x="190.6" y="581.48" width="26.2" height="6.06" fill="#781A90"/>
<rect x="216.8" y="581.48" width="15.1" height="6.06" fill="#781A90"/>
<rect x="231.9" y="581.48" width="4.8" height="6.06" fill="#781A90"/>
<rect x="236.7" y="581.48" width="3.0" height="6.06" fill="#781A90"/>
<rect x="239.7" y="581.48" width="2.0" height="6.06" fill="#781A90"/>
<rect x="241.7" y="581.48" width="1.9" height="6.06" fill="#781A90"/>
<rect x="243.6" y="581.48" width="2.0" height="6.06" fill="#781A90"/>
<rect x="62.0" y="587.14" width="98.6" height="6.06" fill="#781A90"/>
<rect x="160.6" y="587.14" width="30.0" height="6.06" fill="#781A90"/>
<rect x="190.6" y="587.14" width="26.2" height="6.06" fill="#781A90"/>
<rect x="216.8" y="587.14" width="15.1" height="6.06" fill="#781A90"/>
<rect x="231.9" y="587.14" width="4.8" height="6.06" fill="#781A90"/>
<rect x="236.7" y="587.14" width="3.0" height="6.06" fill="#781A90"/>
<rect x="239.7" y="587.14" width="2.0" height="6.06" fill="#781A90"/>
<rect x="241.7" y="587.14" width="1.9" height="6.06" fill="#781A90"/>
<rect x="243.6" y="587.14" width="2.0" height="6.06" fill="#781A90"/>
<rect x="62.0" y="592.80" width="98.6" height="6.06" fill="#64147E"/>
<rect x="160.6" y="592.80" width="30.0" height="6.06" fill="#64147E"/>
<rect x="190.6" y="592.80" width="26.2" height="6.06" fill="#64147E"/>
<rect x="216.8" y="592.80" width="15.1" height="6.06" fill="#64147E"/>
<rect x="231.9" y="592.80" width="4.8" height="6.06" fill="#64147E"/>
<rect x="236.7" y="592.80" width="3.0" height="6.06" fill="#64147E"/>
<rect x="239.7" y="592.80" width="2.0" height="6.06" fill="#64147E"/>
<rect x="241.7" y="592.80" width="1.9" height="6.06" fill="#64147E"/>
<rect x="243.6" y="592.80" width="2.0" height="6.06" fill="#64147E"/>
<rect x="62.0" y="598.46" width="98.6" height="6.06" fill="#64147E"/>
<rect x="160.6" y="598.46" width="30.0" height="6.06" fill="#64147E"/>
<rect x="190.6" y="598.46" width="26.2" height="6.06" fill="#64147E"/>
<rect x="216.8" y="598.46" width="15.1" height="6.06" fill="#64147E"/>
<rect x="231.9" y="598.46" width="4.8" height="6.06" fill="#64147E"/>
<rect x="236.7" y="598.46" width="3.0" height="6.06" fill="#64147E"/>
<rect x="239.7" y="598.46" width="2.0" height="6.06" fill="#64147E"/>
<rect x="241.7" y="598.46" width="1.9" height="6.06" fill="#64147E"/>
<rect x="243.6" y="598.46" width="2.0" height="6.06" fill="#64147E"/>
<rect x="62.0" y="604.12" width="98.6" height="6.06" fill="#8A20A2"/>
<rect x="160.6" y="604.12" width="30.0" height="6.06" fill="#8A20A2"/>
<rect x="190.6" y="604.12" width="26.2" height="6.06" fill="#8A20A2"/>
<rect x="216.8" y="604.12" width="15.1" height="6.06" fill="#8A20A2"/>
<rect x="231.9" y="604.12" width="4.8" height="6.06" fill="#8A20A2"/>
<rect x="236.7" y="604.12" width="3.0" height="6.06" fill="#8A20A2"/>
<rect x="239.7" y="604.12" width="2.0" height="6.06" fill="#8A20A2"/>
<rect x="241.7" y="604.12" width="1.9" height="6.06" fill="#8A20A2"/>
<rect x="243.6" y="604.12" width="2.0" height="6.06" fill="#8A20A2"/>
<rect x="62.0" y="609.78" width="98.6" height="6.06" fill="#781A90"/>
<rect x="160.6" y="609.78" width="30.0" height="6.06" fill="#781A90"/>
<rect x="190.6" y="609.78" width="26.2" height="6.06" fill="#781A90"/>
<rect x="216.8" y="609.78" width="15.1" height="6.06" fill="#781A90"/>
<rect x="231.9" y="609.78" width="4.8" height="6.06" fill="#781A90"/>
<rect x="236.7" y="609.78" width="3.0" height="6.06" fill="#781A90"/>
<rect x="239.7" y="609.78" width="2.0" height="6.06" fill="#781A90"/>
<rect x="241.7" y="609.78" width="1.9" height="6.06" fill="#781A90"/>
<rect x="243.6" y="609.78" width="2.0" height="6.06" fill="#781A90"/>
<rect x="62.0" y="615.44" width="98.6" height="6.06" fill="#64147E"/>
<rect x="160.6" y="615.44" width="30.0" height="6.06" fill="#64147E"/>
<rect x="190.6" y="615.44" width="26.2" height="6.06" fill="#64147E"/>
<rect x="216.8" y="615.44" width="15.1" height="6.06" fill="#64147E"/>
<rect x="231.9" y="615.44" width="4.8" height="6.06" fill="#64147E"/>
<rect x="236.7" y="615.44" width="3.0" height="6.06" fill="#64147E"/>
<rect x="239.7" y="615.44" width="2.0" height="6.06" fill="#64147E"/>
<rect x="241.7" y="615.44" width="1.9" height="6.06" fill="#64147E"/>
<rect x="243.6" y="615.44" width="2.0" height="6.06" fill="#64147E"/>
<rect x="62.0" y="621.10" width="98.6" height="6.06" fill="#781A90"/>
<rect x="160.6" y="621.10" width="30.0" height="6.06" fill="#781A90"/>
<rect x="190.6" y="621.10" width="26.2" height="6.06" fill="#781A90"/>
<rect x="216.8" y="621.10" width="15.1" height="6.06" fill="#781A90"/>
<rect x="231.9" y="621.10" width="4.8" height="6.06" fill="#781A90"/>
<rect x="236.7" y="621.10" width="3.0" height="6.06" fill="#781A90"/>
<rect x="239.7" y="621.10" width="2.0" height="6.06" fill="#781A90"/>
<rect x="241.7" y="621.10" width="1.9" height="6.06" fill="#781A90"/>
<rect x="243.6" y="621.10" width="2.0" height="6.06" fill="#781A90"/>
<rect x="62.0" y="626.76" width="98.6" height="6.06" fill="#64147E"/>
<rect x="160.6" y="626.76" width="30.0" height="6.06" fill="#64147E"/>
<rect x="190.6" y="626.76" width="26.2" height="6.06" fill="#64147E"/>
<rect x="216.8" y="626.76" width="15.1" height="6.06" fill="#64147E"/>
<rect x="231.9" y="626.76" width="4.8" height="6.06" fill="#64147E"/>
<rect x="236.7" y="626.76" width="3.0" height="6.06" fill="#64147E"/>
<rect x="239.7" y="626.76" width="2.0" height="6.06" fill="#64147E"/>
<rect x="241.7" y="626.76" width="1.9" height="6.06" fill="#64147E"/>
<rect x="243.6" y="626.76" width="2.0" height="6.06" fill="#64147E"/>
<rect x="62.0" y="632.42" width="98.6" height="6.06" fill="#64147E"/>
<rect x="160.6" y="632.42" width="30.0" height="6.06" fill="#64147E"/>
<rect x="190.6" y="632.42" width="26.2" height="6.06" fill="#64147E"/>
<rect x="216.8" y="632.42" width="15.1" height="6.06" fill="#64147E"/>
<rect x="231.9" y="632.42" width="4.8" height="6.06" fill="#64147E"/>
<rect x="236.7" y="632.42" width="3.0" height="6.06" fill="#64147E"/>
<rect x="239.7" y="632.42" width="2.0" height="6.06" fill="#64147E"/>
<rect x="241.7" y="632.42" width="1.9" height="6.06" fill="#64147E"/>
<rect x="243.6" y="632.42" width="2.0" height="6.06" fill="#64147E"/>
<rect x="62.0" y="638.08" width="98.6" height="6.06" fill="#8A20A2"/>
<rect x="160.6" y="638.08" width="30.0" height="6.06" fill="#8A20A2"/>
<rect x="190.6" y="638.08" width="26.2" height="6.06" fill="#8A20A2"/>
<rect x="216.8" y="638.08" width="15.1" height="6.06" fill="#8A20A2"/>
<rect x="231.9" y="638.08" width="4.8" height="6.06" fill="#8A20A2"/>
<rect x="236.7" y="638.08" width="3.0" height="6.06" fill="#8A20A2"/>
<rect x="239.7" y="638.08" width="2.0" height="6.06" fill="#8A20A2"/>
<rect x="241.7" y="638.08" width="1.9" height="6.06" fill="#8A20A2"/>
<rect x="243.6" y="638.08" width="2.0" height="6.06" fill="#8A20A2"/>
<rect x="62.0" y="643.74" width="98.6" height="6.06" fill="#8A20A2"/>
<rect x="160.6" y="643.74" width="30.0" height="6.06" fill="#8A20A2"/>
<rect x="190.6" y="643.74" width="26.2" height="6.06" fill="#8A20A2"/>
<rect x="216.8" y="643.74" width="15.1" height="6.06" fill="#8A20A2"/>
<rect x="231.9" y="643.74" width="4.8" height="6.06" fill="#8A20A2"/>
<rect x="236.7" y="643.74" width="3.0" height="6.06" fill="#8A20A2"/>
<rect x="239.7" y="643.74" width="2.0" height="6.06" fill="#8A20A2"/>
<rect x="241.7" y="643.74" width="1.9" height="6.06" fill="#8A20A2"/>
<rect x="243.6" y="643.74" width="2.0" height="6.06" fill="#8A20A2"/>
<rect x="62.0" y="649.40" width="98.6" height="6.06" fill="#781A90"/>
<rect x="160.6" y="649.40" width="30.0" height="6.06" fill="#781A90"/>
<rect x="190.6" y="649.40" width="26.2" height="6.06" fill="#781A90"/>
<rect x="216.8" y="649.40" width="15.1" height="6.06" fill="#781A90"/>
<rect x="231.9" y="649.40" width="4.8" height="6.06" fill="#781A90"/>
<rect x="236.7" y="649.40" width="3.0" height="6.06" fill="#781A90"/>
<rect x="239.7" y="649.40" width="2.0" height="6.06" fill="#781A90"/>
<rect x="241.7" y="649.40" width="1.9" height="6.06" fill="#781A90"/>
<rect x="243.6" y="649.40" width="2.0" height="6.06" fill="#781A90"/>
<rect x="62.0" y="655.06" width="98.6" height="6.06" fill="#8A20A2"/>
<rect x="160.6" y="655.06" width="30.0" height="6.06" fill="#8A20A2"/>
<rect x="190.6" y="655.06" width="26.2" height="6.06" fill="#8A20A2"/>
<rect x="216.8" y="655.06" width="15.1" height="6.06" fill="#8A20A2"/>
<rect x="231.9" y="655.06" width="4.8" height="6.06" fill="#8A20A2"/>
<rect x="236.7" y="655.06" width="3.0" height="6.06" fill="#8A20A2"/>
<rect x="239.7" y="655.06" width="2.0" height="6.06" fill="#8A20A2"/>
<rect x="241.7" y="655.06" width="1.9" height="6.06" fill="#8A20A2"/>
<rect x="243.6" y="655.06" width="2.0" height="6.06" fill="#8A20A2"/>
<rect x="62.0" y="660.72" width="98.6" height="6.06" fill="#A82CC4"/>
<rect x="160.6" y="660.72" width="30.0" height="6.06" fill="#9824B2"/>
<rect x="190.6" y="660.72" width="26.2" height="6.06" fill="#A82CC4"/>
<rect x="216.8" y="660.72" width="15.1" height="6.06" fill="#9824B2"/>
<rect x="231.9" y="660.72" width="4.8" height="6.06" fill="#9824B2"/>
<rect x="236.7" y="660.72" width="3.0" height="6.06" fill="#A82CC4"/>
<rect x="239.7" y="660.72" width="2.0" height="6.06" fill="#A82CC4"/>
<rect x="241.7" y="660.72" width="1.9" height="6.06" fill="#A82CC4"/>
<rect x="243.6" y="660.72" width="2.0" height="6.06" fill="#A82CC4"/>
<rect x="62.0" y="666.38" width="98.6" height="6.06" fill="#9824B2"/>
<rect x="160.6" y="666.38" width="30.0" height="6.06" fill="#9824B2"/>
<rect x="190.6" y="666.38" width="26.2" height="6.06" fill="#9824B2"/>
<rect x="216.8" y="666.38" width="15.1" height="6.06" fill="#9824B2"/>
<rect x="231.9" y="666.38" width="4.8" height="6.06" fill="#9824B2"/>
<rect x="236.7" y="666.38" width="3.0" height="6.06" fill="#9824B2"/>
<rect x="239.7" y="666.38" width="2.0" height="6.06" fill="#9824B2"/>
<rect x="241.7" y="666.38" width="1.9" height="6.06" fill="#9824B2"/>
<rect x="243.6" y="666.38" width="2.0" height="6.06" fill="#9824B2"/>
<rect x="62.0" y="672.04" width="98.6" height="6.06" fill="#8A20A2"/>
<rect x="160.6" y="672.04" width="30.0" height="6.06" fill="#8A20A2"/>
<rect x="190.6" y="672.04" width="26.2" height="6.06" fill="#8A20A2"/>
<rect x="216.8" y="672.04" width="15.1" height="6.06" fill="#8A20A2"/>
<rect x="231.9" y="672.04" width="4.8" height="6.06" fill="#8A20A2"/>
<rect x="236.7" y="672.04" width="3.0" height="6.06" fill="#8A20A2"/>
<rect x="239.7" y="672.04" width="2.0" height="6.06" fill="#8A20A2"/>
<rect x="241.7" y="672.04" width="1.9" height="6.06" fill="#8A20A2"/>
<rect x="243.6" y="672.04" width="2.0" height="6.06" fill="#8A20A2"/>
<rect x="62.0" y="677.70" width="98.6" height="6.06" fill="#9824B2"/>
<rect x="160.6" y="677.70" width="30.0" height="6.06" fill="#9824B2"/>
<rect x="190.6" y="677.70" width="26.2" height="6.06" fill="#9824B2"/>
<rect x="216.8" y="677.70" width="15.1" height="6.06" fill="#9824B2"/>
<rect x="231.9" y="677.70" width="4.8" height="6.06" fill="#9824B2"/>
<rect x="236.7" y="677.70" width="3.0" height="6.06" fill="#9824B2"/>
<rect x="239.7" y="677.70" width="2.0" height="6.06" fill="#9824B2"/>
<rect x="241.7" y="677.70" width="1.9" height="6.06" fill="#9824B2"/>
<rect x="243.6" y="677.70" width="2.0" height="6.06" fill="#9824B2"/>
<path d="M64.6,479.60h0.6v5.66h-0.6zM72.9,479.60h1.0v5.66h-1.0zM86.4,479.60h1.5v5.66h-1.5zM95.1,479.60h1.0v5.66h-1.0zM124.1,479.60h0.8v5.66h-0.8zM136.5,479.60h1.2v5.66h-1.2zM137.7,479.60h1.2v5.66h-1.2zM155.5,479.60h0.8v5.66h-0.8zM210.1,479.60h1.0v5.66h-1.0zM97.6,536.20h0.6v5.66h-0.6zM101.3,536.20h1.0v5.66h-1.0zM110.1,536.20h0.8v5.66h-0.8zM112.3,536.20h1.0v5.66h-1.0zM113.3,536.20h1.5v5.66h-1.5zM117.2,536.20h1.0v5.66h-1.0zM140.0,536.20h1.0v5.66h-1.0zM72.2,660.72h1.0v5.66h-1.0zM77.7,660.72h1.2v5.66h-1.2zM108.4,660.72h0.8v5.66h-0.8zM113.4,660.72h0.6v5.66h-0.6zM144.4,660.72h0.8v5.66h-0.8zM149.8,660.72h0.8v5.66h-0.8z" fill="#9025A8"/>
<path d="M65.2,479.60h1.2v5.66h-1.2zM68.0,479.60h1.2v5.66h-1.2zM71.3,479.60h1.0v5.66h-1.0zM75.7,479.60h1.5v5.66h-1.5zM78.4,479.60h1.2v5.66h-1.2zM101.7,479.60h1.0v5.66h-1.0zM111.3,479.60h0.8v5.66h-0.8zM123.1,479.60h1.0v5.66h-1.0zM125.9,479.60h0.6v5.66h-0.6zM127.7,479.60h1.2v5.66h-1.2zM153.7,479.60h1.0v5.66h-1.0zM174.4,485.26h1.0v5.66h-1.0zM65.6,490.92h1.0v5.66h-1.0zM67.4,490.92h1.5v5.66h-1.5zM83.1,490.92h1.0v5.66h-1.0zM84.1,490.92h1.0v5.66h-1.0zM125.2,490.92h0.8v5.66h-0.8zM156.5,490.92h1.0v5.66h-1.0zM159.5,490.92h0.7v5.66h-0.7zM194.4,490.92h0.6v5.66h-0.6zM199.3,490.92h0.8v5.66h-0.8zM116.5,507.90h1.0v5.66h-1.0zM137.8,507.90h0.8v5.66h-0.8zM151.6,507.90h0.6v5.66h-0.6zM65.0,513.56h1.2v5.66h-1.2zM75.8,513.56h1.2v5.66h-1.2zM82.0,513.56h1.2v5.66h-1.2zM87.5,513.56h1.0v5.66h-1.0zM88.5,513.56h1.0v5.66h-1.0zM94.9,513.56h0.8v5.66h-0.8zM109.5,513.56h1.2v5.66h-1.2zM110.7,513.56h1.0v5.66h-1.0zM125.0,513.56h1.2v5.66h-1.2zM129.7,513.56h1.2v5.66h-1.2zM131.9,513.56h1.5v5.66h-1.5zM133.4,513.56h1.0v5.66h-1.0zM137.0,513.56h0.6v5.66h-0.6zM215.8,513.56h0.5v5.66h-0.5zM225.2,513.56h1.0v5.66h-1.0zM227.4,513.56h1.0v5.66h-1.0zM236.2,513.56h0.1v5.66h-0.1zM64.5,524.88h0.8v5.66h-0.8zM73.0,524.88h1.0v5.66h-1.0zM83.7,524.88h1.0v5.66h-1.0zM88.7,524.88h1.5v5.66h-1.5zM93.8,524.88h1.0v5.66h-1.0zM158.3,524.88h0.8v5.66h-0.8zM161.8,524.88h1.0v5.66h-1.0zM218.4,524.88h1.0v5.66h-1.0zM225.9,524.88h1.5v5.66h-1.5zM98.7,530.54h0.6v5.66h-0.6zM109.0,530.54h0.6v5.66h-0.6zM124.9,530.54h1.0v5.66h-1.0zM179.0,530.54h1.2v5.66h-1.2zM105.1,536.20h1.0v5.66h-1.0zM134.2,536.20h0.6v5.66h-0.6zM156.2,536.20h1.0v5.66h-1.0zM157.8,536.20h0.6v5.66h-0.6zM163.8,536.20h0.8v5.66h-0.8zM165.6,536.20h0.6v5.66h-0.6zM179.4,536.20h1.5v5.66h-1.5zM184.5,536.20h1.5v5.66h-1.5zM187.4,536.20h1.0v5.66h-1.0zM222.0,536.20h1.0v5.66h-1.0zM225.0,536.20h0.6v5.66h-0.6zM228.1,536.20h1.0v5.66h-1.0zM79.8,541.86h1.0v5.66h-1.0zM89.1,541.86h0.8v5.66h-0.8zM96.3,541.86h0.6v5.66h-0.6zM140.8,541.86h1.5v5.66h-1.5zM142.9,541.86h1.5v5.66h-1.5zM145.8,541.86h1.2v5.66h-1.2zM147.0,541.86h1.0v5.66h-1.0zM167.4,541.86h1.5v5.66h-1.5zM172.0,541.86h1.0v5.66h-1.0zM176.3,541.86h1.2v5.66h-1.2zM180.7,541.86h1.2v5.66h-1.2zM185.8,541.86h1.2v5.66h-1.2zM218.0,541.86h0.6v5.66h-0.6zM218.6,541.86h0.8v5.66h-0.8zM219.4,541.86h0.6v5.66h-0.6zM221.0,541.86h0.8v5.66h-0.8zM224.8,541.86h1.0v5.66h-1.0zM225.8,541.86h1.0v5.66h-1.0zM235.8,541.86h0.5v5.66h-0.5zM87.8,660.72h1.0v5.66h-1.0zM115.0,660.72h1.5v5.66h-1.5zM117.7,660.72h1.5v5.66h-1.5zM199.1,660.72h0.8v5.66h-0.8z" fill="#5A1466"/>
<path d="M66.4,479.60h1.0v5.66h-1.0zM73.9,479.60h1.2v5.66h-1.2zM82.6,479.60h1.0v5.66h-1.0zM87.9,479.60h0.6v5.66h-0.6zM106.1,479.60h1.2v5.66h-1.2zM112.9,479.60h0.6v5.66h-0.6zM113.5,479.60h1.0v5.66h-1.0zM115.5,479.60h1.2v5.66h-1.2zM135.7,479.60h0.8v5.66h-0.8zM140.4,479.60h1.2v5.66h-1.2zM209.3,479.60h0.8v5.66h-0.8zM170.9,507.90h1.2v5.66h-1.2zM185.6,507.90h1.0v5.66h-1.0zM81.3,536.20h1.2v5.66h-1.2zM85.2,536.20h0.8v5.66h-0.8zM127.5,536.20h0.6v5.66h-0.6zM145.0,536.20h0.6v5.66h-0.6zM87.2,660.72h0.6v5.66h-0.6zM114.0,660.72h1.0v5.66h-1.0zM122.6,660.72h0.8v5.66h-0.8zM139.7,660.72h1.0v5.66h-1.0z" fill="#9A28B4"/>
<path d="M67.4,479.60h0.6v5.66h-0.6zM72.3,479.60h0.6v5.66h-0.6zM114.2,485.26h0.6v5.66h-0.6zM131.5,485.26h0.8v5.66h-0.8zM73.6,496.58h0.6v5.66h-0.6zM114.1,496.58h1.2v5.66h-1.2zM115.3,496.58h0.8v5.66h-0.8zM117.5,496.58h1.5v5.66h-1.5zM119.8,496.58h1.5v5.66h-1.5zM128.6,496.58h1.0v5.66h-1.0zM123.2,502.24h0.6v5.66h-0.6zM131.3,502.24h1.5v5.66h-1.5zM138.7,502.24h1.2v5.66h-1.2zM148.2,502.24h1.5v5.66h-1.5zM65.0,507.90h1.0v5.66h-1.0zM67.0,507.90h1.0v5.66h-1.0zM70.5,507.90h0.6v5.66h-0.6zM89.4,507.90h0.6v5.66h-0.6zM98.6,507.90h0.8v5.66h-0.8zM123.9,507.90h0.6v5.66h-0.6zM126.6,507.90h0.8v5.66h-0.8zM129.4,507.90h1.5v5.66h-1.5zM153.2,507.90h1.5v5.66h-1.5zM163.2,507.90h1.5v5.66h-1.5zM168.9,507.90h1.0v5.66h-1.0zM186.6,507.90h1.0v5.66h-1.0zM235.7,507.90h0.6v5.66h-0.6zM168.8,513.56h0.8v5.66h-0.8zM203.6,513.56h1.2v5.66h-1.2zM62.6,519.22h1.0v5.66h-1.0zM73.9,519.22h1.2v5.66h-1.2zM87.2,519.22h1.0v5.66h-1.0zM122.9,519.22h0.8v5.66h-0.8zM125.2,519.22h1.0v5.66h-1.0zM132.5,519.22h0.6v5.66h-0.6zM140.2,519.22h1.2v5.66h-1.2zM167.1,519.22h0.8v5.66h-0.8zM174.2,519.22h1.0v5.66h-1.0zM183.1,519.22h1.2v5.66h-1.2zM188.4,519.22h1.5v5.66h-1.5zM189.9,519.22h0.3v5.66h-0.3zM190.6,519.22h1.2v5.66h-1.2zM221.5,519.22h1.0v5.66h-1.0zM227.6,519.22h1.2v5.66h-1.2zM82.5,553.18h1.0v5.66h-1.0zM162.1,553.18h0.6v5.66h-0.6zM225.4,553.18h0.8v5.66h-0.8zM84.0,558.84h1.2v5.66h-1.2zM151.7,564.50h0.6v5.66h-0.6zM200.7,564.50h1.0v5.66h-1.0zM94.6,570.16h1.0v5.66h-1.0zM113.4,570.16h0.6v5.66h-0.6zM157.6,570.16h1.2v5.66h-1.2zM160.6,570.16h0.6v5.66h-0.6zM225.2,570.16h1.0v5.66h-1.0zM73.8,581.48h1.5v5.66h-1.5zM102.3,581.48h0.6v5.66h-0.6zM97.5,587.14h1.5v5.66h-1.5zM158.2,587.14h0.6v5.66h-0.6zM168.1,587.14h1.0v5.66h-1.0zM79.3,592.80h1.0v5.66h-1.0zM98.7,592.80h1.2v5.66h-1.2zM138.2,592.80h1.5v5.66h-1.5zM143.9,592.80h0.6v5.66h-0.6zM100.1,598.46h1.5v5.66h-1.5zM72.6,604.12h1.2v5.66h-1.2zM104.3,604.12h1.0v5.66h-1.0zM105.3,604.12h1.0v5.66h-1.0zM118.7,604.12h1.0v5.66h-1.0zM125.3,604.12h1.0v5.66h-1.0zM137.9,604.12h1.0v5.66h-1.0zM158.6,604.12h1.2v5.66h-1.2zM165.6,604.12h1.0v5.66h-1.0zM235.5,604.12h0.8v5.66h-0.8zM63.5,609.78h1.2v5.66h-1.2zM182.2,609.78h1.5v5.66h-1.5zM204.7,609.78h1.2v5.66h-1.2zM81.2,621.10h1.0v5.66h-1.0zM116.2,621.10h1.0v5.66h-1.0zM154.7,621.10h1.5v5.66h-1.5zM89.1,638.08h1.5v5.66h-1.5zM108.0,643.74h1.0v5.66h-1.0zM127.2,643.74h1.0v5.66h-1.0zM142.6,643.74h1.0v5.66h-1.0zM161.6,643.74h1.2v5.66h-1.2zM177.6,643.74h1.0v5.66h-1.0zM187.5,643.74h0.6v5.66h-0.6zM69.6,649.40h1.0v5.66h-1.0zM84.8,649.40h0.8v5.66h-0.8zM150.9,649.40h1.2v5.66h-1.2zM176.1,649.40h1.2v5.66h-1.2zM231.2,649.40h0.3v5.66h-0.3zM79.5,655.06h0.6v5.66h-0.6zM105.2,655.06h0.6v5.66h-0.6zM105.8,655.06h1.0v5.66h-1.0zM121.7,655.06h0.6v5.66h-0.6zM145.0,655.06h1.2v5.66h-1.2zM153.8,655.06h1.0v5.66h-1.0zM165.5,655.06h1.0v5.66h-1.0zM182.1,655.06h1.5v5.66h-1.5zM187.9,655.06h1.5v5.66h-1.5zM69.3,672.04h0.6v5.66h-0.6zM75.1,672.04h1.0v5.66h-1.0zM99.0,672.04h0.6v5.66h-0.6zM139.4,677.70h1.2v5.66h-1.2zM144.8,677.70h1.0v5.66h-1.0zM151.0,677.70h0.6v5.66h-0.6z" fill="#C48E5A"/>
<path d="M84.4,479.60h0.8v5.66h-0.8zM88.5,479.60h1.0v5.66h-1.0zM102.7,479.60h1.0v5.66h-1.0zM105.5,479.60h0.6v5.66h-0.6zM126.5,479.60h1.2v5.66h-1.2zM131.1,479.60h1.0v5.66h-1.0zM147.8,479.60h0.8v5.66h-0.8zM208.3,485.26h1.0v5.66h-1.0zM220.3,485.26h0.6v5.66h-0.6zM228.4,485.26h1.2v5.66h-1.2zM231.1,485.26h0.4v5.66h-0.4zM75.7,490.92h0.6v5.66h-0.6zM107.2,490.92h0.8v5.66h-0.8zM122.8,490.92h0.6v5.66h-0.6zM124.2,490.92h1.0v5.66h-1.0zM134.8,490.92h0.8v5.66h-0.8zM135.6,490.92h0.8v5.66h-0.8zM142.7,490.92h1.0v5.66h-1.0zM94.8,507.90h1.0v5.66h-1.0zM117.5,507.90h1.0v5.66h-1.0zM63.5,513.56h1.5v5.66h-1.5zM73.6,513.56h1.2v5.66h-1.2zM96.9,513.56h1.0v5.66h-1.0zM99.9,513.56h0.6v5.66h-0.6zM104.3,513.56h0.6v5.66h-0.6zM104.9,513.56h1.0v5.66h-1.0zM115.5,513.56h0.8v5.66h-0.8zM118.1,513.56h0.8v5.66h-0.8zM118.9,513.56h1.2v5.66h-1.2zM136.2,513.56h0.8v5.66h-0.8zM148.1,513.56h0.8v5.66h-0.8zM163.4,513.56h1.5v5.66h-1.5zM181.7,513.56h1.5v5.66h-1.5zM184.8,513.56h0.6v5.66h-0.6zM233.5,513.56h1.5v5.66h-1.5zM106.3,524.88h1.5v5.66h-1.5zM150.3,524.88h1.0v5.66h-1.0zM168.6,524.88h0.8v5.66h-0.8zM225.1,524.88h0.8v5.66h-0.8zM67.4,530.54h1.5v5.66h-1.5zM70.7,530.54h0.6v5.66h-0.6zM86.8,530.54h0.8v5.66h-0.8zM119.2,530.54h0.8v5.66h-0.8zM122.1,530.54h1.0v5.66h-1.0zM148.9,530.54h1.5v5.66h-1.5zM166.6,530.54h1.2v5.66h-1.2zM223.0,530.54h1.0v5.66h-1.0zM230.0,530.54h1.0v5.66h-1.0zM63.5,536.20h1.5v5.66h-1.5zM67.3,536.20h1.5v5.66h-1.5zM77.0,536.20h1.0v5.66h-1.0zM78.0,536.20h1.5v5.66h-1.5zM86.0,536.20h1.2v5.66h-1.2zM114.8,536.20h1.2v5.66h-1.2zM120.2,536.20h1.0v5.66h-1.0zM121.2,536.20h1.2v5.66h-1.2zM221.4,536.20h0.6v5.66h-0.6zM224.0,536.20h1.0v5.66h-1.0zM72.2,541.86h1.2v5.66h-1.2zM75.6,541.86h1.2v5.66h-1.2zM106.5,541.86h0.6v5.66h-0.6zM112.1,541.86h0.6v5.66h-0.6zM117.5,541.86h1.0v5.66h-1.0zM122.5,541.86h1.5v5.66h-1.5zM148.6,541.86h0.8v5.66h-0.8zM152.9,541.86h0.8v5.66h-0.8zM162.4,541.86h0.6v5.66h-0.6zM163.8,541.86h1.2v5.66h-1.2zM165.0,541.86h0.6v5.66h-0.6zM165.6,541.86h0.8v5.66h-0.8zM170.4,541.86h1.0v5.66h-1.0zM184.3,541.86h1.5v5.66h-1.5zM222.4,541.86h0.8v5.66h-0.8zM233.7,541.86h1.5v5.66h-1.5zM95.9,660.72h1.5v5.66h-1.5zM124.0,660.72h1.0v5.66h-1.0zM192.9,660.72h1.2v5.66h-1.2z" fill="#4C1058"/>
<path d="M85.2,479.60h1.2v5.66h-1.2zM92.3,479.60h1.0v5.66h-1.0zM128.9,479.60h1.2v5.66h-1.2zM132.1,479.60h1.0v5.66h-1.0zM150.2,479.60h1.0v5.66h-1.0zM154.7,479.60h0.8v5.66h-0.8zM190.6,479.60h0.6v5.66h-0.6zM214.9,479.60h1.0v5.66h-1.0zM184.8,507.90h0.8v5.66h-0.8zM71.3,536.20h1.0v5.66h-1.0zM87.8,536.20h1.5v5.66h-1.5zM90.1,536.20h1.5v5.66h-1.5zM95.3,536.20h0.8v5.66h-0.8zM126.1,536.20h0.6v5.66h-0.6zM129.6,536.20h1.0v5.66h-1.0zM137.3,536.20h1.2v5.66h-1.2zM138.5,536.20h1.5v5.66h-1.5zM141.0,536.20h1.5v5.66h-1.5zM151.2,536.20h1.2v5.66h-1.2zM84.4,660.72h0.8v5.66h-0.8zM111.6,660.72h1.0v5.66h-1.0zM123.4,660.72h0.6v5.66h-0.6zM152.4,660.72h1.0v5.66h-1.0z" fill="#B52FD3"/>
<path d="M89.5,479.60h1.0v5.66h-1.0zM119.4,479.60h1.5v5.66h-1.5zM122.1,479.60h1.0v5.66h-1.0zM133.1,479.60h0.6v5.66h-0.6zM205.0,479.60h1.0v5.66h-1.0zM171.1,485.26h1.5v5.66h-1.5zM189.7,485.26h0.5v5.66h-0.5zM217.8,485.26h1.5v5.66h-1.5zM222.9,485.26h1.2v5.66h-1.2zM78.9,490.92h1.0v5.66h-1.0zM88.3,490.92h1.2v5.66h-1.2zM97.0,490.92h0.8v5.66h-0.8zM126.0,507.90h0.6v5.66h-0.6zM66.2,513.56h1.0v5.66h-1.0zM77.0,513.56h0.8v5.66h-0.8zM77.8,513.56h1.2v5.66h-1.2zM80.2,513.56h1.2v5.66h-1.2zM81.4,513.56h0.6v5.66h-0.6zM83.2,513.56h0.6v5.66h-0.6zM86.0,513.56h1.5v5.66h-1.5zM111.7,513.56h1.0v5.66h-1.0zM114.1,513.56h0.6v5.66h-0.6zM120.1,513.56h1.5v5.66h-1.5zM123.8,513.56h1.2v5.66h-1.2zM128.7,513.56h1.0v5.66h-1.0zM143.4,513.56h0.8v5.66h-0.8zM159.9,513.56h0.3v5.66h-0.3zM176.1,513.56h1.2v5.66h-1.2zM185.4,513.56h0.8v5.66h-0.8zM188.6,513.56h1.0v5.66h-1.0zM220.2,513.56h1.5v5.66h-1.5zM114.5,524.88h1.5v5.66h-1.5zM143.1,524.88h0.8v5.66h-0.8zM155.0,524.88h1.5v5.66h-1.5zM175.4,524.88h1.2v5.66h-1.2zM182.9,524.88h0.6v5.66h-0.6zM228.0,524.88h1.0v5.66h-1.0zM80.9,530.54h1.0v5.66h-1.0zM88.2,530.54h1.0v5.66h-1.0zM91.0,530.54h0.6v5.66h-0.6zM93.2,530.54h1.0v5.66h-1.0zM96.7,530.54h1.0v5.66h-1.0zM117.8,530.54h0.6v5.66h-0.6zM120.0,530.54h0.6v5.66h-0.6zM131.1,530.54h1.0v5.66h-1.0zM135.7,530.54h1.0v5.66h-1.0zM184.9,530.54h1.5v5.66h-1.5zM91.6,536.20h1.5v5.66h-1.5zM126.7,536.20h0.8v5.66h-0.8zM134.8,536.20h1.0v5.66h-1.0zM188.4,536.20h1.5v5.66h-1.5zM73.4,541.86h1.0v5.66h-1.0zM118.5,541.86h1.2v5.66h-1.2zM126.5,541.86h1.0v5.66h-1.0zM133.5,541.86h1.5v5.66h-1.5zM161.6,541.86h0.8v5.66h-0.8zM166.4,541.86h1.0v5.66h-1.0zM168.9,541.86h1.5v5.66h-1.5zM228.2,541.86h1.5v5.66h-1.5zM229.7,541.86h1.0v5.66h-1.0zM77.1,660.72h0.6v5.66h-0.6zM81.1,660.72h1.5v5.66h-1.5zM83.4,660.72h1.0v5.66h-1.0zM215.8,660.72h0.5v5.66h-0.5z" fill="#681C78"/>
<path d="M93.3,479.60h1.2v5.66h-1.2zM100.2,479.60h1.5v5.66h-1.5zM104.5,479.60h1.0v5.66h-1.0zM120.9,479.60h1.2v5.66h-1.2zM196.6,479.60h1.5v5.66h-1.5zM212.9,479.60h0.8v5.66h-0.8zM178.4,507.90h1.2v5.66h-1.2zM98.8,536.20h1.0v5.66h-1.0zM154.2,536.20h1.2v5.66h-1.2zM157.2,536.20h0.6v5.66h-0.6zM95.3,660.72h0.6v5.66h-0.6zM99.6,660.72h1.0v5.66h-1.0zM110.4,660.72h1.2v5.66h-1.2zM142.2,660.72h1.2v5.66h-1.2z" fill="#BF32DF"/>
<path d="M114.5,479.60h1.0v5.66h-1.0zM142.6,479.60h1.2v5.66h-1.2zM64.1,485.26h0.6v5.66h-0.6zM76.7,485.26h0.8v5.66h-0.8zM117.9,485.26h1.5v5.66h-1.5zM128.3,485.26h1.0v5.66h-1.0zM159.4,485.26h0.8v5.66h-0.8zM63.8,496.58h1.0v5.66h-1.0zM75.8,496.58h0.6v5.66h-0.6zM92.2,496.58h1.5v5.66h-1.5zM98.6,496.58h0.8v5.66h-0.8zM121.3,496.58h1.5v5.66h-1.5zM125.9,496.58h0.6v5.66h-0.6zM155.8,496.58h1.5v5.66h-1.5zM104.7,502.24h0.8v5.66h-0.8zM127.5,502.24h0.8v5.66h-0.8zM135.6,502.24h1.0v5.66h-1.0zM83.2,507.90h0.8v5.66h-0.8zM87.0,507.90h0.6v5.66h-0.6zM92.4,507.90h0.8v5.66h-0.8zM93.2,507.90h1.0v5.66h-1.0zM101.4,507.90h1.5v5.66h-1.5zM104.7,507.90h0.8v5.66h-0.8zM111.5,507.90h1.0v5.66h-1.0zM113.5,507.90h1.0v5.66h-1.0zM114.5,507.90h1.0v5.66h-1.0zM115.5,507.90h1.0v5.66h-1.0zM128.8,507.90h0.6v5.66h-0.6zM138.6,507.90h0.8v5.66h-0.8zM147.1,507.90h1.2v5.66h-1.2zM157.3,507.90h1.2v5.66h-1.2zM158.5,507.90h1.2v5.66h-1.2zM172.1,507.90h1.5v5.66h-1.5zM198.7,507.90h1.2v5.66h-1.2zM230.4,507.90h1.0v5.66h-1.0zM179.7,513.56h1.2v5.66h-1.2zM205.8,513.56h1.0v5.66h-1.0zM94.3,519.22h1.0v5.66h-1.0zM95.3,519.22h1.5v5.66h-1.5zM108.2,519.22h1.0v5.66h-1.0zM110.4,519.22h1.0v5.66h-1.0zM120.3,519.22h1.0v5.66h-1.0zM122.3,519.22h0.6v5.66h-0.6zM134.1,519.22h0.6v5.66h-0.6zM145.9,519.22h1.0v5.66h-1.0zM152.5,519.22h1.5v5.66h-1.5zM176.4,519.22h1.2v5.66h-1.2zM199.7,519.22h0.6v5.66h-0.6zM205.3,519.22h1.0v5.66h-1.0zM225.2,519.22h1.0v5.66h-1.0zM96.2,547.52h1.2v5.66h-1.2zM119.0,547.52h0.8v5.66h-0.8zM152.3,564.50h1.0v5.66h-1.0zM70.1,570.16h0.6v5.66h-0.6zM115.0,570.16h1.2v5.66h-1.2zM121.6,570.16h1.2v5.66h-1.2zM173.3,570.16h1.2v5.66h-1.2zM63.5,581.48h1.2v5.66h-1.2zM119.8,581.48h1.2v5.66h-1.2zM131.9,581.48h1.0v5.66h-1.0zM190.6,581.48h1.0v5.66h-1.0zM90.6,587.14h0.6v5.66h-0.6zM108.0,587.14h1.5v5.66h-1.5zM87.3,592.80h1.2v5.66h-1.2zM166.6,592.80h1.2v5.66h-1.2zM134.8,598.46h1.2v5.66h-1.2zM84.8,604.12h1.5v5.66h-1.5zM188.9,604.12h0.8v5.66h-0.8zM234.3,604.12h1.2v5.66h-1.2zM104.7,609.78h0.8v5.66h-0.8zM111.7,615.44h0.6v5.66h-0.6zM126.2,632.42h1.2v5.66h-1.2zM127.7,638.08h1.0v5.66h-1.0zM159.3,638.08h0.9v5.66h-0.9zM229.2,638.08h1.5v5.66h-1.5zM83.8,643.74h1.2v5.66h-1.2zM166.8,643.74h1.5v5.66h-1.5zM180.0,643.74h1.0v5.66h-1.0zM190.1,643.74h0.1v5.66h-0.1zM71.8,649.40h0.8v5.66h-0.8zM115.3,649.40h0.8v5.66h-0.8zM171.8,649.40h0.6v5.66h-0.6zM173.6,649.40h1.5v5.66h-1.5zM188.4,649.40h0.8v5.66h-0.8zM227.5,649.40h0.6v5.66h-0.6zM228.1,649.40h1.5v5.66h-1.5zM80.7,655.06h1.5v5.66h-1.5zM84.9,655.06h1.2v5.66h-1.2zM102.6,655.06h1.0v5.66h-1.0zM111.5,655.06h0.8v5.66h-0.8zM148.8,655.06h1.2v5.66h-1.2zM156.2,655.06h0.8v5.66h-0.8zM178.5,655.06h0.8v5.66h-0.8zM206.0,655.06h1.5v5.66h-1.5zM217.8,655.06h1.5v5.66h-1.5zM80.9,666.38h1.0v5.66h-1.0zM110.0,666.38h0.8v5.66h-0.8zM73.1,672.04h1.2v5.66h-1.2zM114.7,672.04h1.5v5.66h-1.5zM70.9,677.70h1.0v5.66h-1.0zM74.1,677.70h1.0v5.66h-1.0zM81.5,677.70h1.5v5.66h-1.5z" fill="#A87C5C"/>
<path d="M162.6,479.60h1.0v5.66h-1.0zM163.6,479.60h1.0v5.66h-1.0zM169.6,479.60h0.6v5.66h-0.6zM170.2,479.60h1.5v5.66h-1.5zM227.5,479.60h1.2v5.66h-1.2zM181.2,485.26h1.5v5.66h-1.5zM168.4,490.92h1.5v5.66h-1.5zM176.8,490.92h0.8v5.66h-0.8zM180.9,490.92h1.0v5.66h-1.0zM169.9,496.58h1.0v5.66h-1.0zM227.4,496.58h0.6v5.66h-0.6zM232.5,496.58h1.5v5.66h-1.5zM243.6,496.58h1.0v5.66h-1.0zM163.2,502.24h0.6v5.66h-0.6zM169.4,502.24h1.5v5.66h-1.5zM171.7,502.24h0.6v5.66h-0.6zM240.7,536.20h0.6v5.66h-0.6zM243.6,536.20h1.5v5.66h-1.5zM241.7,541.86h0.8v5.66h-0.8zM191.8,553.18h1.0v5.66h-1.0zM215.3,553.18h0.8v5.66h-0.8zM192.8,558.84h0.8v5.66h-0.8zM194.8,558.84h1.0v5.66h-1.0zM195.3,564.50h1.0v5.66h-1.0zM200.1,564.50h0.6v5.66h-0.6zM206.7,564.50h0.6v5.66h-0.6zM207.9,564.50h1.0v5.66h-1.0zM216.2,564.50h0.1v5.66h-0.1zM200.0,570.16h0.8v5.66h-0.8zM239.7,581.48h1.5v5.66h-1.5zM241.2,609.78h0.1v5.66h-0.1zM241.1,626.76h0.2v5.66h-0.2zM232.5,649.40h1.5v5.66h-1.5zM235.8,649.40h0.5v5.66h-0.5zM171.8,660.72h1.2v5.66h-1.2zM176.0,660.72h0.8v5.66h-0.8zM187.8,660.72h0.8v5.66h-0.8zM165.5,666.38h1.5v5.66h-1.5zM171.4,666.38h1.5v5.66h-1.5zM174.4,666.38h1.2v5.66h-1.2zM180.2,666.38h1.0v5.66h-1.0zM177.2,672.04h1.0v5.66h-1.0zM179.7,672.04h0.8v5.66h-0.8zM224.0,672.04h1.0v5.66h-1.0zM230.7,672.04h0.8v5.66h-0.8zM164.8,677.70h0.8v5.66h-0.8zM169.8,677.70h1.0v5.66h-1.0zM174.4,677.70h1.0v5.66h-1.0zM175.4,677.70h1.5v5.66h-1.5zM228.4,677.70h1.0v5.66h-1.0z" fill="#8A8A2E"/>
<path d="M164.6,479.60h0.6v5.66h-0.6zM168.8,479.60h0.8v5.66h-0.8zM173.3,479.60h0.8v5.66h-0.8zM181.4,479.60h1.2v5.66h-1.2zM223.2,479.60h0.8v5.66h-0.8zM165.8,485.26h1.5v5.66h-1.5zM183.5,485.26h1.5v5.66h-1.5zM185.0,485.26h1.5v5.66h-1.5zM222.1,485.26h0.8v5.66h-0.8zM227.6,485.26h0.8v5.66h-0.8zM169.9,490.92h1.2v5.66h-1.2zM168.9,496.58h1.0v5.66h-1.0zM172.7,496.58h1.2v5.66h-1.2zM174.7,496.58h1.2v5.66h-1.2zM175.9,496.58h0.8v5.66h-0.8zM180.0,496.58h0.6v5.66h-0.6zM187.9,496.58h1.0v5.66h-1.0zM189.9,496.58h0.3v5.66h-0.3zM230.2,496.58h1.0v5.66h-1.0zM181.9,502.24h1.0v5.66h-1.0zM188.7,502.24h0.6v5.66h-0.6zM223.8,502.24h1.0v5.66h-1.0zM243.1,524.88h0.2v5.66h-0.2zM241.7,536.20h0.6v5.66h-0.6zM213.3,553.18h0.8v5.66h-0.8zM202.4,558.84h1.0v5.66h-1.0zM192.8,564.50h1.5v5.66h-1.5zM214.2,564.50h1.0v5.66h-1.0zM241.2,581.48h0.1v5.66h-0.1zM240.9,615.44h0.4v5.66h-0.4zM242.3,638.08h0.8v5.66h-0.8zM160.6,660.72h0.6v5.66h-0.6zM166.7,660.72h1.2v5.66h-1.2zM168.5,660.72h0.8v5.66h-0.8zM169.3,660.72h1.5v5.66h-1.5zM173.0,660.72h0.8v5.66h-0.8zM178.9,660.72h1.2v5.66h-1.2zM184.7,660.72h0.6v5.66h-0.6zM232.7,660.72h1.5v5.66h-1.5zM160.6,666.38h0.6v5.66h-0.6zM170.4,666.38h1.0v5.66h-1.0zM177.2,666.38h0.6v5.66h-0.6zM178.4,666.38h1.2v5.66h-1.2zM179.6,666.38h0.6v5.66h-0.6zM181.2,666.38h0.6v5.66h-0.6zM183.8,666.38h1.0v5.66h-1.0zM221.6,666.38h0.8v5.66h-0.8zM175.4,672.04h0.8v5.66h-0.8zM182.5,672.04h1.0v5.66h-1.0zM170.8,677.70h0.6v5.66h-0.6zM173.2,677.70h1.2v5.66h-1.2zM222.9,677.70h1.2v5.66h-1.2z" fill="#E2EA38"/>
<path d="M165.2,479.60h0.8v5.66h-0.8zM167.0,479.60h0.8v5.66h-0.8zM175.1,479.60h1.2v5.66h-1.2zM178.9,479.60h1.5v5.66h-1.5zM186.8,479.60h1.2v5.66h-1.2zM188.0,479.60h0.6v5.66h-0.6zM226.5,479.60h1.0v5.66h-1.0zM176.9,485.26h1.0v5.66h-1.0zM182.7,485.26h0.8v5.66h-0.8zM161.8,490.92h1.0v5.66h-1.0zM167.4,490.92h1.0v5.66h-1.0zM172.6,490.92h0.8v5.66h-0.8zM177.6,490.92h0.8v5.66h-0.8zM179.9,490.92h1.0v5.66h-1.0zM184.1,490.92h1.5v5.66h-1.5zM234.9,490.92h0.8v5.66h-0.8zM162.9,496.58h1.5v5.66h-1.5zM168.4,502.24h1.0v5.66h-1.0zM178.4,502.24h1.2v5.66h-1.2zM218.8,502.24h1.2v5.66h-1.2zM70.2,519.22h1.2v5.66h-1.2zM92.8,519.22h1.5v5.66h-1.5zM143.4,519.22h1.5v5.66h-1.5zM147.9,519.22h0.8v5.66h-0.8zM243.6,541.86h1.2v5.66h-1.2zM195.2,553.18h1.2v5.66h-1.2zM200.0,553.18h1.0v5.66h-1.0zM195.8,558.84h0.8v5.66h-0.8zM204.8,558.84h1.0v5.66h-1.0zM210.9,558.84h1.0v5.66h-1.0zM204.2,564.50h1.0v5.66h-1.0zM209.9,564.50h1.2v5.66h-1.2zM207.1,570.16h0.6v5.66h-0.6zM243.6,581.48h1.0v5.66h-1.0zM239.7,587.14h0.6v5.66h-0.6zM240.3,587.14h1.0v5.66h-1.0zM239.7,604.12h1.2v5.66h-1.2zM239.7,626.76h0.8v5.66h-0.8zM169.1,643.74h1.0v5.66h-1.0zM235.0,649.40h0.8v5.66h-0.8zM231.9,655.06h0.6v5.66h-0.6zM164.5,660.72h1.0v5.66h-1.0zM184.1,660.72h0.6v5.66h-0.6zM164.9,666.38h0.6v5.66h-0.6zM168.6,666.38h1.2v5.66h-1.2zM186.3,666.38h1.0v5.66h-1.0zM225.2,666.38h0.8v5.66h-0.8zM228.4,666.38h0.8v5.66h-0.8zM165.2,672.04h0.6v5.66h-0.6zM216.8,672.04h1.2v5.66h-1.2zM218.0,672.04h1.0v5.66h-1.0zM167.6,677.70h1.0v5.66h-1.0zM226.1,677.70h1.5v5.66h-1.5z" fill="#B4AE3E"/>
<path d="M167.8,479.60h1.0v5.66h-1.0zM218.4,479.60h1.0v5.66h-1.0zM222.0,479.60h0.6v5.66h-0.6zM231.9,479.60h1.5v5.66h-1.5zM178.7,485.26h1.0v5.66h-1.0zM163.8,490.92h0.8v5.66h-0.8zM181.9,490.92h1.0v5.66h-1.0zM170.9,496.58h0.8v5.66h-0.8zM181.4,496.58h1.5v5.66h-1.5zM225.9,496.58h1.5v5.66h-1.5zM165.3,502.24h0.6v5.66h-0.6zM175.1,502.24h1.2v5.66h-1.2zM66.0,507.90h1.0v5.66h-1.0zM82.2,507.90h1.0v5.66h-1.0zM84.0,507.90h1.0v5.66h-1.0zM107.0,507.90h1.2v5.66h-1.2zM133.3,507.90h0.6v5.66h-0.6zM161.2,507.90h1.0v5.66h-1.0zM180.6,507.90h0.6v5.66h-0.6zM79.0,513.56h1.2v5.66h-1.2zM102.8,513.56h1.5v5.66h-1.5zM105.9,513.56h1.0v5.66h-1.0zM65.9,519.22h0.8v5.66h-0.8zM67.7,519.22h1.5v5.66h-1.5zM104.5,519.22h1.5v5.66h-1.5zM107.6,519.22h0.6v5.66h-0.6zM111.4,519.22h0.8v5.66h-0.8zM146.9,519.22h1.0v5.66h-1.0zM149.3,519.22h1.0v5.66h-1.0zM241.7,530.54h1.5v5.66h-1.5zM201.0,541.86h0.6v5.66h-0.6zM216.0,541.86h0.3v5.66h-0.3zM242.5,541.86h0.8v5.66h-0.8zM194.2,553.18h1.0v5.66h-1.0zM197.4,553.18h1.2v5.66h-1.2zM199.2,553.18h0.8v5.66h-0.8zM202.8,553.18h1.0v5.66h-1.0zM208.0,553.18h1.5v5.66h-1.5zM209.5,553.18h0.8v5.66h-0.8zM197.8,558.84h0.6v5.66h-0.6zM198.6,564.50h1.5v5.66h-1.5zM195.2,570.16h1.2v5.66h-1.2zM196.4,570.16h1.5v5.66h-1.5zM215.5,570.16h0.8v5.66h-0.8zM237.3,570.16h0.6v5.66h-0.6zM244.2,615.44h1.0v5.66h-1.0zM239.7,632.42h1.2v5.66h-1.2zM172.3,643.74h1.5v5.66h-1.5zM179.2,643.74h0.8v5.66h-0.8zM167.9,660.72h0.6v5.66h-0.6zM170.8,660.72h1.0v5.66h-1.0zM189.6,660.72h0.6v5.66h-0.6zM167.0,666.38h1.0v5.66h-1.0zM189.9,666.38h0.3v5.66h-0.3zM216.8,666.38h0.8v5.66h-0.8zM167.0,672.04h1.0v5.66h-1.0zM188.7,672.04h1.2v5.66h-1.2zM190.0,677.70h0.2v5.66h-0.2zM216.8,677.70h1.5v5.66h-1.5zM225.1,677.70h1.0v5.66h-1.0zM227.6,677.70h0.8v5.66h-0.8z" fill="#9A982E"/>
<path d="M171.7,479.60h0.8v5.66h-0.8zM174.1,479.60h1.0v5.66h-1.0zM182.6,479.60h1.2v5.66h-1.2zM184.8,479.60h1.2v5.66h-1.2zM188.6,479.60h1.2v5.66h-1.2zM234.0,479.60h0.8v5.66h-0.8zM161.6,485.26h1.0v5.66h-1.0zM164.8,485.26h1.0v5.66h-1.0zM160.6,490.92h1.2v5.66h-1.2zM165.4,490.92h0.6v5.66h-0.6zM166.0,490.92h0.8v5.66h-0.8zM178.4,490.92h1.5v5.66h-1.5zM187.8,490.92h1.0v5.66h-1.0zM160.6,496.58h0.8v5.66h-0.8zM164.4,496.58h1.0v5.66h-1.0zM220.7,496.58h0.8v5.66h-0.8zM170.9,502.24h0.8v5.66h-0.8zM173.1,502.24h1.0v5.66h-1.0zM187.9,502.24h0.8v5.66h-0.8zM189.3,502.24h0.9v5.66h-0.9zM220.0,502.24h0.8v5.66h-0.8zM225.8,502.24h0.6v5.66h-0.6zM226.4,502.24h1.5v5.66h-1.5zM242.3,524.88h0.8v5.66h-0.8zM206.5,553.18h1.5v5.66h-1.5zM207.8,558.84h1.0v5.66h-1.0zM242.7,570.16h0.6v5.66h-0.6zM240.7,598.46h0.6v5.66h-0.6zM232.5,655.06h1.5v5.66h-1.5zM166.1,660.72h0.6v5.66h-0.6zM182.9,660.72h1.2v5.66h-1.2zM161.2,666.38h1.5v5.66h-1.5zM162.7,666.38h0.6v5.66h-0.6zM217.6,666.38h1.5v5.66h-1.5zM223.6,666.38h1.0v5.66h-1.0zM162.8,672.04h1.2v5.66h-1.2zM165.8,672.04h1.2v5.66h-1.2zM171.2,672.04h1.2v5.66h-1.2zM220.0,672.04h0.8v5.66h-0.8zM225.0,672.04h1.0v5.66h-1.0zM160.6,677.70h1.2v5.66h-1.2zM165.6,677.70h1.0v5.66h-1.0zM166.6,677.70h1.0v5.66h-1.0zM178.1,677.70h1.0v5.66h-1.0zM180.7,677.70h0.6v5.66h-0.6zM184.0,677.70h0.8v5.66h-0.8z" fill="#6A5A34"/>
<path d="M186.0,479.60h0.8v5.66h-0.8zM216.8,479.60h0.6v5.66h-0.6zM217.4,479.60h1.0v5.66h-1.0zM162.6,485.26h1.2v5.66h-1.2zM177.9,485.26h0.8v5.66h-0.8zM182.9,490.92h1.2v5.66h-1.2zM166.4,496.58h1.5v5.66h-1.5zM183.7,496.58h1.0v5.66h-1.0zM184.7,496.58h1.0v5.66h-1.0zM217.4,496.58h1.0v5.66h-1.0zM223.3,496.58h1.0v5.66h-1.0zM224.3,496.58h0.6v5.66h-0.6zM182.9,502.24h1.0v5.66h-1.0zM186.9,502.24h1.0v5.66h-1.0zM220.8,502.24h1.0v5.66h-1.0zM192.8,553.18h0.6v5.66h-0.6zM205.0,553.18h1.5v5.66h-1.5zM199.6,558.84h1.2v5.66h-1.2zM200.8,558.84h0.6v5.66h-0.6zM203.4,558.84h0.6v5.66h-0.6zM212.7,558.84h1.0v5.66h-1.0zM192.2,564.50h0.6v5.66h-0.6zM239.7,592.80h1.0v5.66h-1.0zM231.9,649.40h0.6v5.66h-0.6zM181.9,660.72h1.0v5.66h-1.0zM185.3,660.72h1.0v5.66h-1.0zM234.2,660.72h1.0v5.66h-1.0zM235.2,660.72h1.1v5.66h-1.1zM168.0,666.38h0.6v5.66h-0.6zM219.1,666.38h1.0v5.66h-1.0zM226.0,666.38h1.2v5.66h-1.2zM231.0,666.38h0.5v5.66h-0.5zM164.0,672.04h1.2v5.66h-1.2zM170.0,672.04h1.2v5.66h-1.2zM229.7,672.04h1.0v5.66h-1.0zM163.3,677.70h1.5v5.66h-1.5zM179.1,677.70h0.8v5.66h-0.8zM179.9,677.70h0.8v5.66h-0.8zM184.8,677.70h1.2v5.66h-1.2zM186.0,677.70h1.0v5.66h-1.0zM188.5,677.70h1.5v5.66h-1.5zM219.9,677.70h1.5v5.66h-1.5z" fill="#C0985A"/>
<path d="M228.7,479.60h1.0v5.66h-1.0zM229.7,479.60h1.5v5.66h-1.5zM160.6,485.26h1.0v5.66h-1.0zM172.6,485.26h1.2v5.66h-1.2zM164.6,490.92h0.8v5.66h-0.8zM174.2,490.92h0.8v5.66h-0.8zM176.0,490.92h0.8v5.66h-0.8zM185.6,490.92h1.0v5.66h-1.0zM233.4,490.92h1.5v5.66h-1.5zM182.9,496.58h0.8v5.66h-0.8zM222.1,496.58h1.2v5.66h-1.2zM216.8,502.24h1.2v5.66h-1.2zM223.0,502.24h0.8v5.66h-0.8zM224.8,502.24h1.0v5.66h-1.0zM228.5,502.24h1.5v5.66h-1.5zM242.3,536.20h1.0v5.66h-1.0zM239.7,541.86h1.2v5.66h-1.2zM244.8,541.86h0.8v5.66h-0.8zM198.6,553.18h0.6v5.66h-0.6zM201.0,553.18h0.8v5.66h-0.8zM201.8,553.18h1.0v5.66h-1.0zM212.1,553.18h1.2v5.66h-1.2zM214.1,553.18h1.2v5.66h-1.2zM190.6,558.84h1.0v5.66h-1.0zM205.8,558.84h0.8v5.66h-0.8zM208.8,558.84h1.5v5.66h-1.5zM215.1,558.84h1.2v5.66h-1.2zM201.7,564.50h1.0v5.66h-1.0zM202.7,564.50h1.5v5.66h-1.5zM211.1,564.50h1.5v5.66h-1.5zM211.9,570.16h1.0v5.66h-1.0zM240.9,604.12h0.4v5.66h-0.4zM243.6,609.78h0.8v5.66h-0.8zM239.7,615.44h1.2v5.66h-1.2zM243.6,615.44h0.6v5.66h-0.6zM240.5,626.76h0.6v5.66h-0.6zM165.5,660.72h0.6v5.66h-0.6zM186.3,660.72h1.5v5.66h-1.5zM163.3,666.38h0.8v5.66h-0.8zM169.8,666.38h0.6v5.66h-0.6zM181.8,666.38h0.8v5.66h-0.8zM188.5,666.38h0.8v5.66h-0.8zM227.2,666.38h0.6v5.66h-0.6zM162.2,672.04h0.6v5.66h-0.6zM168.0,672.04h1.0v5.66h-1.0zM172.4,672.04h1.0v5.66h-1.0zM174.2,672.04h1.2v5.66h-1.2zM178.2,672.04h1.5v5.66h-1.5zM228.7,672.04h1.0v5.66h-1.0zM171.4,677.70h1.0v5.66h-1.0zM176.9,677.70h1.2v5.66h-1.2zM221.4,677.70h1.5v5.66h-1.5zM230.2,677.70h0.6v5.66h-0.6z" fill="#D4DC30"/>
<path d="M62.0,485.26h1.5v5.66h-1.5zM86.0,485.26h0.6v5.66h-0.6zM119.4,485.26h1.5v5.66h-1.5zM132.3,485.26h1.0v5.66h-1.0zM156.8,485.26h1.0v5.66h-1.0zM157.8,485.26h0.6v5.66h-0.6zM192.4,485.26h1.0v5.66h-1.0zM197.1,485.26h1.2v5.66h-1.2zM68.0,502.24h1.0v5.66h-1.0zM97.0,502.24h1.5v5.66h-1.5zM106.5,502.24h1.0v5.66h-1.0zM109.7,502.24h0.8v5.66h-0.8zM208.9,502.24h0.6v5.66h-0.6zM103.5,507.90h1.2v5.66h-1.2zM150.1,507.90h1.5v5.66h-1.5zM159.7,507.90h0.5v5.66h-0.5zM77.8,519.22h1.2v5.66h-1.2zM113.4,519.22h0.8v5.66h-0.8zM129.5,519.22h0.8v5.66h-0.8zM171.2,524.88h1.0v5.66h-1.0zM173.0,530.54h0.8v5.66h-0.8zM176.8,530.54h1.0v5.66h-1.0zM183.4,530.54h1.5v5.66h-1.5zM101.9,547.52h1.5v5.66h-1.5zM118.0,547.52h1.0v5.66h-1.0zM120.8,547.52h1.5v5.66h-1.5zM122.3,547.52h1.0v5.66h-1.0zM128.4,547.52h1.0v5.66h-1.0zM140.0,547.52h1.0v5.66h-1.0zM142.0,547.52h1.0v5.66h-1.0zM73.4,553.18h1.0v5.66h-1.0zM85.1,553.18h0.8v5.66h-0.8zM95.6,553.18h1.2v5.66h-1.2zM100.3,553.18h0.6v5.66h-0.6zM68.2,558.84h0.6v5.66h-0.6zM115.4,558.84h0.6v5.66h-0.6zM116.0,558.84h0.8v5.66h-0.8zM116.8,558.84h1.0v5.66h-1.0zM127.5,558.84h0.6v5.66h-0.6zM67.0,570.16h0.6v5.66h-0.6zM71.7,570.16h1.0v5.66h-1.0zM89.0,570.16h1.0v5.66h-1.0zM103.9,570.16h1.2v5.66h-1.2zM128.1,570.16h0.8v5.66h-0.8zM135.8,570.16h1.5v5.66h-1.5zM160.0,570.16h0.2v5.66h-0.2zM69.8,604.12h1.2v5.66h-1.2zM89.7,604.12h1.0v5.66h-1.0zM94.1,604.12h0.6v5.66h-0.6zM106.3,604.12h1.2v5.66h-1.2zM120.9,604.12h1.0v5.66h-1.0zM123.1,604.12h1.2v5.66h-1.2zM131.8,604.12h1.0v5.66h-1.0zM75.3,638.08h1.5v5.66h-1.5zM135.0,638.08h1.5v5.66h-1.5zM88.4,643.74h1.5v5.66h-1.5zM116.1,643.74h1.0v5.66h-1.0zM118.1,643.74h1.0v5.66h-1.0zM122.9,643.74h0.6v5.66h-0.6zM138.2,643.74h1.0v5.66h-1.0zM150.8,643.74h1.0v5.66h-1.0zM156.5,643.74h0.6v5.66h-0.6zM64.0,655.06h0.6v5.66h-0.6zM65.8,655.06h1.5v5.66h-1.5zM69.5,655.06h0.8v5.66h-0.8zM104.4,655.06h0.8v5.66h-0.8zM150.0,655.06h0.8v5.66h-0.8zM81.1,672.04h1.0v5.66h-1.0zM83.1,672.04h1.0v5.66h-1.0zM215.5,672.04h0.8v5.66h-0.8z" fill="#9522AE"/>
<path d="M79.0,485.26h1.0v5.66h-1.0zM86.6,485.26h1.2v5.66h-1.2zM92.0,485.26h0.6v5.66h-0.6zM124.5,485.26h1.0v5.66h-1.0zM135.1,485.26h1.0v5.66h-1.0zM140.6,485.26h1.2v5.66h-1.2zM193.4,485.26h1.2v5.66h-1.2zM210.5,485.26h1.0v5.66h-1.0zM211.5,485.26h0.8v5.66h-0.8zM213.8,485.26h1.0v5.66h-1.0zM77.5,502.24h1.2v5.66h-1.2zM110.5,502.24h1.0v5.66h-1.0zM119.1,502.24h1.5v5.66h-1.5zM126.3,502.24h1.2v5.66h-1.2zM150.9,502.24h0.6v5.66h-0.6zM154.1,502.24h1.5v5.66h-1.5zM215.5,502.24h0.6v5.66h-0.6zM141.0,507.90h1.0v5.66h-1.0zM155.7,507.90h1.0v5.66h-1.0zM89.0,519.22h0.8v5.66h-0.8zM100.3,519.22h1.2v5.66h-1.2zM106.0,519.22h0.8v5.66h-0.8zM133.1,519.22h1.0v5.66h-1.0zM154.6,519.22h1.0v5.66h-1.0zM161.6,530.54h0.6v5.66h-0.6zM171.4,530.54h0.6v5.66h-0.6zM76.6,547.52h1.0v5.66h-1.0zM84.5,547.52h0.6v5.66h-0.6zM103.4,547.52h1.5v5.66h-1.5zM154.4,547.52h1.0v5.66h-1.0zM156.6,547.52h0.6v5.66h-0.6zM157.2,547.52h1.2v5.66h-1.2zM178.5,547.52h1.0v5.66h-1.0zM189.6,547.52h0.6v5.66h-0.6zM65.7,553.18h1.5v5.66h-1.5zM109.9,553.18h1.5v5.66h-1.5zM140.3,553.18h0.6v5.66h-0.6zM63.2,558.84h0.6v5.66h-0.6zM71.6,558.84h0.6v5.66h-0.6zM75.2,558.84h0.8v5.66h-0.8zM102.9,558.84h1.0v5.66h-1.0zM111.4,558.84h1.0v5.66h-1.0zM112.4,558.84h1.5v5.66h-1.5zM62.0,570.16h0.6v5.66h-0.6zM80.2,570.16h1.5v5.66h-1.5zM101.6,570.16h1.5v5.66h-1.5zM109.3,570.16h1.0v5.66h-1.0zM114.0,570.16h1.0v5.66h-1.0zM118.4,570.16h1.0v5.66h-1.0zM149.1,570.16h0.6v5.66h-0.6zM73.8,604.12h1.0v5.66h-1.0zM81.6,604.12h0.8v5.66h-0.8zM96.5,604.12h0.8v5.66h-0.8zM134.8,604.12h1.5v5.66h-1.5zM141.4,604.12h1.2v5.66h-1.2zM159.8,604.12h0.4v5.66h-0.4zM76.8,638.08h0.8v5.66h-0.8zM95.7,638.08h0.8v5.66h-0.8zM97.7,638.08h1.5v5.66h-1.5zM105.2,638.08h1.0v5.66h-1.0zM110.2,638.08h0.8v5.66h-0.8zM116.8,638.08h0.6v5.66h-0.6zM121.5,638.08h1.2v5.66h-1.2zM64.8,643.74h1.0v5.66h-1.0zM68.9,643.74h1.0v5.66h-1.0zM76.1,643.74h1.5v5.66h-1.5zM119.1,643.74h0.6v5.66h-0.6zM140.4,643.74h1.0v5.66h-1.0zM149.3,643.74h1.5v5.66h-1.5zM78.5,655.06h1.0v5.66h-1.0zM125.5,655.06h0.6v5.66h-0.6zM135.7,655.06h1.5v5.66h-1.5zM155.4,655.06h0.8v5.66h-0.8zM157.8,655.06h1.0v5.66h-1.0zM67.7,672.04h0.6v5.66h-0.6zM102.8,672.04h0.8v5.66h-0.8zM155.5,672.04h0.6v5.66h-0.6zM195.0,672.04h1.0v5.66h-1.0zM196.0,672.04h1.5v5.66h-1.5z" fill="#761B8B"/>
<path d="M83.7,485.26h1.5v5.66h-1.5zM85.2,485.26h0.8v5.66h-0.8zM136.1,485.26h1.5v5.66h-1.5zM205.2,485.26h0.6v5.66h-0.6zM74.9,502.24h0.8v5.66h-0.8zM82.4,502.24h1.2v5.66h-1.2zM85.1,502.24h1.2v5.66h-1.2zM124.8,502.24h1.5v5.66h-1.5zM146.2,502.24h1.2v5.66h-1.2zM212.7,502.24h0.8v5.66h-0.8zM62.0,507.90h1.5v5.66h-1.5zM108.2,507.90h0.6v5.66h-0.6zM130.9,507.90h1.2v5.66h-1.2zM62.0,519.22h0.6v5.66h-0.6zM85.2,519.22h1.0v5.66h-1.0zM86.2,519.22h1.0v5.66h-1.0zM96.8,519.22h1.2v5.66h-1.2zM103.0,519.22h1.5v5.66h-1.5zM160.6,524.88h1.2v5.66h-1.2zM166.0,524.88h1.0v5.66h-1.0zM179.4,524.88h1.0v5.66h-1.0zM166.0,530.54h0.6v5.66h-0.6zM92.8,547.52h1.2v5.66h-1.2zM112.6,547.52h0.6v5.66h-0.6zM123.3,547.52h1.5v5.66h-1.5zM167.4,547.52h1.2v5.66h-1.2zM173.7,547.52h1.2v5.66h-1.2zM118.2,553.18h1.0v5.66h-1.0zM123.7,553.18h1.5v5.66h-1.5zM128.9,553.18h1.2v5.66h-1.2zM93.8,558.84h1.0v5.66h-1.0zM100.9,558.84h1.0v5.66h-1.0zM107.6,558.84h0.8v5.66h-0.8zM109.6,558.84h1.0v5.66h-1.0zM110.6,558.84h0.8v5.66h-0.8zM118.8,558.84h1.0v5.66h-1.0zM125.4,558.84h1.5v5.66h-1.5zM144.9,558.84h1.0v5.66h-1.0zM152.7,558.84h1.5v5.66h-1.5zM66.0,570.16h1.0v5.66h-1.0zM86.8,570.16h0.6v5.66h-0.6zM110.3,570.16h1.0v5.66h-1.0zM127.1,570.16h1.0v5.66h-1.0zM143.4,570.16h0.8v5.66h-0.8zM66.8,604.12h1.5v5.66h-1.5zM78.0,604.12h1.2v5.66h-1.2zM80.4,604.12h1.2v5.66h-1.2zM64.2,638.08h0.6v5.66h-0.6zM73.2,638.08h1.5v5.66h-1.5zM87.6,638.08h1.5v5.66h-1.5zM91.6,638.08h1.0v5.66h-1.0zM154.9,638.08h0.8v5.66h-0.8zM71.1,643.74h1.2v5.66h-1.2zM73.3,643.74h1.0v5.66h-1.0zM79.4,643.74h1.0v5.66h-1.0zM91.1,643.74h1.0v5.66h-1.0zM151.8,643.74h1.5v5.66h-1.5zM155.9,643.74h0.6v5.66h-0.6zM67.3,655.06h1.0v5.66h-1.0zM74.1,655.06h1.2v5.66h-1.2zM75.9,655.06h1.0v5.66h-1.0zM82.2,655.06h1.5v5.66h-1.5zM95.6,655.06h1.2v5.66h-1.2zM97.4,655.06h0.6v5.66h-0.6zM107.8,655.06h1.0v5.66h-1.0zM127.9,655.06h0.8v5.66h-0.8zM128.7,655.06h1.2v5.66h-1.2zM131.9,655.06h0.6v5.66h-0.6zM146.2,655.06h1.0v5.66h-1.0zM154.8,655.06h0.6v5.66h-0.6zM100.8,672.04h0.8v5.66h-0.8zM104.6,672.04h1.2v5.66h-1.2zM110.2,672.04h0.6v5.66h-0.6zM128.6,672.04h1.5v5.66h-1.5zM147.7,672.04h1.5v5.66h-1.5zM157.5,672.04h1.0v5.66h-1.0zM205.4,672.04h1.0v5.66h-1.0zM214.3,672.04h1.2v5.66h-1.2z" fill="#9D24B8"/>
<path d="M87.8,485.26h1.0v5.66h-1.0zM94.0,485.26h1.0v5.66h-1.0zM101.3,485.26h1.0v5.66h-1.0zM125.5,485.26h1.0v5.66h-1.0zM144.4,485.26h1.0v5.66h-1.0zM158.4,485.26h1.0v5.66h-1.0zM190.6,485.26h0.8v5.66h-0.8zM200.3,485.26h1.0v5.66h-1.0zM73.7,502.24h1.2v5.66h-1.2zM81.4,502.24h1.0v5.66h-1.0zM129.3,502.24h0.8v5.66h-0.8zM69.5,507.90h1.0v5.66h-1.0zM87.6,507.90h0.6v5.66h-0.6zM105.5,507.90h1.5v5.66h-1.5zM127.4,507.90h0.8v5.66h-0.8zM139.4,507.90h1.0v5.66h-1.0zM90.6,519.22h1.0v5.66h-1.0zM141.4,519.22h1.2v5.66h-1.2zM148.7,519.22h0.6v5.66h-0.6zM151.5,519.22h1.0v5.66h-1.0zM174.4,524.88h1.0v5.66h-1.0zM176.6,524.88h1.2v5.66h-1.2zM187.8,524.88h1.0v5.66h-1.0zM163.8,530.54h1.2v5.66h-1.2zM173.8,530.54h0.8v5.66h-0.8zM69.0,547.52h0.8v5.66h-0.8zM78.6,547.52h0.8v5.66h-0.8zM86.3,547.52h1.0v5.66h-1.0zM94.6,547.52h1.0v5.66h-1.0zM104.9,547.52h1.5v5.66h-1.5zM107.6,547.52h1.0v5.66h-1.0zM110.6,547.52h1.0v5.66h-1.0zM113.2,547.52h1.0v5.66h-1.0zM132.4,547.52h1.0v5.66h-1.0zM138.5,547.52h1.5v5.66h-1.5zM168.6,547.52h1.0v5.66h-1.0zM186.0,547.52h1.2v5.66h-1.2zM63.0,553.18h1.5v5.66h-1.5zM83.5,553.18h0.8v5.66h-0.8zM96.8,553.18h0.6v5.66h-0.6zM99.5,553.18h0.8v5.66h-0.8zM108.1,553.18h0.8v5.66h-0.8zM144.1,553.18h0.6v5.66h-0.6zM79.6,558.84h1.0v5.66h-1.0zM103.9,558.84h0.6v5.66h-0.6zM119.8,558.84h1.0v5.66h-1.0zM75.0,570.16h1.2v5.66h-1.2zM81.7,570.16h0.6v5.66h-0.6zM82.3,570.16h1.0v5.66h-1.0zM142.8,570.16h0.6v5.66h-0.6zM63.0,604.12h0.6v5.66h-0.6zM63.6,604.12h0.6v5.66h-0.6zM71.0,604.12h0.6v5.66h-0.6zM99.3,604.12h1.5v5.66h-1.5zM121.9,604.12h0.6v5.66h-0.6zM128.1,604.12h1.2v5.66h-1.2zM139.9,604.12h1.5v5.66h-1.5zM142.6,604.12h0.8v5.66h-0.8zM152.5,604.12h0.6v5.66h-0.6zM102.7,638.08h1.5v5.66h-1.5zM115.3,638.08h1.5v5.66h-1.5zM133.2,638.08h1.0v5.66h-1.0zM64.0,643.74h0.8v5.66h-0.8zM134.0,643.74h1.0v5.66h-1.0zM63.2,655.06h0.8v5.66h-0.8zM71.1,655.06h0.6v5.66h-0.6zM86.1,655.06h1.5v5.66h-1.5zM90.8,655.06h0.6v5.66h-0.6zM108.8,655.06h1.2v5.66h-1.2zM114.6,655.06h1.5v5.66h-1.5zM126.1,655.06h0.6v5.66h-0.6zM138.8,655.06h1.0v5.66h-1.0zM147.2,655.06h0.6v5.66h-0.6zM150.8,655.06h0.6v5.66h-0.6zM77.9,672.04h1.0v5.66h-1.0zM106.4,672.04h0.8v5.66h-0.8zM133.8,672.04h1.0v5.66h-1.0zM140.9,672.04h1.5v5.66h-1.5zM197.5,672.04h1.5v5.66h-1.5z" fill="#7E1D95"/>
<path d="M141.8,485.26h1.0v5.66h-1.0zM152.5,485.26h0.8v5.66h-0.8zM132.7,496.58h1.0v5.66h-1.0zM154.8,496.58h1.0v5.66h-1.0zM91.5,502.24h1.5v5.66h-1.5zM63.5,507.90h1.5v5.66h-1.5zM75.1,507.90h1.5v5.66h-1.5zM77.6,507.90h1.0v5.66h-1.0zM79.4,507.90h0.6v5.66h-0.6zM96.4,507.90h1.2v5.66h-1.2zM97.6,507.90h1.0v5.66h-1.0zM112.5,507.90h1.0v5.66h-1.0zM118.5,507.90h1.2v5.66h-1.2zM119.7,507.90h1.5v5.66h-1.5zM132.1,507.90h1.2v5.66h-1.2zM133.9,507.90h1.5v5.66h-1.5zM137.2,507.90h0.6v5.66h-0.6zM149.1,507.90h1.0v5.66h-1.0zM162.2,507.90h1.0v5.66h-1.0zM183.0,507.90h1.0v5.66h-1.0zM204.7,507.90h1.2v5.66h-1.2zM223.4,507.90h0.6v5.66h-0.6zM199.0,513.56h0.6v5.66h-0.6zM69.2,519.22h1.0v5.66h-1.0zM80.0,519.22h0.8v5.66h-0.8zM98.0,519.22h1.5v5.66h-1.5zM116.5,519.22h1.0v5.66h-1.0zM126.2,519.22h1.0v5.66h-1.0zM127.2,519.22h0.8v5.66h-0.8zM139.0,519.22h1.2v5.66h-1.2zM162.6,519.22h1.0v5.66h-1.0zM185.8,519.22h0.8v5.66h-0.8zM193.0,519.22h0.8v5.66h-0.8zM196.2,519.22h1.5v5.66h-1.5zM79.4,547.52h1.0v5.66h-1.0zM76.6,553.18h1.0v5.66h-1.0zM91.2,553.18h0.8v5.66h-0.8zM97.4,553.18h0.6v5.66h-0.6zM112.4,553.18h1.2v5.66h-1.2zM219.1,553.18h1.0v5.66h-1.0zM221.7,553.18h1.5v5.66h-1.5zM141.6,558.84h1.2v5.66h-1.2zM167.7,564.50h1.0v5.66h-1.0zM212.6,564.50h0.6v5.66h-0.6zM117.2,570.16h1.2v5.66h-1.2zM165.4,570.16h1.0v5.66h-1.0zM175.7,570.16h1.0v5.66h-1.0zM188.9,570.16h1.3v5.66h-1.3zM193.3,575.82h1.5v5.66h-1.5zM118.3,581.48h1.5v5.66h-1.5zM128.7,587.14h1.0v5.66h-1.0zM66.4,592.80h0.6v5.66h-0.6zM135.9,592.80h0.8v5.66h-0.8zM86.3,604.12h1.2v5.66h-1.2zM145.5,604.12h1.0v5.66h-1.0zM168.8,604.12h0.8v5.66h-0.8zM174.1,604.12h1.5v5.66h-1.5zM189.7,604.12h0.5v5.66h-0.5zM192.1,604.12h1.2v5.66h-1.2zM221.9,604.12h0.6v5.66h-0.6zM176.6,609.78h1.2v5.66h-1.2zM89.6,615.44h1.0v5.66h-1.0zM181.9,621.10h1.0v5.66h-1.0zM76.1,626.76h1.0v5.66h-1.0zM160.1,626.76h0.1v5.66h-0.1zM136.5,632.42h0.8v5.66h-0.8zM217.8,638.08h0.8v5.66h-0.8zM157.1,643.74h1.2v5.66h-1.2zM164.6,643.74h1.2v5.66h-1.2zM165.8,643.74h1.0v5.66h-1.0zM188.1,643.74h0.8v5.66h-0.8zM188.9,643.74h0.6v5.66h-0.6zM214.9,643.74h1.2v5.66h-1.2zM223.3,643.74h1.2v5.66h-1.2zM66.2,649.40h0.6v5.66h-0.6zM178.5,649.40h1.5v5.66h-1.5zM186.4,649.40h1.0v5.66h-1.0zM123.1,655.06h1.2v5.66h-1.2zM129.9,655.06h0.8v5.66h-0.8zM151.4,655.06h0.6v5.66h-0.6zM158.8,655.06h1.0v5.66h-1.0zM172.8,655.06h1.5v5.66h-1.5zM190.0,655.06h0.2v5.66h-0.2zM197.6,655.06h1.2v5.66h-1.2zM75.8,666.38h0.8v5.66h-0.8zM118.3,666.38h1.5v5.66h-1.5zM152.3,666.38h1.0v5.66h-1.0zM102.9,677.70h0.6v5.66h-0.6z" fill="#B4885E"/>
<path d="M168.1,485.26h1.0v5.66h-1.0zM65.0,490.92h0.6v5.66h-0.6zM68.9,490.92h0.8v5.66h-0.8zM101.6,490.92h1.2v5.66h-1.2zM114.8,490.92h0.8v5.66h-0.8zM117.6,490.92h1.0v5.66h-1.0zM213.0,490.92h0.8v5.66h-0.8zM74.2,496.58h1.0v5.66h-1.0zM99.4,496.58h0.6v5.66h-0.6zM100.0,496.58h1.5v5.66h-1.5zM116.7,496.58h0.8v5.66h-0.8zM125.3,496.58h0.6v5.66h-0.6zM150.0,496.58h1.5v5.66h-1.5zM157.9,496.58h1.0v5.66h-1.0zM211.6,496.58h0.6v5.66h-0.6zM199.9,507.90h1.0v5.66h-1.0zM165.1,519.22h1.2v5.66h-1.2zM181.1,519.22h1.0v5.66h-1.0zM66.3,524.88h0.8v5.66h-0.8zM96.2,524.88h0.6v5.66h-0.6zM100.7,524.88h0.6v5.66h-0.6zM118.2,524.88h1.5v5.66h-1.5zM63.8,530.54h0.8v5.66h-0.8zM82.5,530.54h1.0v5.66h-1.0zM83.5,530.54h1.5v5.66h-1.5zM91.6,530.54h0.6v5.66h-0.6zM104.5,530.54h1.0v5.66h-1.0zM128.2,530.54h0.8v5.66h-0.8zM62.8,666.38h1.0v5.66h-1.0zM68.6,666.38h0.8v5.66h-0.8zM74.0,666.38h1.0v5.66h-1.0zM84.7,666.38h1.0v5.66h-1.0zM93.1,666.38h1.5v5.66h-1.5zM107.8,666.38h1.0v5.66h-1.0zM121.0,666.38h1.0v5.66h-1.0zM159.7,666.38h0.5v5.66h-0.5zM199.9,666.38h1.0v5.66h-1.0zM215.7,666.38h0.6v5.66h-0.6zM66.6,677.70h1.0v5.66h-1.0zM75.1,677.70h1.5v5.66h-1.5zM77.4,677.70h1.0v5.66h-1.0zM86.0,677.70h0.6v5.66h-0.6zM87.6,677.70h0.8v5.66h-0.8zM142.6,677.70h0.8v5.66h-0.8z" fill="#8B21A3"/>
<path d="M187.7,485.26h1.0v5.66h-1.0zM63.8,490.92h1.2v5.66h-1.2zM79.9,490.92h1.0v5.66h-1.0zM80.9,490.92h0.8v5.66h-0.8zM104.6,490.92h1.0v5.66h-1.0zM109.5,490.92h0.8v5.66h-0.8zM140.9,490.92h0.6v5.66h-0.6zM191.6,490.92h0.6v5.66h-0.6zM192.2,490.92h1.0v5.66h-1.0zM196.6,490.92h1.2v5.66h-1.2zM201.3,490.92h0.6v5.66h-0.6zM209.0,490.92h1.0v5.66h-1.0zM159.9,496.58h0.3v5.66h-0.3zM197.6,496.58h1.5v5.66h-1.5zM200.1,496.58h1.5v5.66h-1.5zM213.3,507.90h1.5v5.66h-1.5zM161.8,519.22h0.8v5.66h-0.8zM163.6,519.22h1.5v5.66h-1.5zM198.7,519.22h1.0v5.66h-1.0zM62.0,524.88h1.0v5.66h-1.0zM68.1,524.88h1.5v5.66h-1.5zM75.0,524.88h0.8v5.66h-0.8zM77.4,524.88h1.5v5.66h-1.5zM85.7,524.88h0.6v5.66h-0.6zM99.5,524.88h1.2v5.66h-1.2zM110.5,524.88h1.0v5.66h-1.0zM128.1,524.88h1.2v5.66h-1.2zM148.7,524.88h1.0v5.66h-1.0zM154.0,524.88h1.0v5.66h-1.0zM69.7,530.54h1.0v5.66h-1.0zM85.0,530.54h1.0v5.66h-1.0zM124.3,530.54h0.6v5.66h-0.6zM150.4,530.54h0.8v5.66h-0.8zM151.2,530.54h1.2v5.66h-1.2zM155.1,530.54h0.6v5.66h-0.6zM63.8,666.38h0.8v5.66h-0.8zM103.8,666.38h1.5v5.66h-1.5zM128.5,666.38h1.5v5.66h-1.5zM137.2,666.38h1.5v5.66h-1.5zM153.3,666.38h1.0v5.66h-1.0zM191.6,666.38h1.5v5.66h-1.5zM205.6,666.38h1.0v5.66h-1.0zM209.4,666.38h1.2v5.66h-1.2zM63.6,677.70h0.8v5.66h-0.8zM64.4,677.70h1.2v5.66h-1.2zM95.2,677.70h1.2v5.66h-1.2zM126.5,677.70h1.0v5.66h-1.0z" fill="#AD29CA"/>
<path d="M231.9,485.26h1.5v5.66h-1.5zM234.4,485.26h1.0v5.66h-1.0zM217.8,490.92h0.6v5.66h-0.6zM228.8,490.92h1.2v5.66h-1.2zM194.9,524.88h0.6v5.66h-0.6zM197.3,524.88h1.5v5.66h-1.5zM203.4,524.88h1.0v5.66h-1.0zM193.2,530.54h1.2v5.66h-1.2zM197.4,530.54h0.6v5.66h-0.6zM214.9,530.54h1.2v5.66h-1.2zM191.6,536.20h1.0v5.66h-1.0zM196.3,536.20h0.6v5.66h-0.6zM196.9,536.20h1.2v5.66h-1.2zM205.4,536.20h1.5v5.66h-1.5zM208.1,536.20h1.2v5.66h-1.2zM209.3,536.20h0.6v5.66h-0.6zM212.5,536.20h0.8v5.66h-0.8zM215.7,536.20h0.6v5.66h-0.6zM237.9,536.20h0.8v5.66h-0.8zM201.6,541.86h1.0v5.66h-1.0zM206.3,541.86h0.8v5.66h-0.8zM213.3,541.86h1.5v5.66h-1.5zM190.6,547.52h1.2v5.66h-1.2zM196.1,547.52h1.5v5.66h-1.5zM200.6,547.52h0.6v5.66h-0.6zM209.8,547.52h1.2v5.66h-1.2zM211.0,547.52h1.0v5.66h-1.0zM245.4,553.18h0.2v5.66h-0.2zM243.6,564.50h0.6v5.66h-0.6zM245.4,564.50h0.2v5.66h-0.2zM238.7,604.12h0.6v5.66h-0.6zM236.7,609.78h0.8v5.66h-0.8zM237.5,609.78h1.2v5.66h-1.2zM237.7,615.44h1.0v5.66h-1.0zM237.7,621.10h1.5v5.66h-1.5zM192.4,638.08h1.0v5.66h-1.0zM202.1,638.08h1.5v5.66h-1.5zM214.3,638.08h0.6v5.66h-0.6zM219.4,660.72h0.6v5.66h-0.6zM221.2,660.72h0.6v5.66h-0.6zM224.4,660.72h1.5v5.66h-1.5z" fill="#E4EE34"/>
<path d="M233.4,485.26h1.0v5.66h-1.0zM235.4,485.26h0.9v5.66h-0.9zM192.7,524.88h1.2v5.66h-1.2zM198.8,524.88h1.2v5.66h-1.2zM200.0,524.88h1.2v5.66h-1.2zM205.4,524.88h1.2v5.66h-1.2zM208.1,524.88h0.8v5.66h-0.8zM210.9,524.88h1.5v5.66h-1.5zM192.2,530.54h1.0v5.66h-1.0zM203.7,530.54h1.2v5.66h-1.2zM208.4,530.54h1.0v5.66h-1.0zM195.3,536.20h1.0v5.66h-1.0zM201.1,536.20h1.2v5.66h-1.2zM213.9,536.20h0.8v5.66h-0.8zM236.7,536.20h1.2v5.66h-1.2zM195.1,541.86h0.8v5.66h-0.8zM236.7,541.86h0.8v5.66h-0.8zM238.5,541.86h0.8v5.66h-0.8zM198.6,547.52h1.2v5.66h-1.2zM199.8,547.52h0.8v5.66h-0.8zM205.8,547.52h1.5v5.66h-1.5zM208.8,547.52h1.0v5.66h-1.0zM215.4,547.52h0.8v5.66h-0.8zM243.6,558.84h0.8v5.66h-0.8zM245.2,558.84h0.4v5.66h-0.4zM243.6,570.16h0.6v5.66h-0.6zM244.2,570.16h0.6v5.66h-0.6zM244.8,570.16h0.8v5.66h-0.8zM238.2,581.48h1.1v5.66h-1.1zM238.2,587.14h1.1v5.66h-1.1zM237.3,604.12h0.8v5.66h-0.8zM238.1,604.12h0.6v5.66h-0.6zM239.2,626.76h0.1v5.66h-0.1zM206.3,638.08h1.5v5.66h-1.5zM212.1,638.08h1.2v5.66h-1.2zM214.9,638.08h1.0v5.66h-1.0zM215.9,638.08h0.4v5.66h-0.4zM231.9,643.74h1.0v5.66h-1.0zM218.4,660.72h1.0v5.66h-1.0zM220.0,660.72h1.2v5.66h-1.2z" fill="#C8CC38"/>
<path d="M62.8,490.92h1.0v5.66h-1.0zM76.3,490.92h0.6v5.66h-0.6zM85.1,490.92h1.0v5.66h-1.0zM91.0,490.92h1.0v5.66h-1.0zM100.6,490.92h1.0v5.66h-1.0zM102.8,490.92h0.8v5.66h-0.8zM111.3,490.92h1.5v5.66h-1.5zM116.4,490.92h1.2v5.66h-1.2zM127.2,490.92h1.2v5.66h-1.2zM149.2,490.92h1.5v5.66h-1.5zM151.7,490.92h1.0v5.66h-1.0zM62.0,496.58h1.0v5.66h-1.0zM72.8,496.58h0.8v5.66h-0.8zM82.9,496.58h0.6v5.66h-0.6zM89.6,496.58h1.0v5.66h-1.0zM90.6,496.58h1.0v5.66h-1.0zM122.8,496.58h1.0v5.66h-1.0zM138.1,496.58h0.6v5.66h-0.6zM142.0,496.58h1.0v5.66h-1.0zM143.0,496.58h1.2v5.66h-1.2zM144.2,496.58h0.6v5.66h-0.6zM179.6,519.22h1.5v5.66h-1.5zM184.3,519.22h1.5v5.66h-1.5zM207.8,519.22h1.0v5.66h-1.0zM208.8,519.22h0.8v5.66h-0.8zM81.5,524.88h0.6v5.66h-0.6zM103.1,524.88h0.6v5.66h-0.6zM103.7,524.88h0.6v5.66h-0.6zM147.7,524.88h1.0v5.66h-1.0zM152.8,524.88h1.2v5.66h-1.2zM89.8,530.54h1.2v5.66h-1.2zM95.7,530.54h1.0v5.66h-1.0zM107.8,530.54h1.2v5.66h-1.2zM118.4,530.54h0.8v5.66h-0.8zM129.0,530.54h1.5v5.66h-1.5zM73.0,666.38h1.0v5.66h-1.0zM132.2,666.38h1.5v5.66h-1.5zM144.7,666.38h1.0v5.66h-1.0zM156.5,666.38h0.6v5.66h-0.6zM70.1,677.70h0.8v5.66h-0.8zM79.4,677.70h1.5v5.66h-1.5zM110.0,677.70h0.6v5.66h-0.6zM112.0,677.70h1.5v5.66h-1.5zM115.3,677.70h0.6v5.66h-0.6zM130.5,677.70h1.0v5.66h-1.0zM155.4,677.70h0.8v5.66h-0.8z" fill="#821E99"/>
<path d="M66.6,490.92h0.8v5.66h-0.8zM78.1,490.92h0.8v5.66h-0.8zM86.1,490.92h1.2v5.66h-1.2zM112.8,490.92h1.0v5.66h-1.0zM113.8,490.92h1.0v5.66h-1.0zM115.6,490.92h0.8v5.66h-0.8zM146.7,490.92h1.5v5.66h-1.5zM91.6,496.58h0.6v5.66h-0.6zM111.8,496.58h1.5v5.66h-1.5zM129.6,496.58h1.5v5.66h-1.5zM146.6,496.58h1.2v5.66h-1.2zM197.2,507.90h1.5v5.66h-1.5zM169.4,519.22h1.0v5.66h-1.0zM171.2,519.22h0.8v5.66h-0.8zM195.6,519.22h0.6v5.66h-0.6zM213.1,519.22h1.2v5.66h-1.2zM105.3,524.88h1.0v5.66h-1.0zM107.8,524.88h1.2v5.66h-1.2zM109.0,524.88h1.5v5.66h-1.5zM121.7,524.88h0.6v5.66h-0.6zM144.9,524.88h1.2v5.66h-1.2zM149.7,524.88h0.6v5.66h-0.6zM160.1,524.88h0.1v5.66h-0.1zM62.0,530.54h0.8v5.66h-0.8zM65.6,530.54h1.0v5.66h-1.0zM76.5,530.54h0.6v5.66h-0.6zM79.3,530.54h0.8v5.66h-0.8zM86.0,530.54h0.8v5.66h-0.8zM97.7,530.54h1.0v5.66h-1.0zM99.3,530.54h0.6v5.66h-0.6zM120.6,530.54h1.5v5.66h-1.5zM126.7,530.54h1.5v5.66h-1.5zM145.2,530.54h1.0v5.66h-1.0zM72.4,666.38h0.6v5.66h-0.6zM85.7,666.38h1.2v5.66h-1.2zM105.3,666.38h1.0v5.66h-1.0zM108.8,666.38h1.2v5.66h-1.2zM119.8,666.38h1.2v5.66h-1.2zM131.6,666.38h0.6v5.66h-0.6zM155.5,666.38h1.0v5.66h-1.0zM214.5,666.38h0.6v5.66h-0.6zM71.9,677.70h1.2v5.66h-1.2zM80.9,677.70h0.6v5.66h-0.6zM88.4,677.70h1.2v5.66h-1.2zM99.4,677.70h1.5v5.66h-1.5zM111.4,677.70h0.6v5.66h-0.6zM116.7,677.70h1.0v5.66h-1.0zM144.0,677.70h0.8v5.66h-0.8z" fill="#A426C0"/>
<path d="M216.8,490.92h1.0v5.66h-1.0zM224.5,490.92h1.5v5.66h-1.5zM227.0,490.92h1.2v5.66h-1.2zM230.0,490.92h1.0v5.66h-1.0zM192.1,524.88h0.6v5.66h-0.6zM204.4,524.88h1.0v5.66h-1.0zM206.6,524.88h1.5v5.66h-1.5zM213.9,524.88h0.8v5.66h-0.8zM215.5,524.88h0.8v5.66h-0.8zM190.6,530.54h0.6v5.66h-0.6zM191.2,530.54h1.0v5.66h-1.0zM194.4,530.54h1.5v5.66h-1.5zM198.0,530.54h1.2v5.66h-1.2zM200.4,530.54h1.5v5.66h-1.5zM201.9,530.54h1.0v5.66h-1.0zM204.9,530.54h0.8v5.66h-0.8zM205.7,530.54h1.5v5.66h-1.5zM210.4,530.54h1.5v5.66h-1.5zM209.9,536.20h0.6v5.66h-0.6zM211.5,536.20h1.0v5.66h-1.0zM190.6,541.86h0.6v5.66h-0.6zM196.7,541.86h1.0v5.66h-1.0zM197.7,541.86h1.0v5.66h-1.0zM202.6,541.86h1.0v5.66h-1.0zM203.6,541.86h1.2v5.66h-1.2zM204.8,541.86h1.5v5.66h-1.5zM208.6,541.86h1.0v5.66h-1.0zM212.3,541.86h1.0v5.66h-1.0zM197.6,547.52h1.0v5.66h-1.0zM216.2,547.52h0.1v5.66h-0.1zM243.6,553.18h0.8v5.66h-0.8zM244.4,558.84h0.8v5.66h-0.8zM244.4,575.82h1.2v5.66h-1.2zM238.7,592.80h0.6v5.66h-0.6zM236.7,615.44h1.0v5.66h-1.0zM236.7,632.42h1.5v5.66h-1.5zM191.4,638.08h1.0v5.66h-1.0zM194.0,638.08h1.2v5.66h-1.2zM197.2,638.08h0.8v5.66h-0.8zM198.0,638.08h1.0v5.66h-1.0zM208.4,638.08h1.5v5.66h-1.5zM216.8,660.72h0.6v5.66h-0.6zM217.4,660.72h1.0v5.66h-1.0zM228.0,660.72h0.8v5.66h-0.8z" fill="#ECF23C"/>
<path d="M219.9,490.92h1.0v5.66h-1.0zM222.4,490.92h0.6v5.66h-0.6zM231.0,490.92h0.5v5.66h-0.5zM190.6,524.88h1.5v5.66h-1.5zM201.8,524.88h1.0v5.66h-1.0zM202.8,524.88h0.6v5.66h-0.6zM210.1,524.88h0.8v5.66h-0.8zM212.4,524.88h1.5v5.66h-1.5zM214.7,524.88h0.8v5.66h-0.8zM199.2,530.54h1.2v5.66h-1.2zM202.9,530.54h0.8v5.66h-0.8zM207.2,530.54h1.2v5.66h-1.2zM211.9,530.54h1.0v5.66h-1.0zM212.9,530.54h1.0v5.66h-1.0zM216.1,530.54h0.2v5.66h-0.2zM194.1,536.20h1.2v5.66h-1.2zM198.1,536.20h1.2v5.66h-1.2zM199.3,536.20h1.2v5.66h-1.2zM200.5,536.20h0.6v5.66h-0.6zM203.8,536.20h0.6v5.66h-0.6zM213.3,536.20h0.6v5.66h-0.6zM214.8,541.86h1.2v5.66h-1.2zM191.8,547.52h0.8v5.66h-0.8zM203.0,547.52h1.2v5.66h-1.2zM243.6,575.82h0.8v5.66h-0.8zM237.5,592.80h1.2v5.66h-1.2zM238.3,598.46h1.0v5.66h-1.0zM238.7,615.44h0.6v5.66h-0.6zM239.2,621.10h0.1v5.66h-0.1zM236.7,626.76h1.5v5.66h-1.5zM238.8,632.42h0.5v5.66h-0.5zM193.4,638.08h0.6v5.66h-0.6zM195.2,638.08h1.2v5.66h-1.2zM199.0,638.08h1.5v5.66h-1.5zM200.5,638.08h0.8v5.66h-0.8zM203.6,638.08h1.2v5.66h-1.2zM207.8,638.08h0.6v5.66h-0.6zM233.9,643.74h1.0v5.66h-1.0zM222.6,660.72h1.2v5.66h-1.2zM225.9,660.72h0.6v5.66h-0.6zM228.8,660.72h0.8v5.66h-0.8z" fill="#B8B840"/>
<path d="M228.2,490.92h0.6v5.66h-0.6zM193.9,524.88h1.0v5.66h-1.0zM195.5,524.88h0.6v5.66h-0.6zM196.1,524.88h1.2v5.66h-1.2zM201.2,524.88h0.6v5.66h-0.6zM208.9,524.88h1.2v5.66h-1.2zM213.9,530.54h1.0v5.66h-1.0zM190.6,536.20h1.0v5.66h-1.0zM192.6,536.20h1.5v5.66h-1.5zM202.3,536.20h1.5v5.66h-1.5zM204.4,536.20h1.0v5.66h-1.0zM210.5,536.20h1.0v5.66h-1.0zM238.7,536.20h0.6v5.66h-0.6zM191.2,541.86h1.5v5.66h-1.5zM195.9,541.86h0.8v5.66h-0.8zM207.1,541.86h1.5v5.66h-1.5zM209.6,541.86h1.2v5.66h-1.2zM210.8,541.86h1.5v5.66h-1.5zM237.5,541.86h1.0v5.66h-1.0zM194.1,547.52h0.8v5.66h-0.8zM194.9,547.52h1.2v5.66h-1.2zM202.2,547.52h0.8v5.66h-0.8zM204.2,547.52h0.8v5.66h-0.8zM207.3,547.52h1.5v5.66h-1.5zM212.0,547.52h1.2v5.66h-1.2zM213.2,547.52h1.0v5.66h-1.0zM214.2,547.52h1.2v5.66h-1.2zM244.4,553.18h1.0v5.66h-1.0zM236.7,592.80h0.8v5.66h-0.8zM236.7,598.46h0.6v5.66h-0.6zM236.7,621.10h1.0v5.66h-1.0zM238.2,626.76h1.0v5.66h-1.0zM190.6,638.08h0.8v5.66h-0.8zM196.4,638.08h0.8v5.66h-0.8zM201.3,638.08h0.8v5.66h-0.8zM204.8,638.08h1.5v5.66h-1.5zM209.9,638.08h1.0v5.66h-1.0zM210.9,638.08h1.2v5.66h-1.2zM213.3,638.08h1.0v5.66h-1.0zM232.9,643.74h1.0v5.66h-1.0zM234.9,643.74h1.2v5.66h-1.2zM236.1,643.74h0.2v5.66h-0.2zM226.5,660.72h1.5v5.66h-1.5zM229.6,660.72h0.8v5.66h-0.8zM230.4,660.72h1.1v5.66h-1.1z" fill="#DCE636"/>
<path d="M78.6,507.90h0.8v5.66h-0.8zM94.2,507.90h0.6v5.66h-0.6zM124.5,507.90h1.5v5.66h-1.5zM128.2,507.90h0.6v5.66h-0.6zM135.4,507.90h0.6v5.66h-0.6zM144.6,507.90h1.5v5.66h-1.5zM152.2,507.90h1.0v5.66h-1.0zM89.5,513.56h1.0v5.66h-1.0zM117.1,513.56h1.0v5.66h-1.0zM126.2,513.56h1.5v5.66h-1.5zM156.2,513.56h1.2v5.66h-1.2zM106.8,519.22h0.8v5.66h-0.8zM123.7,519.22h1.5v5.66h-1.5zM138.0,519.22h1.0v5.66h-1.0z" fill="#ACA63E"/>
<path d="M85.0,507.90h1.0v5.66h-1.0zM88.2,507.90h1.2v5.66h-1.2zM90.0,507.90h1.0v5.66h-1.0zM91.8,507.90h0.6v5.66h-0.6zM143.6,507.90h1.0v5.66h-1.0zM67.2,513.56h1.2v5.66h-1.2zM106.9,513.56h1.0v5.66h-1.0zM114.7,513.56h0.8v5.66h-0.8zM121.6,513.56h1.0v5.66h-1.0zM134.4,513.56h0.6v5.66h-0.6zM151.6,513.56h0.6v5.66h-0.6zM114.2,519.22h0.8v5.66h-0.8zM144.9,519.22h1.0v5.66h-1.0zM199.5,541.86h1.5v5.66h-1.5z" fill="#88882E"/>
<path d="M62.0,513.56h1.5v5.66h-1.5zM90.5,513.56h0.6v5.66h-0.6zM97.9,513.56h1.0v5.66h-1.0zM102.0,513.56h0.8v5.66h-0.8zM108.9,513.56h0.6v5.66h-0.6zM137.6,513.56h1.5v5.66h-1.5zM161.8,536.20h1.0v5.66h-1.0zM104.5,541.86h1.0v5.66h-1.0zM154.5,541.86h1.0v5.66h-1.0zM160.6,541.86h1.0v5.66h-1.0zM173.0,541.86h0.8v5.66h-0.8zM183.1,541.86h1.2v5.66h-1.2zM216.8,541.86h1.2v5.66h-1.2zM223.2,541.86h0.6v5.66h-0.6zM223.8,541.86h1.0v5.66h-1.0zM226.8,541.86h0.6v5.66h-0.6z" fill="#2E0C34"/>
<path d="M71.1,513.56h1.5v5.66h-1.5zM84.8,513.56h1.2v5.66h-1.2zM91.1,513.56h1.2v5.66h-1.2zM94.3,513.56h0.6v5.66h-0.6zM107.9,513.56h1.0v5.66h-1.0zM112.7,513.56h0.6v5.66h-0.6zM147.1,513.56h1.0v5.66h-1.0zM153.0,513.56h0.8v5.66h-0.8zM153.8,513.56h1.2v5.66h-1.2zM103.1,541.86h0.6v5.66h-0.6zM107.1,541.86h1.0v5.66h-1.0zM120.5,541.86h1.0v5.66h-1.0zM157.7,541.86h0.8v5.66h-0.8z" fill="#1E0824"/>
<path d="M144.2,513.56h1.5v5.66h-1.5zM145.7,513.56h0.6v5.66h-0.6zM150.1,513.56h1.5v5.66h-1.5zM158.4,513.56h1.5v5.66h-1.5zM166.7,513.56h0.6v5.66h-0.6zM170.6,513.56h1.0v5.66h-1.0zM184.0,513.56h0.8v5.66h-0.8zM80.8,541.86h1.0v5.66h-1.0zM99.7,541.86h0.8v5.66h-0.8zM102.3,541.86h0.8v5.66h-0.8zM109.1,541.86h0.6v5.66h-0.6zM109.7,541.86h0.6v5.66h-0.6zM121.5,541.86h1.0v5.66h-1.0zM137.3,541.86h1.5v5.66h-1.5zM145.0,541.86h0.8v5.66h-0.8zM148.0,541.86h0.6v5.66h-0.6zM153.7,541.86h0.8v5.66h-0.8zM155.5,541.86h0.6v5.66h-0.6zM66.0,660.72h1.0v5.66h-1.0zM109.2,660.72h1.2v5.66h-1.2zM126.2,660.72h1.5v5.66h-1.5zM140.7,660.72h1.5v5.66h-1.5z" fill="#DA48EE"/>
<path d="M177.3,513.56h0.8v5.66h-0.8zM66.5,541.86h0.8v5.66h-0.8zM75.0,541.86h0.6v5.66h-0.6zM84.9,541.86h1.0v5.66h-1.0zM85.9,541.86h0.6v5.66h-0.6zM92.2,541.86h1.5v5.66h-1.5zM94.5,541.86h0.6v5.66h-0.6zM98.7,541.86h1.0v5.66h-1.0zM100.5,541.86h1.0v5.66h-1.0zM108.1,541.86h1.0v5.66h-1.0zM111.3,541.86h0.8v5.66h-0.8zM112.7,541.86h1.0v5.66h-1.0zM124.0,541.86h1.5v5.66h-1.5zM144.4,541.86h0.6v5.66h-0.6zM65.0,660.72h1.0v5.66h-1.0zM121.4,660.72h1.2v5.66h-1.2zM153.4,660.72h0.6v5.66h-0.6z" fill="#E650F6"/>
<path d="M192.2,513.56h0.8v5.66h-0.8z" fill="#AC30C0"/>
<path d="M198.4,513.56h0.6v5.66h-0.6zM202.4,513.56h1.2v5.66h-1.2z" fill="#B833CE"/>
<path d="M199.6,513.56h1.0v5.66h-1.0zM210.0,513.56h1.2v5.66h-1.2z" fill="#D83CF1"/>
<path d="M201.6,513.56h0.8v5.66h-0.8zM207.8,513.56h1.2v5.66h-1.2z" fill="#E33FFF"/>
<path d="M63.8,564.50h1.5v5.66h-1.5zM71.5,564.50h1.2v5.66h-1.2zM104.6,564.50h1.0v5.66h-1.0zM122.0,564.50h0.8v5.66h-0.8zM147.1,564.50h1.0v5.66h-1.0zM150.5,564.50h1.2v5.66h-1.2zM153.3,564.50h1.2v5.66h-1.2zM93.2,581.48h0.8v5.66h-0.8zM95.8,581.48h0.6v5.66h-0.6zM102.9,581.48h0.6v5.66h-0.6zM106.0,581.48h1.5v5.66h-1.5zM108.5,581.48h1.5v5.66h-1.5zM145.0,581.48h0.8v5.66h-0.8zM72.4,587.14h0.6v5.66h-0.6zM76.8,587.14h1.5v5.66h-1.5zM89.1,587.14h1.5v5.66h-1.5zM100.4,587.14h0.8v5.66h-0.8zM115.4,587.14h1.0v5.66h-1.0zM116.4,587.14h1.0v5.66h-1.0zM117.4,587.14h1.5v5.66h-1.5zM122.3,587.14h1.5v5.66h-1.5zM129.7,587.14h1.0v5.66h-1.0zM101.2,609.78h0.6v5.66h-0.6zM102.6,609.78h1.5v5.66h-1.5zM105.5,609.78h1.5v5.66h-1.5zM118.5,609.78h1.0v5.66h-1.0zM82.8,621.10h1.2v5.66h-1.2zM132.8,621.10h1.0v5.66h-1.0zM141.1,621.10h1.0v5.66h-1.0zM145.5,621.10h1.0v5.66h-1.0zM100.3,649.40h1.2v5.66h-1.2zM104.3,649.40h0.8v5.66h-0.8zM107.9,649.40h0.6v5.66h-0.6zM121.2,649.40h0.6v5.66h-0.6zM146.0,649.40h1.0v5.66h-1.0zM149.1,649.40h0.8v5.66h-0.8zM153.6,649.40h0.6v5.66h-0.6z" fill="#881DA4"/>
<path d="M66.7,564.50h1.5v5.66h-1.5zM114.8,564.50h0.6v5.66h-0.6zM124.3,564.50h1.0v5.66h-1.0zM149.1,564.50h0.6v5.66h-0.6zM156.3,564.50h1.2v5.66h-1.2zM101.3,581.48h1.0v5.66h-1.0zM154.2,581.48h1.0v5.66h-1.0zM99.0,587.14h0.6v5.66h-0.6zM127.9,587.14h0.8v5.66h-0.8zM74.0,609.78h0.6v5.66h-0.6zM90.7,609.78h1.0v5.66h-1.0zM114.5,609.78h1.5v5.66h-1.5zM129.0,609.78h0.6v5.66h-0.6zM140.9,609.78h0.8v5.66h-0.8zM87.4,621.10h1.2v5.66h-1.2zM94.6,621.10h1.0v5.66h-1.0zM109.6,621.10h1.2v5.66h-1.2zM118.7,621.10h1.5v5.66h-1.5zM152.9,621.10h1.0v5.66h-1.0zM97.7,649.40h0.8v5.66h-0.8zM159.3,649.40h0.9v5.66h-0.9z" fill="#6E1784"/>
<path d="M83.7,564.50h0.6v5.66h-0.6zM87.7,564.50h0.6v5.66h-0.6zM144.1,564.50h1.0v5.66h-1.0zM62.0,581.48h1.5v5.66h-1.5zM87.2,581.48h1.5v5.66h-1.5zM100.5,581.48h0.8v5.66h-0.8zM132.9,581.48h0.6v5.66h-0.6zM147.3,581.48h1.2v5.66h-1.2zM92.2,587.14h1.2v5.66h-1.2zM146.6,587.14h1.2v5.66h-1.2zM153.1,587.14h1.0v5.66h-1.0zM64.7,609.78h0.8v5.66h-0.8zM69.1,609.78h1.5v5.66h-1.5zM84.4,609.78h1.5v5.66h-1.5zM126.9,609.78h0.6v5.66h-0.6zM141.7,609.78h1.0v5.66h-1.0zM151.6,609.78h1.5v5.66h-1.5zM68.1,621.10h1.5v5.66h-1.5zM79.6,621.10h0.6v5.66h-0.6zM90.1,621.10h1.0v5.66h-1.0zM95.6,621.10h1.5v5.66h-1.5zM128.7,621.10h0.6v5.66h-0.6zM80.3,649.40h1.2v5.66h-1.2zM107.1,649.40h0.8v5.66h-0.8zM149.9,649.40h1.0v5.66h-1.0z" fill="#67167B"/>
<path d="M94.3,564.50h0.6v5.66h-0.6zM96.1,564.50h0.6v5.66h-0.6zM69.7,581.48h0.6v5.66h-0.6zM84.0,581.48h0.8v5.66h-0.8zM110.0,581.48h1.0v5.66h-1.0zM113.8,581.48h1.0v5.66h-1.0zM124.3,581.48h1.0v5.66h-1.0zM140.7,581.48h0.6v5.66h-0.6zM152.2,581.48h1.2v5.66h-1.2zM69.6,587.14h1.2v5.66h-1.2zM107.0,587.14h1.0v5.66h-1.0zM111.0,587.14h1.2v5.66h-1.2zM65.5,609.78h0.8v5.66h-0.8zM73.2,609.78h0.8v5.66h-0.8zM75.6,609.78h1.0v5.66h-1.0zM77.8,609.78h1.0v5.66h-1.0zM83.8,609.78h0.6v5.66h-0.6zM104.1,609.78h0.6v5.66h-0.6zM119.5,609.78h0.6v5.66h-0.6zM138.6,609.78h0.8v5.66h-0.8zM144.1,609.78h1.5v5.66h-1.5zM82.2,621.10h0.6v5.66h-0.6zM120.2,621.10h1.0v5.66h-1.0zM133.8,621.10h1.5v5.66h-1.5zM144.9,621.10h0.6v5.66h-0.6zM157.7,621.10h0.6v5.66h-0.6zM94.2,649.40h1.0v5.66h-1.0zM98.5,649.40h0.6v5.66h-0.6zM103.3,649.40h1.0v5.66h-1.0zM142.9,649.40h1.5v5.66h-1.5zM147.0,649.40h0.6v5.66h-0.6z" fill="#811C9B"/>
<path d="M68.4,575.82h1.0v5.66h-1.0zM75.9,575.82h1.0v5.66h-1.0zM134.7,575.82h0.6v5.66h-0.6zM135.3,575.82h1.0v5.66h-1.0zM149.9,575.82h1.0v5.66h-1.0zM96.4,592.80h1.5v5.66h-1.5zM153.9,592.80h1.2v5.66h-1.2zM64.1,598.46h1.5v5.66h-1.5zM70.0,598.46h1.0v5.66h-1.0zM76.6,598.46h0.8v5.66h-0.8zM82.0,598.46h1.5v5.66h-1.5zM90.0,598.46h1.5v5.66h-1.5zM95.0,598.46h1.0v5.66h-1.0zM115.5,598.46h0.8v5.66h-0.8zM83.1,615.44h1.2v5.66h-1.2zM94.8,615.44h1.5v5.66h-1.5zM96.3,615.44h1.0v5.66h-1.0zM130.7,615.44h1.0v5.66h-1.0zM92.8,626.76h1.0v5.66h-1.0zM124.2,626.76h1.0v5.66h-1.0zM79.6,632.42h1.2v5.66h-1.2zM91.3,632.42h1.5v5.66h-1.5zM147.2,632.42h1.2v5.66h-1.2z" fill="#71168F"/>
<path d="M92.9,575.82h1.2v5.66h-1.2zM122.9,575.82h0.8v5.66h-0.8zM144.9,575.82h1.2v5.66h-1.2zM64.6,592.80h1.2v5.66h-1.2zM94.0,592.80h0.8v5.66h-0.8zM107.4,592.80h0.6v5.66h-0.6zM114.9,592.80h1.0v5.66h-1.0zM133.9,592.80h1.0v5.66h-1.0zM156.9,592.80h0.8v5.66h-0.8zM73.6,598.46h1.0v5.66h-1.0zM104.0,598.46h0.6v5.66h-0.6zM138.0,598.46h1.0v5.66h-1.0zM141.3,598.46h0.6v5.66h-0.6zM157.6,598.46h1.2v5.66h-1.2zM120.6,615.44h1.0v5.66h-1.0zM134.4,615.44h1.0v5.66h-1.0zM153.6,615.44h0.6v5.66h-0.6zM157.0,615.44h1.0v5.66h-1.0zM66.3,626.76h1.2v5.66h-1.2zM87.7,626.76h1.5v5.66h-1.5zM152.7,626.76h1.2v5.66h-1.2zM74.4,632.42h0.8v5.66h-0.8zM84.4,632.42h1.0v5.66h-1.0zM100.1,632.42h1.5v5.66h-1.5zM104.1,632.42h1.2v5.66h-1.2z" fill="#6C1588"/>
<path d="M102.9,575.82h1.5v5.66h-1.5zM128.7,575.82h1.5v5.66h-1.5zM84.7,592.80h1.0v5.66h-1.0zM93.4,592.80h0.6v5.66h-0.6zM110.7,592.80h0.8v5.66h-0.8zM126.6,592.80h0.8v5.66h-0.8zM155.9,592.80h1.0v5.66h-1.0zM158.5,592.80h1.5v5.66h-1.5zM62.6,598.46h1.5v5.66h-1.5zM73.0,598.46h0.6v5.66h-0.6zM97.4,598.46h1.5v5.66h-1.5zM109.8,598.46h0.6v5.66h-0.6zM69.2,615.44h0.6v5.66h-0.6zM93.6,615.44h1.2v5.66h-1.2zM102.6,615.44h1.2v5.66h-1.2zM125.9,615.44h0.6v5.66h-0.6zM129.5,615.44h1.2v5.66h-1.2zM145.5,615.44h1.0v5.66h-1.0zM110.8,626.76h0.8v5.66h-0.8zM113.1,626.76h1.0v5.66h-1.0zM155.7,626.76h0.6v5.66h-0.6zM107.5,632.42h1.0v5.66h-1.0zM117.8,632.42h0.8v5.66h-0.8zM149.4,632.42h1.0v5.66h-1.0zM151.0,632.42h0.8v5.66h-0.8z" fill="#5C1273"/>
<path d="M109.9,575.82h0.8v5.66h-0.8zM127.3,575.82h0.6v5.66h-0.6zM71.8,592.80h1.0v5.66h-1.0zM108.0,592.80h1.2v5.66h-1.2zM109.2,592.80h1.5v5.66h-1.5zM147.7,592.80h1.2v5.66h-1.2zM149.7,592.80h1.0v5.66h-1.0zM78.0,598.46h1.0v5.66h-1.0zM86.2,598.46h1.2v5.66h-1.2zM110.4,598.46h1.5v5.66h-1.5zM127.0,598.46h1.0v5.66h-1.0zM149.8,598.46h0.8v5.66h-0.8zM152.8,598.46h0.8v5.66h-0.8zM154.6,598.46h1.2v5.66h-1.2zM62.8,615.44h0.8v5.66h-0.8zM63.6,615.44h1.0v5.66h-1.0zM66.0,615.44h1.0v5.66h-1.0zM74.8,615.44h0.8v5.66h-0.8zM76.8,615.44h1.0v5.66h-1.0zM97.3,615.44h1.5v5.66h-1.5zM133.8,615.44h0.6v5.66h-0.6zM148.7,615.44h1.5v5.66h-1.5zM154.2,615.44h1.0v5.66h-1.0zM84.5,626.76h1.0v5.66h-1.0zM93.8,626.76h1.5v5.66h-1.5zM98.5,626.76h1.5v5.66h-1.5zM138.7,626.76h0.6v5.66h-0.6zM143.4,626.76h1.2v5.66h-1.2zM146.1,626.76h1.2v5.66h-1.2zM125.2,632.42h1.0v5.66h-1.0zM130.5,632.42h1.2v5.66h-1.2zM132.7,632.42h0.8v5.66h-0.8zM133.5,632.42h1.0v5.66h-1.0z" fill="#56116C"/>
</g></g>
<line x1="160.4" y1="479.6" x2="160.4" y2="683.4" stroke="#FFFFFF" stroke-opacity="0.55" stroke-width="0.8"/>
<line x1="190.4" y1="479.6" x2="190.4" y2="683.4" stroke="#FFFFFF" stroke-opacity="0.55" stroke-width="0.8"/>
<line x1="216.5" y1="479.6" x2="216.5" y2="683.4" stroke="#FFFFFF" stroke-opacity="0.55" stroke-width="0.8"/>
<line x1="231.7" y1="479.6" x2="231.7" y2="683.4" stroke="#FFFFFF" stroke-opacity="0.55" stroke-width="0.8"/>
<line x1="236.5" y1="479.6" x2="236.5" y2="683.4" stroke="#FFFFFF" stroke-opacity="0.55" stroke-width="0.8"/>
<line x1="239.5" y1="479.6" x2="239.5" y2="683.4" stroke="#FFFFFF" stroke-opacity="0.55" stroke-width="0.8"/>
<line x1="241.5" y1="479.6" x2="241.5" y2="683.4" stroke="#FFFFFF" stroke-opacity="0.55" stroke-width="0.8"/>
<line x1="243.5" y1="479.6" x2="243.5" y2="683.4" stroke="#FFFFFF" stroke-opacity="0.55" stroke-width="0.8"/>
<text x="58.3" y="484.53" font-family="Liberation Sans, Arial, sans-serif" font-size="6.2" font-weight="bold" fill="#333" text-anchor="end">CCL5</text>
<text x="58.3" y="490.19" font-family="Liberation Sans, Arial, sans-serif" font-size="6.2" font-weight="bold" fill="#333" text-anchor="end">CD8A</text>
<text x="58.3" y="495.85" font-family="Liberation Sans, Arial, sans-serif" font-size="6.2" font-weight="bold" fill="#333" text-anchor="end">NKG7</text>
<text x="58.3" y="501.51" font-family="Liberation Sans, Arial, sans-serif" font-size="6.2" font-weight="bold" fill="#333" text-anchor="end">TRGC2</text>
<text x="58.3" y="507.17" font-family="Liberation Sans, Arial, sans-serif" font-size="6.2" font-weight="bold" fill="#333" text-anchor="end">GZMH</text>
<text x="58.3" y="512.83" font-family="Liberation Sans, Arial, sans-serif" font-size="6.2" font-weight="bold" fill="#333" text-anchor="end">TSHZ2</text>
<text x="58.3" y="518.49" font-family="Liberation Sans, Arial, sans-serif" font-size="6.2" font-weight="bold" fill="#333" text-anchor="end">CAMK4</text>
<text x="58.3" y="524.15" font-family="Liberation Sans, Arial, sans-serif" font-size="6.2" font-weight="bold" fill="#333" text-anchor="end" textLength="57" lengthAdjust="spacingAndGlyphs">ENSG00000249806</text>
<text x="58.3" y="529.81" font-family="Liberation Sans, Arial, sans-serif" font-size="6.2" font-weight="bold" fill="#333" text-anchor="end">IGHM</text>
<text x="58.3" y="535.47" font-family="Liberation Sans, Arial, sans-serif" font-size="6.2" font-weight="bold" fill="#333" text-anchor="end">MS4A1</text>
<text x="58.3" y="541.13" font-family="Liberation Sans, Arial, sans-serif" font-size="6.2" font-weight="bold" fill="#333" text-anchor="end">HLA-DRA</text>
<text x="58.3" y="546.79" font-family="Liberation Sans, Arial, sans-serif" font-size="6.2" font-weight="bold" fill="#333" text-anchor="end">CD74</text>
<text x="58.3" y="552.45" font-family="Liberation Sans, Arial, sans-serif" font-size="6.2" font-weight="bold" fill="#333" text-anchor="end">CD79A</text>
<text x="58.3" y="558.11" font-family="Liberation Sans, Arial, sans-serif" font-size="6.2" font-weight="bold" fill="#333" text-anchor="end">IRF8</text>
<text x="58.3" y="563.77" font-family="Liberation Sans, Arial, sans-serif" font-size="6.2" font-weight="bold" fill="#333" text-anchor="end">TCF4</text>
<text x="58.3" y="569.43" font-family="Liberation Sans, Arial, sans-serif" font-size="6.2" font-weight="bold" fill="#333" text-anchor="end">RHEX</text>
<text x="58.3" y="575.09" font-family="Liberation Sans, Arial, sans-serif" font-size="6.2" font-weight="bold" fill="#333" text-anchor="end">ITM2C</text>
<text x="58.3" y="580.75" font-family="Liberation Sans, Arial, sans-serif" font-size="6.2" font-weight="bold" fill="#333" text-anchor="end">SERPINF1</text>
<text x="58.3" y="586.41" font-family="Liberation Sans, Arial, sans-serif" font-size="6.2" font-weight="bold" fill="#333" text-anchor="end">PLXDC2</text>
<text x="58.3" y="592.07" font-family="Liberation Sans, Arial, sans-serif" font-size="6.2" font-weight="bold" fill="#333" text-anchor="end">SLC8A1</text>
<text x="58.3" y="597.73" font-family="Liberation Sans, Arial, sans-serif" font-size="6.2" font-weight="bold" fill="#333" text-anchor="end">VCAN</text>
<text x="58.3" y="603.39" font-family="Liberation Sans, Arial, sans-serif" font-size="6.2" font-weight="bold" fill="#333" text-anchor="end">CSF3R</text>
<text x="58.3" y="609.05" font-family="Liberation Sans, Arial, sans-serif" font-size="6.2" font-weight="bold" fill="#333" text-anchor="end">NAMPT</text>
<text x="58.3" y="614.71" font-family="Liberation Sans, Arial, sans-serif" font-size="6.2" font-weight="bold" fill="#333" text-anchor="end">LYZ</text>
<text x="58.3" y="620.37" font-family="Liberation Sans, Arial, sans-serif" font-size="6.2" font-weight="bold" fill="#333" text-anchor="end">CST3</text>
<text x="58.3" y="626.03" font-family="Liberation Sans, Arial, sans-serif" font-size="6.2" font-weight="bold" fill="#333" text-anchor="end">S100A8</text>
<text x="58.3" y="631.69" font-family="Liberation Sans, Arial, sans-serif" font-size="6.2" font-weight="bold" fill="#333" text-anchor="end">FCN1</text>
<text x="58.3" y="637.35" font-family="Liberation Sans, Arial, sans-serif" font-size="6.2" font-weight="bold" fill="#333" text-anchor="end">S100A9</text>
<text x="58.3" y="643.01" font-family="Liberation Sans, Arial, sans-serif" font-size="6.2" font-weight="bold" fill="#333" text-anchor="end">IGHD</text>
<text x="58.3" y="648.67" font-family="Liberation Sans, Arial, sans-serif" font-size="6.2" font-weight="bold" fill="#333" text-anchor="end">CD8B</text>
<text x="58.3" y="654.33" font-family="Liberation Sans, Arial, sans-serif" font-size="6.2" font-weight="bold" fill="#333" text-anchor="end">LINC02446</text>
<text x="58.3" y="659.99" font-family="Liberation Sans, Arial, sans-serif" font-size="6.2" font-weight="bold" fill="#333" text-anchor="end">LRRN3</text>
<text x="58.3" y="665.65" font-family="Liberation Sans, Arial, sans-serif" font-size="6.2" font-weight="bold" fill="#333" text-anchor="end">GNLY</text>
<text x="58.3" y="671.31" font-family="Liberation Sans, Arial, sans-serif" font-size="6.2" font-weight="bold" fill="#333" text-anchor="end">PRF1</text>
<text x="58.3" y="676.97" font-family="Liberation Sans, Arial, sans-serif" font-size="6.2" font-weight="bold" fill="#333" text-anchor="end">FGFBP2</text>
<text x="58.3" y="682.63" font-family="Liberation Sans, Arial, sans-serif" font-size="6.2" font-weight="bold" fill="#333" text-anchor="end">IL2RB</text>
<text x="253.8" y="496.2" font-family="Liberation Sans, Arial, sans-serif" font-size="7" fill="#333">Expression</text>
<defs><linearGradient id="expc" x1="0" y1="1" x2="0" y2="0"><stop offset="0" stop-color="#FF22FF"/><stop offset="0.2" stop-color="#B018B8"/><stop offset="0.5" stop-color="#000000"/><stop offset="0.75" stop-color="#8A8E10"/><stop offset="1" stop-color="#F0FF22"/></linearGradient></defs>
<rect x="254.1" y="500.8" width="10.8" height="54.5" fill="url(#expc)"/>
<path d="M254.1,508.4h2M262.9,508.4h2" stroke="#fff" stroke-width="0.4" stroke-opacity="0.7"/>
<text x="267.6" y="510.4" font-family="Liberation Sans, Arial, sans-serif" font-size="6.4" fill="#222" stroke="#222" stroke-width="0.08">2</text>
<path d="M254.1,523.1h2M262.9,523.1h2" stroke="#fff" stroke-width="0.4" stroke-opacity="0.7"/>
<text x="267.6" y="525.1" font-family="Liberation Sans, Arial, sans-serif" font-size="6.4" fill="#222" stroke="#222" stroke-width="0.08">1</text>
<path d="M254.1,537.8h2M262.9,537.8h2" stroke="#fff" stroke-width="0.4" stroke-opacity="0.7"/>
<text x="267.6" y="539.8" font-family="Liberation Sans, Arial, sans-serif" font-size="6.4" fill="#222" stroke="#222" stroke-width="0.08">0</text>
<path d="M254.1,552.8h2M262.9,552.8h2" stroke="#fff" stroke-width="0.4" stroke-opacity="0.7"/>
<text x="267.6" y="554.8" font-family="Liberation Sans, Arial, sans-serif" font-size="6.4" fill="#222" stroke="#222" stroke-width="0.08">-1</text>
<text x="254" y="575.5" font-family="Liberation Sans, Arial, sans-serif" font-size="7.6" fill="#333">Identity</text>
<circle cx="259.4" cy="585.10" r="1.3" fill="#E0A024"/>
<text x="268.1" y="587.10" font-family="DejaVu Sans Condensed, Liberation Sans, sans-serif" font-size="5.8" fill="#222" stroke="#222" stroke-width="0.1" textLength="31" lengthAdjust="spacingAndGlyphs">CD4+ T cells</text>
<circle cx="259.4" cy="596.03" r="1.3" fill="#F966EA"/>
<text x="268.1" y="598.03" font-family="DejaVu Sans Condensed, Liberation Sans, sans-serif" font-size="5.8" fill="#222" stroke="#222" stroke-width="0.1" textLength="48.5" lengthAdjust="spacingAndGlyphs">NK-featured T cells</text>
<circle cx="259.4" cy="606.96" r="1.3" fill="#EC6A62"/>
<text x="268.1" y="608.96" font-family="DejaVu Sans Condensed, Liberation Sans, sans-serif" font-size="5.8" fill="#222" stroke="#222" stroke-width="0.1" textLength="16.6" lengthAdjust="spacingAndGlyphs">B cells</text>
<circle cx="259.4" cy="617.89" r="1.3" fill="#DE72F4"/>
<text x="268.1" y="619.89" font-family="DejaVu Sans Condensed, Liberation Sans, sans-serif" font-size="5.8" fill="#222" stroke="#222" stroke-width="0.1" textLength="20.5" lengthAdjust="spacingAndGlyphs">NK cells</text>
<circle cx="259.4" cy="628.82" r="1.3" fill="#9CA21E"/>
<text x="268.1" y="630.82" font-family="DejaVu Sans Condensed, Liberation Sans, sans-serif" font-size="5.8" fill="#222" stroke="#222" stroke-width="0.1" textLength="31" lengthAdjust="spacingAndGlyphs">CD8+ T cells</text>
<circle cx="259.4" cy="639.75" r="1.3" fill="#5C9DFA"/>
<text x="268.1" y="641.75" font-family="DejaVu Sans Condensed, Liberation Sans, sans-serif" font-size="5.8" fill="#222" stroke="#222" stroke-width="0.1" textLength="28" lengthAdjust="spacingAndGlyphs">Monocytes</text>
<circle cx="259.4" cy="650.68" r="1.3" fill="#A98CF8"/>
<text x="268.1" y="652.68" font-family="DejaVu Sans Condensed, Liberation Sans, sans-serif" font-size="5.8" fill="#222" stroke="#222" stroke-width="0.1" textLength="36.3" lengthAdjust="spacingAndGlyphs">Monocyte-like</text>
<circle cx="259.4" cy="661.61" r="1.3" fill="#3FC8C4"/>
<text x="268.1" y="663.61" font-family="DejaVu Sans Condensed, Liberation Sans, sans-serif" font-size="5.8" fill="#222" stroke="#222" stroke-width="0.1" textLength="45" lengthAdjust="spacingAndGlyphs">Innate-like B cells</text>
<circle cx="259.4" cy="672.54" r="1.3" fill="#3CD184"/>
<text x="268.1" y="674.54" font-family="DejaVu Sans Condensed, Liberation Sans, sans-serif" font-size="5.8" fill="#222" stroke="#222" stroke-width="0.1" textLength="36.8" lengthAdjust="spacingAndGlyphs">Dendritic cells</text>
<text x="320.4" y="508" font-family="Liberation Sans, Arial, sans-serif" font-size="13.2" fill="#111">E</text>
<path d="M387,518.60H589.7M387,530.64H589.7M387,542.67H589.7M387,554.71H589.7M387,566.75H589.7M387,578.79H589.7M387,590.82H589.7M387,602.86H589.7M387,614.90H589.7" stroke="#EBEBEB" stroke-width="0.5" fill="none"/>
<text x="375.6" y="520.80" font-family="Liberation Sans, Arial, sans-serif" font-size="6.6" fill="#444" text-anchor="end">100%</text>
<text x="375.6" y="544.88" font-family="Liberation Sans, Arial, sans-serif" font-size="6.6" fill="#444" text-anchor="end">75%</text>
<text x="375.6" y="568.95" font-family="Liberation Sans, Arial, sans-serif" font-size="6.6" fill="#444" text-anchor="end">50%</text>
<text x="375.6" y="593.02" font-family="Liberation Sans, Arial, sans-serif" font-size="6.6" fill="#444" text-anchor="end">25%</text>
<text x="375.6" y="617.10" font-family="Liberation Sans, Arial, sans-serif" font-size="6.6" fill="#444" text-anchor="end">0%</text>
<text x="0" y="0" font-family="Liberation Sans, Arial, sans-serif" font-size="8" font-weight="bold" fill="#111" text-anchor="middle" transform="translate(352.6,561.1) rotate(-90)" textLength="81" lengthAdjust="spacingAndGlyphs">Cell Proportion (%)</text>
<rect x="394.1" y="518.60" width="18.8" height="13.39" fill="#F068B6"/>
<rect x="394.1" y="531.99" width="18.8" height="50.36" fill="#CCA52F"/>
<rect x="394.1" y="582.35" width="18.8" height="1.06" fill="#6BAE48"/>
<rect x="394.1" y="583.41" width="18.8" height="9.34" fill="#5AA0F0"/>
<rect x="394.1" y="592.75" width="18.8" height="17.72" fill="#F08CFC"/>
<rect x="394.1" y="610.47" width="18.8" height="4.43" fill="#CDCDCD"/>
<text x="403.50" y="528.29" font-family="Liberation Sans, Arial, sans-serif" font-size="6.7" fill="#1E1E1E" stroke="#1E1E1E" stroke-width="0.1" text-anchor="middle" textLength="17" lengthAdjust="spacingAndGlyphs">13.9%</text>
<text x="403.50" y="559.00" font-family="Liberation Sans, Arial, sans-serif" font-size="6.7" fill="#1E1E1E" stroke="#1E1E1E" stroke-width="0.1" text-anchor="middle" textLength="17" lengthAdjust="spacingAndGlyphs">52.3%</text>
<text x="403.50" y="590.38" font-family="Liberation Sans, Arial, sans-serif" font-size="6.7" fill="#1E1E1E" stroke="#1E1E1E" stroke-width="0.1" text-anchor="middle" textLength="14" lengthAdjust="spacingAndGlyphs">9.7%</text>
<text x="403.50" y="608.40" font-family="Liberation Sans, Arial, sans-serif" font-size="6.7" fill="#1E1E1E" stroke="#1E1E1E" stroke-width="0.1" text-anchor="middle" textLength="17" lengthAdjust="spacingAndGlyphs">18.4%</text>
<rect x="422.6" y="518.60" width="18.8" height="15.12" fill="#F068B6"/>
<rect x="422.6" y="533.72" width="18.8" height="57.01" fill="#CCA52F"/>
<rect x="422.6" y="590.73" width="18.8" height="2.21" fill="#6BAE48"/>
<rect x="422.6" y="592.94" width="18.8" height="5.97" fill="#5AA0F0"/>
<rect x="422.6" y="598.91" width="18.8" height="12.52" fill="#F08CFC"/>
<rect x="422.6" y="611.43" width="18.8" height="3.47" fill="#CDCDCD"/>
<text x="432.00" y="529.16" font-family="Liberation Sans, Arial, sans-serif" font-size="6.7" fill="#1E1E1E" stroke="#1E1E1E" stroke-width="0.1" text-anchor="middle" textLength="17" lengthAdjust="spacingAndGlyphs">15.7%</text>
<text x="432.00" y="559.00" font-family="Liberation Sans, Arial, sans-serif" font-size="6.7" fill="#1E1E1E" stroke="#1E1E1E" stroke-width="0.1" text-anchor="middle" textLength="17" lengthAdjust="spacingAndGlyphs">59.2%</text>
<text x="432.00" y="598.23" font-family="Liberation Sans, Arial, sans-serif" font-size="6.7" fill="#1E1E1E" stroke="#1E1E1E" stroke-width="0.1" text-anchor="middle" textLength="14" lengthAdjust="spacingAndGlyphs">6.2%</text>
<text x="432.00" y="608.40" font-family="Liberation Sans, Arial, sans-serif" font-size="6.7" fill="#1E1E1E" stroke="#1E1E1E" stroke-width="0.1" text-anchor="middle" textLength="17" lengthAdjust="spacingAndGlyphs">13.0%</text>
<rect x="464.9" y="518.60" width="18.4" height="5.30" fill="#F068B6"/>
<rect x="464.9" y="523.90" width="18.4" height="60.19" fill="#CCA52F"/>
<rect x="464.9" y="584.08" width="18.4" height="2.50" fill="#6BAE48"/>
<rect x="464.9" y="586.59" width="18.4" height="8.76" fill="#5AA0F0"/>
<rect x="464.9" y="595.35" width="18.4" height="16.47" fill="#F08CFC"/>
<rect x="464.9" y="611.82" width="18.4" height="3.08" fill="#CDCDCD"/>
<text x="474.10" y="524.25" font-family="Liberation Sans, Arial, sans-serif" font-size="6.7" fill="#1E1E1E" stroke="#1E1E1E" stroke-width="0.1" text-anchor="middle" textLength="14" lengthAdjust="spacingAndGlyphs">5.5%</text>
<text x="474.10" y="559.00" font-family="Liberation Sans, Arial, sans-serif" font-size="6.7" fill="#1E1E1E" stroke="#1E1E1E" stroke-width="0.1" text-anchor="middle" textLength="17" lengthAdjust="spacingAndGlyphs">62.5%</text>
<text x="474.10" y="593.27" font-family="Liberation Sans, Arial, sans-serif" font-size="6.7" fill="#1E1E1E" stroke="#1E1E1E" stroke-width="0.1" text-anchor="middle" textLength="14" lengthAdjust="spacingAndGlyphs">9.1%</text>
<text x="474.10" y="608.40" font-family="Liberation Sans, Arial, sans-serif" font-size="6.7" fill="#1E1E1E" stroke="#1E1E1E" stroke-width="0.1" text-anchor="middle" textLength="17" lengthAdjust="spacingAndGlyphs">17.1%</text>
<rect x="492.9" y="518.60" width="18.7" height="11.46" fill="#F068B6"/>
<rect x="492.9" y="530.06" width="18.7" height="53.25" fill="#CCA52F"/>
<rect x="492.9" y="583.31" width="18.7" height="2.89" fill="#6BAE48"/>
<rect x="492.9" y="586.20" width="18.7" height="7.32" fill="#5AA0F0"/>
<rect x="492.9" y="593.52" width="18.7" height="17.43" fill="#F08CFC"/>
<rect x="492.9" y="610.95" width="18.7" height="3.95" fill="#CDCDCD"/>
<text x="502.25" y="527.33" font-family="Liberation Sans, Arial, sans-serif" font-size="6.7" fill="#1E1E1E" stroke="#1E1E1E" stroke-width="0.1" text-anchor="middle" textLength="17" lengthAdjust="spacingAndGlyphs">11.9%</text>
<text x="502.25" y="559.00" font-family="Liberation Sans, Arial, sans-serif" font-size="6.7" fill="#1E1E1E" stroke="#1E1E1E" stroke-width="0.1" text-anchor="middle" textLength="17" lengthAdjust="spacingAndGlyphs">55.3%</text>
<text x="502.25" y="592.16" font-family="Liberation Sans, Arial, sans-serif" font-size="6.7" fill="#1E1E1E" stroke="#1E1E1E" stroke-width="0.1" text-anchor="middle" textLength="14" lengthAdjust="spacingAndGlyphs">7.6%</text>
<text x="502.25" y="608.40" font-family="Liberation Sans, Arial, sans-serif" font-size="6.7" fill="#1E1E1E" stroke="#1E1E1E" stroke-width="0.1" text-anchor="middle" textLength="17" lengthAdjust="spacingAndGlyphs">18.1%</text>
<rect x="535.2" y="518.60" width="18.6" height="14.35" fill="#F068B6"/>
<rect x="535.2" y="532.95" width="18.6" height="48.44" fill="#CCA52F"/>
<rect x="535.2" y="581.39" width="18.6" height="0.77" fill="#6BAE48"/>
<rect x="535.2" y="582.16" width="18.6" height="9.73" fill="#5AA0F0"/>
<rect x="535.2" y="591.88" width="18.6" height="19.55" fill="#F08CFC"/>
<rect x="535.2" y="611.43" width="18.6" height="3.47" fill="#CDCDCD"/>
<text x="544.50" y="528.77" font-family="Liberation Sans, Arial, sans-serif" font-size="6.7" fill="#1E1E1E" stroke="#1E1E1E" stroke-width="0.1" text-anchor="middle" textLength="17" lengthAdjust="spacingAndGlyphs">14.9%</text>
<text x="544.50" y="559.00" font-family="Liberation Sans, Arial, sans-serif" font-size="6.7" fill="#1E1E1E" stroke="#1E1E1E" stroke-width="0.1" text-anchor="middle" textLength="17" lengthAdjust="spacingAndGlyphs">50.3%</text>
<text x="544.50" y="589.32" font-family="Liberation Sans, Arial, sans-serif" font-size="6.7" fill="#1E1E1E" stroke="#1E1E1E" stroke-width="0.1" text-anchor="middle" textLength="17" lengthAdjust="spacingAndGlyphs">10.1%</text>
<text x="544.50" y="608.40" font-family="Liberation Sans, Arial, sans-serif" font-size="6.7" fill="#1E1E1E" stroke="#1E1E1E" stroke-width="0.1" text-anchor="middle" textLength="17" lengthAdjust="spacingAndGlyphs">20.3%</text>
<rect x="563.8" y="518.60" width="18.4" height="13.39" fill="#F068B6"/>
<rect x="563.8" y="531.99" width="18.4" height="59.22" fill="#CCA52F"/>
<rect x="563.8" y="591.21" width="18.4" height="2.89" fill="#6BAE48"/>
<rect x="563.8" y="594.10" width="18.4" height="4.14" fill="#5AA0F0"/>
<rect x="563.8" y="598.24" width="18.4" height="13.39" fill="#F08CFC"/>
<rect x="563.8" y="611.63" width="18.4" height="3.27" fill="#CDCDCD"/>
<text x="573.00" y="528.29" font-family="Liberation Sans, Arial, sans-serif" font-size="6.7" fill="#1E1E1E" stroke="#1E1E1E" stroke-width="0.1" text-anchor="middle" textLength="17" lengthAdjust="spacingAndGlyphs">13.9%</text>
<text x="573.00" y="559.00" font-family="Liberation Sans, Arial, sans-serif" font-size="6.7" fill="#1E1E1E" stroke="#1E1E1E" stroke-width="0.1" text-anchor="middle" textLength="17" lengthAdjust="spacingAndGlyphs">61.5%</text>
<text x="573.00" y="598.47" font-family="Liberation Sans, Arial, sans-serif" font-size="6.7" fill="#1E1E1E" stroke="#1E1E1E" stroke-width="0.1" text-anchor="middle" textLength="14" lengthAdjust="spacingAndGlyphs">4.3%</text>
<text x="573.00" y="608.40" font-family="Liberation Sans, Arial, sans-serif" font-size="6.7" fill="#1E1E1E" stroke="#1E1E1E" stroke-width="0.1" text-anchor="middle" textLength="17" lengthAdjust="spacingAndGlyphs">13.9%</text>
<path d="M390.3,578.8L395,583.5" stroke="#777" stroke-width="0.4" fill="none"/>
<text x="383.1" y="577.2" font-family="Liberation Sans, Arial, sans-serif" font-size="6.7" fill="#2A2A2A" stroke="#2A2A2A" stroke-width="0.08" text-anchor="middle" textLength="14.3" lengthAdjust="spacingAndGlyphs">1.1%</text>
<path d="M441.4,591.5L445.7,595.6" stroke="#777" stroke-width="0.4" fill="none"/>
<text x="453.4" y="600.7" font-family="Liberation Sans, Arial, sans-serif" font-size="6.7" fill="#2A2A2A" stroke="#2A2A2A" stroke-width="0.08" text-anchor="middle" textLength="14.3" lengthAdjust="spacingAndGlyphs">2.3%</text>
<path d="M460.7,581.6L465.4,584.4" stroke="#777" stroke-width="0.4" fill="none"/>
<text x="453.2" y="582.5" font-family="Liberation Sans, Arial, sans-serif" font-size="6.7" fill="#2A2A2A" stroke="#2A2A2A" stroke-width="0.08" text-anchor="middle" textLength="14.3" lengthAdjust="spacingAndGlyphs">2.6%</text>
<path d="M511.6,585.2L515,588.2" stroke="#777" stroke-width="0.4" fill="none"/>
<text x="522.4" y="592.9" font-family="Liberation Sans, Arial, sans-serif" font-size="6.7" fill="#2A2A2A" stroke="#2A2A2A" stroke-width="0.08" text-anchor="middle" textLength="14.3" lengthAdjust="spacingAndGlyphs">3.0%</text>
<path d="M532,576.2L535.5,580" stroke="#777" stroke-width="0.4" fill="none"/>
<text x="525.5" y="575.4" font-family="Liberation Sans, Arial, sans-serif" font-size="6.7" fill="#2A2A2A" stroke="#2A2A2A" stroke-width="0.08" text-anchor="middle" textLength="14.3" lengthAdjust="spacingAndGlyphs">0.8%</text>
<path d="M582.2,592.4L587,597" stroke="#777" stroke-width="0.4" fill="none"/>
<text x="594.4" y="602.0" font-family="Liberation Sans, Arial, sans-serif" font-size="6.7" fill="#2A2A2A" stroke="#2A2A2A" stroke-width="0.08" text-anchor="middle" textLength="14.3" lengthAdjust="spacingAndGlyphs">3.0%</text>
<text x="417.8" y="510.3" font-family="Liberation Sans, Arial, sans-serif" font-size="10.1" fill="#111" stroke="#111" stroke-width="0.12" text-anchor="middle">Placebo</text>
<text x="489.1" y="510.3" font-family="Liberation Sans, Arial, sans-serif" font-size="10.1" fill="#111" stroke="#111" stroke-width="0.12" text-anchor="middle">S-K</text>
<text x="559.1" y="510.3" font-family="Liberation Sans, Arial, sans-serif" font-size="10.1" fill="#111" stroke="#111" stroke-width="0.12" text-anchor="middle">LMS-K</text>
<text x="0" y="0" font-family="Liberation Sans, Arial, sans-serif" font-size="8.9" fill="#222" text-anchor="end" transform="translate(408.10,624.2) rotate(-45)">Before</text>
<text x="0" y="0" font-family="Liberation Sans, Arial, sans-serif" font-size="8.9" fill="#222" text-anchor="end" transform="translate(436.60,624.2) rotate(-45)">After</text>
<text x="0" y="0" font-family="Liberation Sans, Arial, sans-serif" font-size="8.9" fill="#222" text-anchor="end" transform="translate(478.70,624.2) rotate(-45)">Before</text>
<text x="0" y="0" font-family="Liberation Sans, Arial, sans-serif" font-size="8.9" fill="#222" text-anchor="end" transform="translate(506.85,624.2) rotate(-45)">After</text>
<text x="0" y="0" font-family="Liberation Sans, Arial, sans-serif" font-size="8.9" fill="#222" text-anchor="end" transform="translate(549.10,624.2) rotate(-45)">Before</text>
<text x="0" y="0" font-family="Liberation Sans, Arial, sans-serif" font-size="8.9" fill="#222" text-anchor="end" transform="translate(577.60,624.2) rotate(-45)">After</text>
<text x="394.5" y="658.2" font-family="Liberation Sans, Arial, sans-serif" font-size="7.4" font-weight="bold" fill="#111">Cell Type</text>
<rect x="395.1" y="664.3" width="8.7" height="8.6" fill="#F068B6"/>
<text x="408.9" y="670.9" font-family="Liberation Sans, Arial, sans-serif" font-size="7" fill="#222" stroke="#222" stroke-width="0.1">B cells</text>
<rect x="395.1" y="674.0" width="8.7" height="8.6" fill="#CCA52F"/>
<text x="408.9" y="680.6" font-family="Liberation Sans, Arial, sans-serif" font-size="7" fill="#222" stroke="#222" stroke-width="0.1">CD4+ T cells</text>
<rect x="454.0" y="664.3" width="8.7" height="8.6" fill="#6BAE48"/>
<text x="467.8" y="670.9" font-family="Liberation Sans, Arial, sans-serif" font-size="7" fill="#222" stroke="#222" stroke-width="0.1">CD8+ T cells</text>
<rect x="454.0" y="674.0" width="8.7" height="8.6" fill="#5AA0F0"/>
<text x="467.8" y="680.6" font-family="Liberation Sans, Arial, sans-serif" font-size="7" fill="#222" stroke="#222" stroke-width="0.1">NK cells</text>
<rect x="518.1" y="664.3" width="8.7" height="8.6" fill="#F08CFC"/>
<text x="531.9" y="670.9" font-family="Liberation Sans, Arial, sans-serif" font-size="7" fill="#222" stroke="#222" stroke-width="0.1">NK-featured T cells</text>
<rect x="518.1" y="674.0" width="8.7" height="8.6" fill="#CDCDCD"/>
<text x="531.9" y="680.6" font-family="Liberation Sans, Arial, sans-serif" font-size="7" fill="#222" stroke="#222" stroke-width="0.1">Others</text>
</svg>
</body></html>
